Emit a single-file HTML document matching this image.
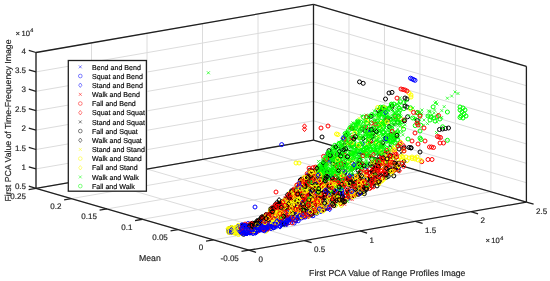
<!DOCTYPE html>
<html><head><meta charset="utf-8"><style>
html,body{margin:0;padding:0;background:#fff;width:550px;height:281px;overflow:hidden}
svg{display:block}
.g{stroke:#dcdcdc;stroke-width:1}
.a{stroke:#202020;stroke-width:1.3;fill:none}
rect.a{fill:#fff}
text{font-family:"Liberation Sans",Arial,sans-serif;fill:#262626;stroke:#262626;stroke-width:0.18px;text-rendering:geometricPrecision}
.t{font-size:8px}
.l{font-size:7.1px;fill:#000;stroke:#000;stroke-width:0.15px}
.al{font-size:8.7px}
.e{font-size:7.6px}
.s{font-size:5.4px}
</style></head><body>
<svg width="550" height="281" viewBox="0 0 550 281">
<g>
<line x1="248.9" y1="250.2" x2="36" y2="188.3" class="g"/>
<line x1="304.4" y1="240.58" x2="91.5" y2="178.68" class="g"/>
<line x1="359.9" y1="230.96" x2="147" y2="169.06" class="g"/>
<line x1="415.4" y1="221.34" x2="202.5" y2="159.44" class="g"/>
<line x1="470.9" y1="211.72" x2="258" y2="149.82" class="g"/>
<line x1="526.4" y1="202.1" x2="313.5" y2="140.2" class="g"/>
<line x1="248.9" y1="250.2" x2="526.4" y2="202.1" class="g"/>
<line x1="213.42" y1="239.88" x2="490.92" y2="191.78" class="g"/>
<line x1="177.93" y1="229.57" x2="455.43" y2="181.47" class="g"/>
<line x1="142.45" y1="219.25" x2="419.95" y2="171.15" class="g"/>
<line x1="106.97" y1="208.93" x2="384.47" y2="160.83" class="g"/>
<line x1="71.48" y1="198.62" x2="348.98" y2="150.52" class="g"/>
<line x1="36" y1="188.3" x2="313.5" y2="140.2" class="g"/>
<line x1="36" y1="188.3" x2="36" y2="52.5" class="g"/>
<line x1="91.5" y1="178.68" x2="91.5" y2="42.88" class="g"/>
<line x1="147" y1="169.06" x2="147" y2="33.26" class="g"/>
<line x1="202.5" y1="159.44" x2="202.5" y2="23.64" class="g"/>
<line x1="258" y1="149.82" x2="258" y2="14.02" class="g"/>
<line x1="313.5" y1="140.2" x2="313.5" y2="4.4" class="g"/>
<line x1="36" y1="188.3" x2="313.5" y2="140.2" class="g"/>
<line x1="36" y1="168.9" x2="313.5" y2="120.8" class="g"/>
<line x1="36" y1="149.5" x2="313.5" y2="101.4" class="g"/>
<line x1="36" y1="130.1" x2="313.5" y2="82" class="g"/>
<line x1="36" y1="110.7" x2="313.5" y2="62.6" class="g"/>
<line x1="36" y1="91.3" x2="313.5" y2="43.2" class="g"/>
<line x1="36" y1="71.9" x2="313.5" y2="23.8" class="g"/>
<line x1="36" y1="52.5" x2="313.5" y2="4.4" class="g"/>
<line x1="526.4" y1="202.1" x2="526.4" y2="66.3" class="g"/>
<line x1="490.92" y1="191.78" x2="490.92" y2="55.98" class="g"/>
<line x1="455.43" y1="181.47" x2="455.43" y2="45.67" class="g"/>
<line x1="419.95" y1="171.15" x2="419.95" y2="35.35" class="g"/>
<line x1="384.47" y1="160.83" x2="384.47" y2="25.03" class="g"/>
<line x1="348.98" y1="150.52" x2="348.98" y2="14.72" class="g"/>
<line x1="313.5" y1="140.2" x2="313.5" y2="4.4" class="g"/>
<line x1="526.4" y1="202.1" x2="313.5" y2="140.2" class="g"/>
<line x1="526.4" y1="182.7" x2="313.5" y2="120.8" class="g"/>
<line x1="526.4" y1="163.3" x2="313.5" y2="101.4" class="g"/>
<line x1="526.4" y1="143.9" x2="313.5" y2="82" class="g"/>
<line x1="526.4" y1="124.5" x2="313.5" y2="62.6" class="g"/>
<line x1="526.4" y1="105.1" x2="313.5" y2="43.2" class="g"/>
<line x1="526.4" y1="85.7" x2="313.5" y2="23.8" class="g"/>
<line x1="526.4" y1="66.3" x2="313.5" y2="4.4" class="g"/>
<line x1="36" y1="188.3" x2="36" y2="52.5" class="a"/>
<line x1="36" y1="52.5" x2="313.5" y2="4.4" class="a"/>
<line x1="313.5" y1="4.4" x2="526.4" y2="66.3" class="a"/>
<line x1="313.5" y1="140.2" x2="313.5" y2="4.4" class="a"/>
<line x1="526.4" y1="202.1" x2="526.4" y2="66.3" class="a"/>
<line x1="36" y1="188.3" x2="313.5" y2="140.2" class="a"/>
<line x1="313.5" y1="140.2" x2="526.4" y2="202.1" class="a"/>
<line x1="36" y1="188.3" x2="248.9" y2="250.2" class="a"/>
<line x1="248.9" y1="250.2" x2="526.4" y2="202.1" class="a"/>
</g>
<g>
<g fill="none" stroke-width="1">
<circle cx="269.4" cy="218.1" r="2" stroke="#000000"/>
<circle cx="397.5" cy="122.1" r="2" stroke="#000000"/>
<circle cx="387.0" cy="160.2" r="2" stroke="#ffff00"/>
<path d="M286.3 200.5l2 2.4l-2 2.4l-2 -2.4z" stroke="#ffff00"/>
<circle cx="236.3" cy="232.2" r="2" stroke="#0000ff"/>
<circle cx="337.1" cy="170.4" r="2" stroke="#00ff00"/>
<path d="M289.6 205.7l2 2.4l-2 2.4l-2 -2.4z" stroke="#0000ff"/>
<circle cx="231.2" cy="232.2" r="2" stroke="#ffff00"/>
<path d="M310.1 200.0l2 2.4l-2 2.4l-2 -2.4z" stroke="#ff0000"/>
<circle cx="367.7" cy="120.1" r="2" stroke="#00ff00"/>
<path d="M259.8 223.5l2 2.4l-2 2.4l-2 -2.4z" stroke="#0000ff"/>
<path d="M396.3 127.5l3 3m0 -3l-3 3" stroke="#00ff00" stroke-width=".7"/>
<path d="M275.7 219.5l2 2.4l-2 2.4l-2 -2.4z" stroke="#0000ff"/>
<circle cx="415.0" cy="80.3" r="2" stroke="#0000ff"/>
<circle cx="307.7" cy="208.1" r="2" stroke="#000000"/>
<path d="M350.4 152.9l3 3m0 -3l-3 3" stroke="#00ff00" stroke-width=".7"/>
<path d="M398.3 121.1l3 3m0 -3l-3 3" stroke="#00ff00" stroke-width=".7"/>
<circle cx="261.9" cy="223.1" r="2" stroke="#0000ff"/>
<path d="M318.9 198.3l3 3m0 -3l-3 3" stroke="#000000" stroke-width=".7"/>
<path d="M352.8 152.8l3 3m0 -3l-3 3" stroke="#00ff00" stroke-width=".7"/>
<circle cx="385.4" cy="138.0" r="2" stroke="#00ff00"/>
<circle cx="409.0" cy="147.5" r="2" stroke="#000000"/>
<circle cx="465.0" cy="110.0" r="2" stroke="#00ff00"/>
<path d="M283.0 199.8l2 2.4l-2 2.4l-2 -2.4z" stroke="#ff0000"/>
<circle cx="231.8" cy="231.0" r="2" stroke="#ffff00"/>
<circle cx="288.6" cy="204.9" r="2" stroke="#ffff00"/>
<circle cx="328.8" cy="182.3" r="2" stroke="#00ff00"/>
<path d="M268.1 227.1l3 3m0 -3l-3 3" stroke="#0000ff" stroke-width=".7"/>
<circle cx="318.3" cy="206.0" r="2" stroke="#ff0000"/>
<path d="M373.8 138.3l3 3m0 -3l-3 3" stroke="#ffff00" stroke-width=".7"/>
<circle cx="287.9" cy="205.3" r="2" stroke="#ffff00"/>
<circle cx="229.9" cy="228.7" r="2" stroke="#0000ff"/>
<path d="M283.3 203.7l2 2.4l-2 2.4l-2 -2.4z" stroke="#ffff00"/>
<circle cx="302.5" cy="209.1" r="2" stroke="#ff0000"/>
<path d="M368.2 129.4l3 3m0 -3l-3 3" stroke="#00ff00" stroke-width=".7"/>
<path d="M298.1 214.6l2 2.4l-2 2.4l-2 -2.4z" stroke="#ff0000"/>
<path d="M290.2 201.7l2 2.4l-2 2.4l-2 -2.4z" stroke="#ffff00"/>
<circle cx="310.3" cy="211.5" r="2" stroke="#000000"/>
<circle cx="289.2" cy="218.4" r="2" stroke="#000000"/>
<path d="M450.2 94.5l3 3m0 -3l-3 3" stroke="#00ff00" stroke-width=".7"/>
<path d="M376.1 152.6l3 3m0 -3l-3 3" stroke="#00ff00" stroke-width=".7"/>
<path d="M247.7 228.4l3 3m0 -3l-3 3" stroke="#0000ff" stroke-width=".7"/>
<circle cx="303.5" cy="214.9" r="2" stroke="#0000ff"/>
<circle cx="324.6" cy="166.5" r="2" stroke="#00ff00"/>
<path d="M358.1 154.8l3 3m0 -3l-3 3" stroke="#00ff00" stroke-width=".7"/>
<path d="M242.7 224.9l3 3m0 -3l-3 3" stroke="#0000ff" stroke-width=".7"/>
<path d="M347.2 157.8l3 3m0 -3l-3 3" stroke="#00ff00" stroke-width=".7"/>
<circle cx="412.0" cy="157.0" r="2" stroke="#ffff00"/>
<circle cx="272.3" cy="213.4" r="2" stroke="#ffff00"/>
<circle cx="392.0" cy="92.4" r="2" stroke="#000000"/>
<circle cx="253.4" cy="224.6" r="2" stroke="#000000"/>
<path d="M283.5 204.7l3 3m0 -3l-3 3" stroke="#000000" stroke-width=".7"/>
<circle cx="331.9" cy="154.6" r="2" stroke="#00ff00"/>
<path d="M366.1 140.1l3 3m0 -3l-3 3" stroke="#00ff00" stroke-width=".7"/>
<circle cx="305.0" cy="181.3" r="2" stroke="#ffff00"/>
<circle cx="375.8" cy="152.4" r="2" stroke="#000000"/>
<path d="M310.0 198.5l2 2.4l-2 2.4l-2 -2.4z" stroke="#ff0000"/>
<path d="M381.6 128.4l3 3m0 -3l-3 3" stroke="#00ff00" stroke-width=".7"/>
<path d="M274.5 216.8l3 3m0 -3l-3 3" stroke="#ffff00" stroke-width=".7"/>
<circle cx="300.1" cy="192.4" r="2" stroke="#0000ff"/>
<path d="M266.7 217.4l2 2.4l-2 2.4l-2 -2.4z" stroke="#ff0000"/>
<path d="M333.9 156.5l3 3m0 -3l-3 3" stroke="#00ff00" stroke-width=".7"/>
<circle cx="387.3" cy="118.5" r="2" stroke="#00ff00"/>
<circle cx="400.1" cy="142.7" r="2" stroke="#ff0000"/>
<circle cx="307.1" cy="180.5" r="2" stroke="#ff0000"/>
<circle cx="229.6" cy="229.1" r="2" stroke="#ffff00"/>
<path d="M299.2 208.4l3 3m0 -3l-3 3" stroke="#ff0000" stroke-width=".7"/>
<path d="M329.3 160.2l3 3m0 -3l-3 3" stroke="#000000" stroke-width=".7"/>
<circle cx="294.3" cy="217.9" r="2" stroke="#0000ff"/>
<circle cx="356.6" cy="193.5" r="2" stroke="#ff0000"/>
<path d="M250.7 223.5l2 2.4l-2 2.4l-2 -2.4z" stroke="#ff0000"/>
<circle cx="308.2" cy="190.0" r="2" stroke="#ffff00"/>
<circle cx="246.1" cy="232.8" r="2" stroke="#0000ff"/>
<path d="M265.3 225.6l3 3m0 -3l-3 3" stroke="#0000ff" stroke-width=".7"/>
<circle cx="298.7" cy="217.6" r="2" stroke="#000000"/>
<circle cx="337.2" cy="182.1" r="2" stroke="#ff0000"/>
<path d="M335.9 182.2l2 2.4l-2 2.4l-2 -2.4z" stroke="#ffff00"/>
<path d="M386.1 116.8l3 3m0 -3l-3 3" stroke="#ff0000" stroke-width=".7"/>
<circle cx="261.4" cy="225.6" r="2" stroke="#0000ff"/>
<circle cx="392.8" cy="135.8" r="2" stroke="#00ff00"/>
<circle cx="396.6" cy="169.3" r="2" stroke="#ff0000"/>
<path d="M262.9 222.3l2 2.4l-2 2.4l-2 -2.4z" stroke="#ff0000"/>
<path d="M273.0 208.8l3 3m0 -3l-3 3" stroke="#ff0000" stroke-width=".7"/>
<circle cx="260.1" cy="224.6" r="2" stroke="#0000ff"/>
<circle cx="329.5" cy="158.3" r="2" stroke="#00ff00"/>
<circle cx="253.2" cy="224.3" r="2" stroke="#000000"/>
<path d="M366.7 136.0l3 3m0 -3l-3 3" stroke="#00ff00" stroke-width=".7"/>
<path d="M331.5 148.5l3 3m0 -3l-3 3" stroke="#00ff00" stroke-width=".7"/>
<path d="M260.4 229.3l3 3m0 -3l-3 3" stroke="#0000ff" stroke-width=".7"/>
<path d="M382.6 107.5l3 3m0 -3l-3 3" stroke="#00ff00" stroke-width=".7"/>
<circle cx="345.8" cy="192.2" r="2" stroke="#ffff00"/>
<path d="M433.1 108.5l3 3m0 -3l-3 3" stroke="#00ff00" stroke-width=".7"/>
<path d="M316.1 187.2l3 3m0 -3l-3 3" stroke="#ff0000" stroke-width=".7"/>
<circle cx="249.3" cy="226.4" r="2" stroke="#000000"/>
<path d="M284.5 211.5l3 3m0 -3l-3 3" stroke="#0000ff" stroke-width=".7"/>
<circle cx="398.3" cy="167.7" r="2" stroke="#0000ff"/>
<path d="M371.4 111.9l3 3m0 -3l-3 3" stroke="#00ff00" stroke-width=".7"/>
<circle cx="235.4" cy="229.6" r="2" stroke="#ffff00"/>
<path d="M254.5 224.7l2 2.4l-2 2.4l-2 -2.4z" stroke="#ff0000"/>
<path d="M235.9 226.4l2 2.4l-2 2.4l-2 -2.4z" stroke="#ffff00"/>
<path d="M244.2 223.3l2 2.4l-2 2.4l-2 -2.4z" stroke="#0000ff"/>
<circle cx="244.7" cy="229.0" r="2" stroke="#0000ff"/>
<path d="M280.9 210.6l2 2.4l-2 2.4l-2 -2.4z" stroke="#000000"/>
<path d="M337.0 193.4l3 3m0 -3l-3 3" stroke="#ff0000" stroke-width=".7"/>
<circle cx="230.6" cy="228.6" r="2" stroke="#ffff00"/>
<circle cx="324.4" cy="195.1" r="2" stroke="#ff0000"/>
<circle cx="361.7" cy="171.9" r="2" stroke="#ffff00"/>
<path d="M318.0 178.0l3 3m0 -3l-3 3" stroke="#ff0000" stroke-width=".7"/>
<path d="M391.4 134.2l3 3m0 -3l-3 3" stroke="#00ff00" stroke-width=".7"/>
<circle cx="351.4" cy="153.8" r="2" stroke="#00ff00"/>
<circle cx="253.0" cy="233.5" r="2" stroke="#0000ff"/>
<path d="M440.2 116.0l3 3m0 -3l-3 3" stroke="#00ff00" stroke-width=".7"/>
<circle cx="367.8" cy="126.5" r="2" stroke="#00ff00"/>
<circle cx="407.6" cy="116.8" r="2" stroke="#000000"/>
<circle cx="310.2" cy="210.9" r="2" stroke="#ff0000"/>
<circle cx="257.7" cy="227.9" r="2" stroke="#0000ff"/>
<path d="M281.0 216.7l3 3m0 -3l-3 3" stroke="#ff0000" stroke-width=".7"/>
<path d="M277.1 205.4l3 3m0 -3l-3 3" stroke="#000000" stroke-width=".7"/>
<circle cx="359.5" cy="181.2" r="2" stroke="#ff0000"/>
<path d="M254.5 226.4l2 2.4l-2 2.4l-2 -2.4z" stroke="#0000ff"/>
<path d="M231.5 228.6l2 2.4l-2 2.4l-2 -2.4z" stroke="#ffff00"/>
<circle cx="360.9" cy="187.2" r="2" stroke="#ff0000"/>
<circle cx="317.1" cy="168.1" r="2" stroke="#ff0000"/>
<circle cx="291.7" cy="204.8" r="2" stroke="#ffff00"/>
<circle cx="259.8" cy="224.9" r="2" stroke="#0000ff"/>
<circle cx="373.4" cy="180.4" r="2" stroke="#000000"/>
<circle cx="349.0" cy="184.2" r="2" stroke="#000000"/>
<path d="M240.7 229.6l3 3m0 -3l-3 3" stroke="#000000" stroke-width=".7"/>
<circle cx="358.6" cy="126.8" r="2" stroke="#00ff00"/>
<circle cx="287.9" cy="217.4" r="2" stroke="#0000ff"/>
<path d="M352.6 127.6l3 3m0 -3l-3 3" stroke="#00ff00" stroke-width=".7"/>
<circle cx="330.6" cy="161.3" r="2" stroke="#00ff00"/>
<circle cx="357.8" cy="121.0" r="2" stroke="#00ff00"/>
<circle cx="331.8" cy="157.4" r="2" stroke="#000000"/>
<path d="M310.5 193.1l3 3m0 -3l-3 3" stroke="#000000" stroke-width=".7"/>
<path d="M357.9 116.7l3 3m0 -3l-3 3" stroke="#ffff00" stroke-width=".7"/>
<circle cx="308.7" cy="205.8" r="2" stroke="#000000"/>
<circle cx="325.9" cy="183.1" r="2" stroke="#ffff00"/>
<path d="M317.6 202.8l3 3m0 -3l-3 3" stroke="#000000" stroke-width=".7"/>
<path d="M243.2 227.8l3 3m0 -3l-3 3" stroke="#0000ff" stroke-width=".7"/>
<circle cx="230.2" cy="230.7" r="2" stroke="#0000ff"/>
<circle cx="257.1" cy="225.8" r="2" stroke="#0000ff"/>
<circle cx="311.6" cy="198.5" r="2" stroke="#ff0000"/>
<circle cx="260.8" cy="221.3" r="2" stroke="#000000"/>
<circle cx="393.5" cy="139.9" r="2" stroke="#00ff00"/>
<circle cx="245.1" cy="231.1" r="2" stroke="#0000ff"/>
<circle cx="349.6" cy="180.4" r="2" stroke="#000000"/>
<circle cx="272.3" cy="222.7" r="2" stroke="#0000ff"/>
<path d="M358.7 137.3l3 3m0 -3l-3 3" stroke="#00ff00" stroke-width=".7"/>
<path d="M330.2 193.9l2 2.4l-2 2.4l-2 -2.4z" stroke="#ff0000"/>
<circle cx="318.3" cy="195.7" r="2" stroke="#ff0000"/>
<path d="M343.2 181.2l2 2.4l-2 2.4l-2 -2.4z" stroke="#ff0000"/>
<path d="M395.8 136.6l3 3m0 -3l-3 3" stroke="#00ff00" stroke-width=".7"/>
<circle cx="276.3" cy="218.0" r="2" stroke="#ffff00"/>
<path d="M370.0 149.6l3 3m0 -3l-3 3" stroke="#00ff00" stroke-width=".7"/>
<circle cx="284.0" cy="218.5" r="2" stroke="#ff0000"/>
<path d="M389.5 119.2l3 3m0 -3l-3 3" stroke="#00ff00" stroke-width=".7"/>
<circle cx="320.2" cy="205.0" r="2" stroke="#ffff00"/>
<path d="M333.6 201.0l3 3m0 -3l-3 3" stroke="#ff0000" stroke-width=".7"/>
<path d="M227.0 226.8l3 3m0 -3l-3 3" stroke="#ffff00" stroke-width=".7"/>
<circle cx="302.4" cy="196.2" r="2" stroke="#ffff00"/>
<path d="M324.0 202.0l3 3m0 -3l-3 3" stroke="#00ff00" stroke-width=".7"/>
<circle cx="285.7" cy="220.4" r="2" stroke="#0000ff"/>
<path d="M363.2 182.6l2 2.4l-2 2.4l-2 -2.4z" stroke="#ff0000"/>
<circle cx="260.5" cy="225.8" r="2" stroke="#0000ff"/>
<path d="M326.7 201.7l3 3m0 -3l-3 3" stroke="#ff0000" stroke-width=".7"/>
<path d="M360.7 136.3l3 3m0 -3l-3 3" stroke="#000000" stroke-width=".7"/>
<circle cx="334.4" cy="184.2" r="2" stroke="#000000"/>
<circle cx="343.6" cy="186.3" r="2" stroke="#000000"/>
<path d="M347.8 136.3l3 3m0 -3l-3 3" stroke="#00ff00" stroke-width=".7"/>
<path d="M343.7 151.3l3 3m0 -3l-3 3" stroke="#00ff00" stroke-width=".7"/>
<circle cx="286.1" cy="215.3" r="2" stroke="#ffff00"/>
<circle cx="304.6" cy="191.9" r="2" stroke="#000000"/>
<circle cx="351.3" cy="195.5" r="2" stroke="#00ff00"/>
<path d="M326.2 180.0l3 3m0 -3l-3 3" stroke="#ff0000" stroke-width=".7"/>
<circle cx="265.5" cy="222.4" r="2" stroke="#ff0000"/>
<circle cx="437.0" cy="117.0" r="2" stroke="#00ff00"/>
<path d="M230.5 225.9l2 2.4l-2 2.4l-2 -2.4z" stroke="#ffff00"/>
<path d="M256.8 225.2l3 3m0 -3l-3 3" stroke="#0000ff" stroke-width=".7"/>
<circle cx="354.1" cy="167.0" r="2" stroke="#00ff00"/>
<circle cx="235.7" cy="229.8" r="2" stroke="#ffff00"/>
<circle cx="298.7" cy="187.3" r="2" stroke="#000000"/>
<circle cx="251.2" cy="226.6" r="2" stroke="#ff0000"/>
<path d="M321.3 157.9l3 3m0 -3l-3 3" stroke="#00ff00" stroke-width=".7"/>
<path d="M392.3 123.4l3 3m0 -3l-3 3" stroke="#000000" stroke-width=".7"/>
<path d="M283.1 220.7l3 3m0 -3l-3 3" stroke="#0000ff" stroke-width=".7"/>
<circle cx="411.0" cy="147.7" r="2" stroke="#000000"/>
<path d="M348.4 176.5l2 2.4l-2 2.4l-2 -2.4z" stroke="#ff0000"/>
<path d="M367.3 168.7l2 2.4l-2 2.4l-2 -2.4z" stroke="#ff0000"/>
<circle cx="382.8" cy="173.5" r="2" stroke="#ffff00"/>
<path d="M403.8 143.4l2 2.4l-2 2.4l-2 -2.4z" stroke="#ff0000"/>
<path d="M329.6 151.5l3 3m0 -3l-3 3" stroke="#00ff00" stroke-width=".7"/>
<path d="M262.2 218.1l2 2.4l-2 2.4l-2 -2.4z" stroke="#ffff00"/>
<path d="M338.2 164.8l3 3m0 -3l-3 3" stroke="#00ff00" stroke-width=".7"/>
<circle cx="318.6" cy="179.9" r="2" stroke="#ff0000"/>
<circle cx="415.0" cy="158.0" r="2" stroke="#ffff00"/>
<circle cx="253.2" cy="227.0" r="2" stroke="#000000"/>
<path d="M372.4 160.0l2 2.4l-2 2.4l-2 -2.4z" stroke="#ff0000"/>
<path d="M241.1 227.7l2 2.4l-2 2.4l-2 -2.4z" stroke="#0000ff"/>
<circle cx="296.9" cy="206.1" r="2" stroke="#ffff00"/>
<path d="M360.5 169.3l3 3m0 -3l-3 3" stroke="#00ff00" stroke-width=".7"/>
<circle cx="395.5" cy="164.1" r="2" stroke="#ff0000"/>
<path d="M289.5 216.6l3 3m0 -3l-3 3" stroke="#ff0000" stroke-width=".7"/>
<path d="M237.4 228.6l2 2.4l-2 2.4l-2 -2.4z" stroke="#ffff00"/>
<path d="M257.2 227.5l2 2.4l-2 2.4l-2 -2.4z" stroke="#ff0000"/>
<circle cx="464.0" cy="114.0" r="2" stroke="#00ff00"/>
<path d="M267.3 218.1l2 2.4l-2 2.4l-2 -2.4z" stroke="#0000ff"/>
<circle cx="238.6" cy="229.1" r="2" stroke="#ffff00"/>
<path d="M334.9 148.2l3 3m0 -3l-3 3" stroke="#00ff00" stroke-width=".7"/>
<circle cx="382.7" cy="123.1" r="2" stroke="#00ff00"/>
<circle cx="258.3" cy="223.8" r="2" stroke="#ff0000"/>
<path d="M352.3 173.6l3 3m0 -3l-3 3" stroke="#00ff00" stroke-width=".7"/>
<path d="M364.7 125.5l3 3m0 -3l-3 3" stroke="#00ff00" stroke-width=".7"/>
<path d="M305.1 191.6l3 3m0 -3l-3 3" stroke="#ff0000" stroke-width=".7"/>
<path d="M323.1 180.5l2 2.4l-2 2.4l-2 -2.4z" stroke="#0000ff"/>
<circle cx="376.8" cy="126.5" r="2" stroke="#ff0000"/>
<circle cx="282.2" cy="205.6" r="2" stroke="#ff0000"/>
<path d="M292.7 209.9l2 2.4l-2 2.4l-2 -2.4z" stroke="#ff0000"/>
<path d="M324.5 160.3l3 3m0 -3l-3 3" stroke="#00ff00" stroke-width=".7"/>
<path d="M339.8 167.7l3 3m0 -3l-3 3" stroke="#000000" stroke-width=".7"/>
<path d="M387.6 129.3l3 3m0 -3l-3 3" stroke="#00ff00" stroke-width=".7"/>
<circle cx="365.8" cy="152.8" r="2" stroke="#00ff00"/>
<path d="M325.6 160.0l3 3m0 -3l-3 3" stroke="#00ff00" stroke-width=".7"/>
<circle cx="428.0" cy="159.5" r="2" stroke="#ff0000"/>
<circle cx="320.0" cy="205.9" r="2" stroke="#ff0000"/>
<circle cx="350.3" cy="161.1" r="2" stroke="#00ff00"/>
<path d="M323.2 184.6l3 3m0 -3l-3 3" stroke="#00ff00" stroke-width=".7"/>
<circle cx="286.1" cy="212.8" r="2" stroke="#ff0000"/>
<circle cx="321.2" cy="190.2" r="2" stroke="#000000"/>
<path d="M376.8 113.1l3 3m0 -3l-3 3" stroke="#00ff00" stroke-width=".7"/>
<path d="M359.0 124.1l3 3m0 -3l-3 3" stroke="#00ff00" stroke-width=".7"/>
<path d="M380.4 145.2l3 3m0 -3l-3 3" stroke="#00ff00" stroke-width=".7"/>
<path d="M286.0 212.5l2 2.4l-2 2.4l-2 -2.4z" stroke="#000000"/>
<path d="M374.5 138.1l3 3m0 -3l-3 3" stroke="#00ff00" stroke-width=".7"/>
<path d="M356.1 119.8l3 3m0 -3l-3 3" stroke="#00ff00" stroke-width=".7"/>
<path d="M376.9 135.8l3 3m0 -3l-3 3" stroke="#00ff00" stroke-width=".7"/>
<path d="M318.3 165.6l3 3m0 -3l-3 3" stroke="#00ff00" stroke-width=".7"/>
<path d="M393.4 156.2l2 2.4l-2 2.4l-2 -2.4z" stroke="#000000"/>
<path d="M291.1 189.8l2 2.4l-2 2.4l-2 -2.4z" stroke="#ff0000"/>
<circle cx="356.8" cy="182.3" r="2" stroke="#000000"/>
<path d="M386.1 164.9l3 3m0 -3l-3 3" stroke="#ff0000" stroke-width=".7"/>
<circle cx="246.5" cy="233.5" r="2" stroke="#0000ff"/>
<circle cx="288.0" cy="198.1" r="2" stroke="#000000"/>
<path d="M364.9 145.1l3 3m0 -3l-3 3" stroke="#00ff00" stroke-width=".7"/>
<path d="M349.4 145.4l3 3m0 -3l-3 3" stroke="#000000" stroke-width=".7"/>
<path d="M279.4 212.0l3 3m0 -3l-3 3" stroke="#ff0000" stroke-width=".7"/>
<circle cx="332.9" cy="199.8" r="2" stroke="#ff0000"/>
<circle cx="254.7" cy="228.8" r="2" stroke="#ffff00"/>
<path d="M318.0 186.5l3 3m0 -3l-3 3" stroke="#ffff00" stroke-width=".7"/>
<path d="M252.3 229.2l3 3m0 -3l-3 3" stroke="#ff0000" stroke-width=".7"/>
<circle cx="289.6" cy="193.2" r="2" stroke="#ffff00"/>
<path d="M346.6 196.8l2 2.4l-2 2.4l-2 -2.4z" stroke="#ff0000"/>
<circle cx="240.6" cy="230.7" r="2" stroke="#ffff00"/>
<circle cx="313.1" cy="172.8" r="2" stroke="#000000"/>
<circle cx="272.6" cy="210.8" r="2" stroke="#ffff00"/>
<path d="M251.1 223.5l3 3m0 -3l-3 3" stroke="#000000" stroke-width=".7"/>
<path d="M259.7 220.3l3 3m0 -3l-3 3" stroke="#000000" stroke-width=".7"/>
<circle cx="296.7" cy="209.4" r="2" stroke="#ffff00"/>
<path d="M321.2 203.7l3 3m0 -3l-3 3" stroke="#000000" stroke-width=".7"/>
<path d="M355.3 120.0l3 3m0 -3l-3 3" stroke="#00ff00" stroke-width=".7"/>
<circle cx="278.2" cy="219.8" r="2" stroke="#0000ff"/>
<circle cx="377.3" cy="121.1" r="2" stroke="#00ff00"/>
<path d="M289.6 203.6l2 2.4l-2 2.4l-2 -2.4z" stroke="#ff0000"/>
<circle cx="296.4" cy="196.5" r="2" stroke="#ffff00"/>
<circle cx="315.5" cy="176.5" r="2" stroke="#000000"/>
<path d="M264.4 214.5l3 3m0 -3l-3 3" stroke="#000000" stroke-width=".7"/>
<path d="M309.0 188.8l3 3m0 -3l-3 3" stroke="#000000" stroke-width=".7"/>
<circle cx="314.2" cy="193.3" r="2" stroke="#ff0000"/>
<circle cx="330.1" cy="156.1" r="2" stroke="#0000ff"/>
<path d="M230.2 228.4l2 2.4l-2 2.4l-2 -2.4z" stroke="#ffff00"/>
<circle cx="293.4" cy="215.5" r="2" stroke="#000000"/>
<circle cx="391.8" cy="174.0" r="2" stroke="#ffff00"/>
<circle cx="405.0" cy="90.0" r="2" stroke="#ff0000"/>
<circle cx="388.4" cy="123.1" r="2" stroke="#00ff00"/>
<path d="M245.9 227.6l2 2.4l-2 2.4l-2 -2.4z" stroke="#0000ff"/>
<path d="M323.4 168.8l3 3m0 -3l-3 3" stroke="#00ff00" stroke-width=".7"/>
<path d="M277.2 220.7l2 2.4l-2 2.4l-2 -2.4z" stroke="#0000ff"/>
<circle cx="304.9" cy="193.0" r="2" stroke="#ff0000"/>
<circle cx="362.2" cy="129.1" r="2" stroke="#000000"/>
<circle cx="288.3" cy="210.7" r="2" stroke="#ff0000"/>
<circle cx="292.3" cy="220.0" r="2" stroke="#0000ff"/>
<circle cx="315.6" cy="175.7" r="2" stroke="#000000"/>
<circle cx="352.0" cy="144.7" r="2" stroke="#00ff00"/>
<path d="M396.2 155.2l2 2.4l-2 2.4l-2 -2.4z" stroke="#000000"/>
<path d="M233.4 227.8l2 2.4l-2 2.4l-2 -2.4z" stroke="#ffff00"/>
<circle cx="375.0" cy="121.9" r="2" stroke="#00ff00"/>
<path d="M318.2 194.0l3 3m0 -3l-3 3" stroke="#ff0000" stroke-width=".7"/>
<circle cx="247.2" cy="233.0" r="2" stroke="#0000ff"/>
<path d="M318.5 203.3l3 3m0 -3l-3 3" stroke="#ffff00" stroke-width=".7"/>
<circle cx="307.0" cy="181.3" r="2" stroke="#ff0000"/>
<path d="M349.0 151.2l3 3m0 -3l-3 3" stroke="#ffff00" stroke-width=".7"/>
<circle cx="360.0" cy="177.6" r="2" stroke="#ffff00"/>
<circle cx="312.4" cy="210.6" r="2" stroke="#ffff00"/>
<circle cx="343.1" cy="198.5" r="2" stroke="#000000"/>
<circle cx="309.2" cy="195.7" r="2" stroke="#ffff00"/>
<circle cx="277.5" cy="218.2" r="2" stroke="#ffff00"/>
<path d="M338.4 179.9l3 3m0 -3l-3 3" stroke="#000000" stroke-width=".7"/>
<circle cx="379.0" cy="114.4" r="2" stroke="#00ff00"/>
<path d="M343.3 145.5l3 3m0 -3l-3 3" stroke="#00ff00" stroke-width=".7"/>
<path d="M331.9 192.2l3 3m0 -3l-3 3" stroke="#ff0000" stroke-width=".7"/>
<circle cx="280.3" cy="205.9" r="2" stroke="#ff0000"/>
<path d="M254.9 222.9l3 3m0 -3l-3 3" stroke="#ff0000" stroke-width=".7"/>
<path d="M365.0 161.7l3 3m0 -3l-3 3" stroke="#00ff00" stroke-width=".7"/>
<circle cx="309.5" cy="181.3" r="2" stroke="#ff0000"/>
<circle cx="383.5" cy="160.0" r="2" stroke="#ff0000"/>
<circle cx="293.4" cy="190.9" r="2" stroke="#000000"/>
<circle cx="323.7" cy="208.4" r="2" stroke="#ffff00"/>
<circle cx="259.1" cy="224.0" r="2" stroke="#ffff00"/>
<path d="M363.5 151.5l3 3m0 -3l-3 3" stroke="#00ff00" stroke-width=".7"/>
<circle cx="255.3" cy="228.8" r="2" stroke="#0000ff"/>
<path d="M263.2 217.3l3 3m0 -3l-3 3" stroke="#000000" stroke-width=".7"/>
<circle cx="310.0" cy="172.0" r="2" stroke="#ff0000"/>
<circle cx="278.0" cy="208.3" r="2" stroke="#ffff00"/>
<path d="M400.3 130.3l3 3m0 -3l-3 3" stroke="#00ff00" stroke-width=".7"/>
<path d="M361.2 165.5l3 3m0 -3l-3 3" stroke="#00ff00" stroke-width=".7"/>
<path d="M255.3 230.7l3 3m0 -3l-3 3" stroke="#ff0000" stroke-width=".7"/>
<circle cx="258.2" cy="224.5" r="2" stroke="#ff0000"/>
<circle cx="236.8" cy="231.3" r="2" stroke="#ffff00"/>
<circle cx="278.7" cy="217.7" r="2" stroke="#ff0000"/>
<path d="M317.6 194.4l2 2.4l-2 2.4l-2 -2.4z" stroke="#000000"/>
<path d="M243.8 224.4l3 3m0 -3l-3 3" stroke="#0000ff" stroke-width=".7"/>
<circle cx="238.9" cy="230.9" r="2" stroke="#ffff00"/>
<path d="M397.9 157.7l2 2.4l-2 2.4l-2 -2.4z" stroke="#ff0000"/>
<circle cx="280.2" cy="220.6" r="2" stroke="#ffff00"/>
<circle cx="337.6" cy="158.2" r="2" stroke="#ffff00"/>
<circle cx="255.3" cy="232.9" r="2" stroke="#0000ff"/>
<path d="M373.8 114.2l3 3m0 -3l-3 3" stroke="#00ff00" stroke-width=".7"/>
<path d="M346.8 167.0l3 3m0 -3l-3 3" stroke="#00ff00" stroke-width=".7"/>
<path d="M434.5 100.5l3 3m0 -3l-3 3" stroke="#00ff00" stroke-width=".7"/>
<circle cx="391.2" cy="144.7" r="2" stroke="#00ff00"/>
<path d="M346.6 156.7l3 3m0 -3l-3 3" stroke="#00ff00" stroke-width=".7"/>
<circle cx="256.6" cy="227.9" r="2" stroke="#ff0000"/>
<path d="M355.3 186.3l3 3m0 -3l-3 3" stroke="#000000" stroke-width=".7"/>
<path d="M324.4 168.8l3 3m0 -3l-3 3" stroke="#00ff00" stroke-width=".7"/>
<circle cx="262.5" cy="228.7" r="2" stroke="#0000ff"/>
<path d="M283.7 213.1l2 2.4l-2 2.4l-2 -2.4z" stroke="#ffff00"/>
<path d="M323.0 180.4l2 2.4l-2 2.4l-2 -2.4z" stroke="#000000"/>
<circle cx="286.3" cy="206.5" r="2" stroke="#ffff00"/>
<circle cx="339.4" cy="175.5" r="2" stroke="#00ff00"/>
<path d="M403.6 123.4l3 3m0 -3l-3 3" stroke="#00ff00" stroke-width=".7"/>
<path d="M331.0 165.6l3 3m0 -3l-3 3" stroke="#00ff00" stroke-width=".7"/>
<circle cx="313.9" cy="211.0" r="2" stroke="#0000ff"/>
<path d="M352.5 151.3l3 3m0 -3l-3 3" stroke="#00ff00" stroke-width=".7"/>
<path d="M238.0 229.4l3 3m0 -3l-3 3" stroke="#ffff00" stroke-width=".7"/>
<circle cx="283.5" cy="214.0" r="2" stroke="#ffff00"/>
<path d="M411.5 106.5l3 3m0 -3l-3 3" stroke="#00ff00" stroke-width=".7"/>
<circle cx="259.3" cy="220.4" r="2" stroke="#ffff00"/>
<circle cx="232.9" cy="229.0" r="2" stroke="#ffff00"/>
<path d="M302.2 186.4l3 3m0 -3l-3 3" stroke="#ff0000" stroke-width=".7"/>
<circle cx="328.2" cy="169.5" r="2" stroke="#00ff00"/>
<path d="M313.0 184.9l3 3m0 -3l-3 3" stroke="#00ff00" stroke-width=".7"/>
<circle cx="300.6" cy="204.1" r="2" stroke="#000000"/>
<circle cx="372.0" cy="171.1" r="2" stroke="#ff0000"/>
<circle cx="306.2" cy="189.7" r="2" stroke="#ff0000"/>
<path d="M251.7 227.8l3 3m0 -3l-3 3" stroke="#0000ff" stroke-width=".7"/>
<path d="M243.4 225.2l3 3m0 -3l-3 3" stroke="#0000ff" stroke-width=".7"/>
<circle cx="338.6" cy="179.8" r="2" stroke="#00ff00"/>
<path d="M378.9 147.9l3 3m0 -3l-3 3" stroke="#00ff00" stroke-width=".7"/>
<circle cx="390.0" cy="127.8" r="2" stroke="#00ff00"/>
<path d="M303.6 203.4l2 2.4l-2 2.4l-2 -2.4z" stroke="#ff0000"/>
<path d="M365.8 183.5l3 3m0 -3l-3 3" stroke="#ff0000" stroke-width=".7"/>
<circle cx="335.0" cy="198.8" r="2" stroke="#ff0000"/>
<circle cx="403.4" cy="148.5" r="2" stroke="#ff0000"/>
<circle cx="284.9" cy="221.4" r="2" stroke="#0000ff"/>
<circle cx="246.2" cy="229.8" r="2" stroke="#0000ff"/>
<circle cx="316.8" cy="202.0" r="2" stroke="#ff0000"/>
<circle cx="325.2" cy="162.4" r="2" stroke="#00ff00"/>
<circle cx="342.6" cy="201.1" r="2" stroke="#ff0000"/>
<circle cx="448.5" cy="128.0" r="2" stroke="#000000"/>
<circle cx="365.5" cy="137.1" r="2" stroke="#00ff00"/>
<circle cx="304.2" cy="213.7" r="2" stroke="#ff0000"/>
<circle cx="314.5" cy="177.7" r="2" stroke="#ff0000"/>
<path d="M369.4 114.1l3 3m0 -3l-3 3" stroke="#00ff00" stroke-width=".7"/>
<circle cx="305.0" cy="187.9" r="2" stroke="#ffff00"/>
<circle cx="260.6" cy="223.6" r="2" stroke="#000000"/>
<path d="M308.1 183.5l3 3m0 -3l-3 3" stroke="#ffff00" stroke-width=".7"/>
<path d="M331.3 179.6l3 3m0 -3l-3 3" stroke="#00ff00" stroke-width=".7"/>
<circle cx="289.1" cy="201.2" r="2" stroke="#000000"/>
<circle cx="336.9" cy="184.4" r="2" stroke="#ffff00"/>
<path d="M255.3 222.9l2 2.4l-2 2.4l-2 -2.4z" stroke="#ffff00"/>
<circle cx="312.9" cy="215.8" r="2" stroke="#0000ff"/>
<circle cx="338.1" cy="185.4" r="2" stroke="#ff0000"/>
<path d="M338.7 196.9l3 3m0 -3l-3 3" stroke="#ffff00" stroke-width=".7"/>
<circle cx="339.6" cy="181.6" r="2" stroke="#00ff00"/>
<path d="M364.1 119.9l3 3m0 -3l-3 3" stroke="#00ff00" stroke-width=".7"/>
<path d="M320.9 168.7l3 3m0 -3l-3 3" stroke="#00ff00" stroke-width=".7"/>
<path d="M359.8 190.2l3 3m0 -3l-3 3" stroke="#000000" stroke-width=".7"/>
<path d="M345.5 155.8l3 3m0 -3l-3 3" stroke="#00ff00" stroke-width=".7"/>
<circle cx="263.7" cy="225.7" r="2" stroke="#ff0000"/>
<circle cx="255.9" cy="224.2" r="2" stroke="#ff0000"/>
<path d="M248.9 228.1l2 2.4l-2 2.4l-2 -2.4z" stroke="#0000ff"/>
<circle cx="279.5" cy="221.1" r="2" stroke="#0000ff"/>
<circle cx="261.0" cy="229.3" r="2" stroke="#0000ff"/>
<circle cx="231.3" cy="228.5" r="2" stroke="#ffff00"/>
<path d="M280.7 217.3l2 2.4l-2 2.4l-2 -2.4z" stroke="#0000ff"/>
<circle cx="339.1" cy="143.3" r="2" stroke="#00ff00"/>
<path d="M275.0 214.4l3 3m0 -3l-3 3" stroke="#ffff00" stroke-width=".7"/>
<circle cx="277.1" cy="217.8" r="2" stroke="#000000"/>
<path d="M292.6 208.0l3 3m0 -3l-3 3" stroke="#ff0000" stroke-width=".7"/>
<path d="M299.2 201.9l2 2.4l-2 2.4l-2 -2.4z" stroke="#ff0000"/>
<circle cx="304.9" cy="177.8" r="2" stroke="#ff0000"/>
<circle cx="355.7" cy="189.0" r="2" stroke="#000000"/>
<circle cx="323.6" cy="156.4" r="2" stroke="#ff0000"/>
<path d="M241.5 225.7l2 2.4l-2 2.4l-2 -2.4z" stroke="#000000"/>
<path d="M296.2 205.2l2 2.4l-2 2.4l-2 -2.4z" stroke="#ffff00"/>
<path d="M305.1 206.2l3 3m0 -3l-3 3" stroke="#ff0000" stroke-width=".7"/>
<path d="M350.0 136.6l3 3m0 -3l-3 3" stroke="#00ff00" stroke-width=".7"/>
<path d="M257.8 226.9l3 3m0 -3l-3 3" stroke="#0000ff" stroke-width=".7"/>
<path d="M401.3 133.4l3 3m0 -3l-3 3" stroke="#00ff00" stroke-width=".7"/>
<path d="M305.0 178.6l3 3m0 -3l-3 3" stroke="#ffff00" stroke-width=".7"/>
<path d="M315.9 169.0l2 2.4l-2 2.4l-2 -2.4z" stroke="#ffff00"/>
<path d="M342.9 190.8l2 2.4l-2 2.4l-2 -2.4z" stroke="#ff0000"/>
<path d="M365.5 184.2l3 3m0 -3l-3 3" stroke="#000000" stroke-width=".7"/>
<path d="M389.8 161.1l2 2.4l-2 2.4l-2 -2.4z" stroke="#ffff00"/>
<path d="M335.6 155.6l3 3m0 -3l-3 3" stroke="#00ff00" stroke-width=".7"/>
<path d="M365.8 161.9l3 3m0 -3l-3 3" stroke="#00ff00" stroke-width=".7"/>
<circle cx="356.5" cy="185.2" r="2" stroke="#ff0000"/>
<circle cx="257.2" cy="228.1" r="2" stroke="#0000ff"/>
<path d="M353.4 184.0l3 3m0 -3l-3 3" stroke="#00ff00" stroke-width=".7"/>
<path d="M285.0 207.3l3 3m0 -3l-3 3" stroke="#ffff00" stroke-width=".7"/>
<path d="M414.9 112.2l3 3m0 -3l-3 3" stroke="#00ff00" stroke-width=".7"/>
<circle cx="364.6" cy="177.0" r="2" stroke="#ffff00"/>
<path d="M300.8 192.2l2 2.4l-2 2.4l-2 -2.4z" stroke="#ff0000"/>
<path d="M241.1 228.5l2 2.4l-2 2.4l-2 -2.4z" stroke="#0000ff"/>
<circle cx="301.4" cy="179.3" r="2" stroke="#000000"/>
<circle cx="360.1" cy="136.1" r="2" stroke="#00ff00"/>
<circle cx="403.0" cy="157.5" r="2" stroke="#ffff00"/>
<circle cx="381.0" cy="170.5" r="2" stroke="#ff0000"/>
<path d="M445.9 96.7l3 3m0 -3l-3 3" stroke="#00ff00" stroke-width=".7"/>
<path d="M235.7 229.5l3 3m0 -3l-3 3" stroke="#ffff00" stroke-width=".7"/>
<circle cx="310.9" cy="178.6" r="2" stroke="#ff0000"/>
<path d="M326.2 164.0l3 3m0 -3l-3 3" stroke="#00ff00" stroke-width=".7"/>
<circle cx="343.0" cy="145.3" r="2" stroke="#ffff00"/>
<circle cx="266.9" cy="219.0" r="2" stroke="#ffff00"/>
<path d="M235.0 228.0l3 3m0 -3l-3 3" stroke="#ffff00" stroke-width=".7"/>
<path d="M270.9 207.6l3 3m0 -3l-3 3" stroke="#ff0000" stroke-width=".7"/>
<circle cx="368.1" cy="136.5" r="2" stroke="#00ff00"/>
<path d="M264.5 217.9l2 2.4l-2 2.4l-2 -2.4z" stroke="#000000"/>
<circle cx="411.0" cy="148.0" r="2" stroke="#000000"/>
<circle cx="317.4" cy="210.7" r="2" stroke="#000000"/>
<circle cx="328.9" cy="155.4" r="2" stroke="#000000"/>
<circle cx="298.4" cy="213.1" r="2" stroke="#000000"/>
<path d="M251.7 225.9l3 3m0 -3l-3 3" stroke="#ff0000" stroke-width=".7"/>
<path d="M324.9 183.1l2 2.4l-2 2.4l-2 -2.4z" stroke="#ffff00"/>
<circle cx="276.6" cy="207.7" r="2" stroke="#ff0000"/>
<path d="M325.7 166.9l3 3m0 -3l-3 3" stroke="#00ff00" stroke-width=".7"/>
<circle cx="240.7" cy="228.7" r="2" stroke="#0000ff"/>
<circle cx="302.6" cy="181.9" r="2" stroke="#ff0000"/>
<circle cx="322.5" cy="185.0" r="2" stroke="#0000ff"/>
<circle cx="308.1" cy="178.0" r="2" stroke="#000000"/>
<path d="M344.5 169.5l3 3m0 -3l-3 3" stroke="#00ff00" stroke-width=".7"/>
<circle cx="351.0" cy="173.6" r="2" stroke="#00ff00"/>
<circle cx="254.0" cy="228.2" r="2" stroke="#0000ff"/>
<path d="M243.9 231.9l3 3m0 -3l-3 3" stroke="#0000ff" stroke-width=".7"/>
<path d="M435.5 120.6l3 3m0 -3l-3 3" stroke="#00ff00" stroke-width=".7"/>
<circle cx="248.1" cy="223.5" r="2" stroke="#0000ff"/>
<circle cx="375.5" cy="159.6" r="2" stroke="#000000"/>
<circle cx="265.1" cy="223.4" r="2" stroke="#0000ff"/>
<circle cx="319.2" cy="179.3" r="2" stroke="#ffff00"/>
<path d="M362.3 178.1l3 3m0 -3l-3 3" stroke="#000000" stroke-width=".7"/>
<circle cx="246.1" cy="229.6" r="2" stroke="#000000"/>
<path d="M298.3 199.9l3 3m0 -3l-3 3" stroke="#ffff00" stroke-width=".7"/>
<circle cx="323.9" cy="186.9" r="2" stroke="#000000"/>
<path d="M349.9 173.7l3 3m0 -3l-3 3" stroke="#00ff00" stroke-width=".7"/>
<path d="M380.5 106.3l3 3m0 -3l-3 3" stroke="#00ff00" stroke-width=".7"/>
<path d="M326.2 181.0l2 2.4l-2 2.4l-2 -2.4z" stroke="#000000"/>
<circle cx="348.9" cy="194.9" r="2" stroke="#ffff00"/>
<path d="M368.6 153.7l3 3m0 -3l-3 3" stroke="#00ff00" stroke-width=".7"/>
<circle cx="390.0" cy="153.0" r="2" stroke="#ffff00"/>
<circle cx="335.6" cy="162.9" r="2" stroke="#00ff00"/>
<path d="M378.4 108.7l3 3m0 -3l-3 3" stroke="#00ff00" stroke-width=".7"/>
<circle cx="398.3" cy="116.6" r="2" stroke="#000000"/>
<circle cx="365.7" cy="140.6" r="2" stroke="#00ff00"/>
<path d="M315.4 182.0l3 3m0 -3l-3 3" stroke="#ff0000" stroke-width=".7"/>
<path d="M237.7 227.9l2 2.4l-2 2.4l-2 -2.4z" stroke="#0000ff"/>
<circle cx="282.4" cy="204.4" r="2" stroke="#000000"/>
<circle cx="322.6" cy="185.3" r="2" stroke="#ff0000"/>
<path d="M374.7 113.1l3 3m0 -3l-3 3" stroke="#00ff00" stroke-width=".7"/>
<path d="M370.1 137.0l3 3m0 -3l-3 3" stroke="#00ff00" stroke-width=".7"/>
<path d="M264.4 226.9l3 3m0 -3l-3 3" stroke="#ff0000" stroke-width=".7"/>
<circle cx="239.6" cy="229.9" r="2" stroke="#ffff00"/>
<path d="M390.2 113.5l3 3m0 -3l-3 3" stroke="#00ff00" stroke-width=".7"/>
<circle cx="400.4" cy="101.6" r="2" stroke="#00ff00"/>
<circle cx="246.9" cy="225.7" r="2" stroke="#0000ff"/>
<circle cx="380.8" cy="149.6" r="2" stroke="#00ff00"/>
<circle cx="269.6" cy="220.8" r="2" stroke="#0000ff"/>
<circle cx="246.4" cy="228.9" r="2" stroke="#0000ff"/>
<path d="M339.8 157.5l3 3m0 -3l-3 3" stroke="#00ff00" stroke-width=".7"/>
<circle cx="291.6" cy="190.8" r="2" stroke="#000000"/>
<path d="M271.3 215.9l3 3m0 -3l-3 3" stroke="#ffff00" stroke-width=".7"/>
<path d="M324.2 174.5l3 3m0 -3l-3 3" stroke="#00ff00" stroke-width=".7"/>
<circle cx="285.4" cy="223.5" r="2" stroke="#000000"/>
<path d="M335.3 174.3l2 2.4l-2 2.4l-2 -2.4z" stroke="#000000"/>
<circle cx="380.4" cy="163.5" r="2" stroke="#ff0000"/>
<path d="M374.9 121.6l3 3m0 -3l-3 3" stroke="#00ff00" stroke-width=".7"/>
<path d="M247.9 228.5l2 2.4l-2 2.4l-2 -2.4z" stroke="#0000ff"/>
<circle cx="395.3" cy="116.7" r="2" stroke="#ff0000"/>
<circle cx="375.5" cy="169.2" r="2" stroke="#000000"/>
<path d="M291.8 207.4l2 2.4l-2 2.4l-2 -2.4z" stroke="#ffff00"/>
<circle cx="285.2" cy="217.7" r="2" stroke="#0000ff"/>
<path d="M276.9 208.1l3 3m0 -3l-3 3" stroke="#ffff00" stroke-width=".7"/>
<path d="M254.7 229.9l2 2.4l-2 2.4l-2 -2.4z" stroke="#0000ff"/>
<path d="M349.3 152.3l3 3m0 -3l-3 3" stroke="#00ff00" stroke-width=".7"/>
<circle cx="352.1" cy="163.3" r="2" stroke="#000000"/>
<circle cx="323.7" cy="191.5" r="2" stroke="#ff0000"/>
<circle cx="431.5" cy="147.0" r="2" stroke="#ff0000"/>
<path d="M370.5 136.6l3 3m0 -3l-3 3" stroke="#00ff00" stroke-width=".7"/>
<circle cx="311.7" cy="172.1" r="2" stroke="#ff0000"/>
<circle cx="296.4" cy="190.3" r="2" stroke="#ff0000"/>
<path d="M287.0 202.3l3 3m0 -3l-3 3" stroke="#000000" stroke-width=".7"/>
<circle cx="371.5" cy="165.9" r="2" stroke="#ff0000"/>
<circle cx="328.4" cy="158.3" r="2" stroke="#00ff00"/>
<circle cx="338.4" cy="162.2" r="2" stroke="#00ff00"/>
<circle cx="245.2" cy="225.4" r="2" stroke="#0000ff"/>
<circle cx="273.3" cy="210.7" r="2" stroke="#000000"/>
<path d="M339.8 160.3l3 3m0 -3l-3 3" stroke="#00ff00" stroke-width=".7"/>
<circle cx="249.2" cy="230.4" r="2" stroke="#0000ff"/>
<circle cx="276.7" cy="214.6" r="2" stroke="#000000"/>
<circle cx="310.0" cy="215.6" r="2" stroke="#0000ff"/>
<circle cx="257.6" cy="229.9" r="2" stroke="#ff0000"/>
<path d="M339.0 147.3l3 3m0 -3l-3 3" stroke="#00ff00" stroke-width=".7"/>
<path d="M329.8 195.5l2 2.4l-2 2.4l-2 -2.4z" stroke="#000000"/>
<path d="M270.3 216.3l2 2.4l-2 2.4l-2 -2.4z" stroke="#ffff00"/>
<path d="M259.9 216.5l2 2.4l-2 2.4l-2 -2.4z" stroke="#000000"/>
<path d="M235.8 228.8l2 2.4l-2 2.4l-2 -2.4z" stroke="#ffff00"/>
<circle cx="386.2" cy="177.4" r="2" stroke="#000000"/>
<path d="M279.5 213.0l3 3m0 -3l-3 3" stroke="#ff0000" stroke-width=".7"/>
<path d="M303.7 205.7l2 2.4l-2 2.4l-2 -2.4z" stroke="#ff0000"/>
<path d="M385.4 112.6l3 3m0 -3l-3 3" stroke="#00ff00" stroke-width=".7"/>
<circle cx="265.0" cy="227.6" r="2" stroke="#0000ff"/>
<path d="M231.4 227.9l2 2.4l-2 2.4l-2 -2.4z" stroke="#ffff00"/>
<circle cx="245.4" cy="226.9" r="2" stroke="#ff0000"/>
<path d="M349.0 152.8l3 3m0 -3l-3 3" stroke="#00ff00" stroke-width=".7"/>
<path d="M251.8 227.4l3 3m0 -3l-3 3" stroke="#ffff00" stroke-width=".7"/>
<path d="M377.7 128.2l3 3m0 -3l-3 3" stroke="#00ff00" stroke-width=".7"/>
<circle cx="307.9" cy="176.1" r="2" stroke="#ff0000"/>
<path d="M302.1 212.5l2 2.4l-2 2.4l-2 -2.4z" stroke="#000000"/>
<circle cx="363.2" cy="83.3" r="2" stroke="#000000"/>
<path d="M343.5 200.5l3 3m0 -3l-3 3" stroke="#ff0000" stroke-width=".7"/>
<circle cx="350.4" cy="194.4" r="2" stroke="#ff0000"/>
<path d="M422.5 118.5l3 3m0 -3l-3 3" stroke="#00ff00" stroke-width=".7"/>
<circle cx="314.8" cy="203.4" r="2" stroke="#ffff00"/>
<path d="M250.2 230.2l2 2.4l-2 2.4l-2 -2.4z" stroke="#0000ff"/>
<circle cx="241.5" cy="230.4" r="2" stroke="#0000ff"/>
<path d="M308.7 213.6l2 2.4l-2 2.4l-2 -2.4z" stroke="#ff0000"/>
<circle cx="330.1" cy="197.0" r="2" stroke="#ffff00"/>
<circle cx="320.4" cy="199.2" r="2" stroke="#000000"/>
<path d="M292.4 194.9l2 2.4l-2 2.4l-2 -2.4z" stroke="#ffff00"/>
<circle cx="248.2" cy="227.1" r="2" stroke="#0000ff"/>
<circle cx="395.6" cy="165.4" r="2" stroke="#000000"/>
<circle cx="316.1" cy="175.4" r="2" stroke="#ff0000"/>
<path d="M338.9 148.1l3 3m0 -3l-3 3" stroke="#00ff00" stroke-width=".7"/>
<path d="M350.4 182.7l2 2.4l-2 2.4l-2 -2.4z" stroke="#ff0000"/>
<path d="M231.9 228.7l2 2.4l-2 2.4l-2 -2.4z" stroke="#0000ff"/>
<circle cx="291.4" cy="209.7" r="2" stroke="#000000"/>
<path d="M330.2 152.8l3 3m0 -3l-3 3" stroke="#00ff00" stroke-width=".7"/>
<path d="M392.2 119.7l3 3m0 -3l-3 3" stroke="#00ff00" stroke-width=".7"/>
<path d="M241.8 230.2l3 3m0 -3l-3 3" stroke="#ff0000" stroke-width=".7"/>
<circle cx="319.2" cy="176.0" r="2" stroke="#ffff00"/>
<circle cx="256.3" cy="224.9" r="2" stroke="#000000"/>
<path d="M319.5 196.7l3 3m0 -3l-3 3" stroke="#ffff00" stroke-width=".7"/>
<path d="M301.0 176.9l2 2.4l-2 2.4l-2 -2.4z" stroke="#000000"/>
<path d="M324.6 161.2l3 3m0 -3l-3 3" stroke="#00ff00" stroke-width=".7"/>
<path d="M300.2 186.2l3 3m0 -3l-3 3" stroke="#ffff00" stroke-width=".7"/>
<circle cx="290.0" cy="199.7" r="2" stroke="#ff0000"/>
<circle cx="242.2" cy="231.1" r="2" stroke="#0000ff"/>
<circle cx="360.1" cy="192.5" r="2" stroke="#ff0000"/>
<path d="M418.2 118.2l3 3m0 -3l-3 3" stroke="#00ff00" stroke-width=".7"/>
<circle cx="300.6" cy="187.0" r="2" stroke="#ffff00"/>
<circle cx="308.0" cy="188.5" r="2" stroke="#000000"/>
<circle cx="312.7" cy="213.1" r="2" stroke="#ff0000"/>
<circle cx="442.5" cy="129.0" r="2" stroke="#000000"/>
<circle cx="381.1" cy="163.2" r="2" stroke="#000000"/>
<path d="M333.4 154.3l3 3m0 -3l-3 3" stroke="#00ff00" stroke-width=".7"/>
<circle cx="311.8" cy="186.7" r="2" stroke="#000000"/>
<path d="M326.7 181.4l2 2.4l-2 2.4l-2 -2.4z" stroke="#000000"/>
<circle cx="384.2" cy="154.2" r="2" stroke="#000000"/>
<circle cx="235.3" cy="232.3" r="2" stroke="#ffff00"/>
<circle cx="335.4" cy="205.7" r="2" stroke="#ffff00"/>
<circle cx="284.6" cy="218.7" r="2" stroke="#ff0000"/>
<circle cx="313.0" cy="178.0" r="2" stroke="#ff0000"/>
<path d="M319.9 177.3l3 3m0 -3l-3 3" stroke="#000000" stroke-width=".7"/>
<path d="M384.5 152.2l2 2.4l-2 2.4l-2 -2.4z" stroke="#ff0000"/>
<circle cx="264.4" cy="226.9" r="2" stroke="#000000"/>
<circle cx="237.5" cy="228.4" r="2" stroke="#0000ff"/>
<path d="M314.3 173.7l3 3m0 -3l-3 3" stroke="#ff0000" stroke-width=".7"/>
<path d="M242.7 230.2l2 2.4l-2 2.4l-2 -2.4z" stroke="#0000ff"/>
<circle cx="252.8" cy="224.8" r="2" stroke="#000000"/>
<path d="M412.0 116.9l3 3m0 -3l-3 3" stroke="#00ff00" stroke-width=".7"/>
<path d="M306.2 216.0l3 3m0 -3l-3 3" stroke="#ff0000" stroke-width=".7"/>
<path d="M337.9 140.7l3 3m0 -3l-3 3" stroke="#00ff00" stroke-width=".7"/>
<circle cx="289.3" cy="213.2" r="2" stroke="#ffff00"/>
<path d="M328.1 172.6l3 3m0 -3l-3 3" stroke="#00ff00" stroke-width=".7"/>
<path d="M391.8 166.2l3 3m0 -3l-3 3" stroke="#000000" stroke-width=".7"/>
<path d="M394.3 112.3l3 3m0 -3l-3 3" stroke="#00ff00" stroke-width=".7"/>
<path d="M370.8 130.1l3 3m0 -3l-3 3" stroke="#00ff00" stroke-width=".7"/>
<circle cx="250.6" cy="229.8" r="2" stroke="#0000ff"/>
<circle cx="272.3" cy="209.6" r="2" stroke="#ff0000"/>
<path d="M323.1 202.5l3 3m0 -3l-3 3" stroke="#000000" stroke-width=".7"/>
<circle cx="285.7" cy="220.4" r="2" stroke="#0000ff"/>
<path d="M335.4 163.7l3 3m0 -3l-3 3" stroke="#00ff00" stroke-width=".7"/>
<circle cx="373.4" cy="136.0" r="2" stroke="#00ff00"/>
<path d="M302.3 208.6l3 3m0 -3l-3 3" stroke="#00ff00" stroke-width=".7"/>
<circle cx="238.8" cy="232.7" r="2" stroke="#ffff00"/>
<circle cx="388.0" cy="154.0" r="2" stroke="#ffff00"/>
<circle cx="330.2" cy="178.8" r="2" stroke="#ffff00"/>
<circle cx="331.1" cy="185.8" r="2" stroke="#ff0000"/>
<path d="M226.6 228.6l3 3m0 -3l-3 3" stroke="#ffff00" stroke-width=".7"/>
<circle cx="315.3" cy="187.0" r="2" stroke="#00ff00"/>
<path d="M298.0 190.4l2 2.4l-2 2.4l-2 -2.4z" stroke="#ff0000"/>
<circle cx="322.2" cy="197.2" r="2" stroke="#000000"/>
<path d="M228.5 229.1l2 2.4l-2 2.4l-2 -2.4z" stroke="#0000ff"/>
<path d="M293.3 197.1l2 2.4l-2 2.4l-2 -2.4z" stroke="#ffff00"/>
<circle cx="307.4" cy="176.1" r="2" stroke="#ff0000"/>
<circle cx="234.3" cy="230.6" r="2" stroke="#ffff00"/>
<circle cx="325.9" cy="192.4" r="2" stroke="#ff0000"/>
<path d="M416.5 110.5l3 3m0 -3l-3 3" stroke="#00ff00" stroke-width=".7"/>
<circle cx="359.6" cy="138.1" r="2" stroke="#00ff00"/>
<circle cx="334.3" cy="191.9" r="2" stroke="#ff0000"/>
<path d="M337.1 175.7l3 3m0 -3l-3 3" stroke="#00ff00" stroke-width=".7"/>
<path d="M251.6 224.8l2 2.4l-2 2.4l-2 -2.4z" stroke="#000000"/>
<path d="M426.9 114.6l3 3m0 -3l-3 3" stroke="#00ff00" stroke-width=".7"/>
<circle cx="302.5" cy="188.9" r="2" stroke="#ff0000"/>
<circle cx="356.2" cy="179.7" r="2" stroke="#ffff00"/>
<path d="M351.2 146.2l3 3m0 -3l-3 3" stroke="#00ff00" stroke-width=".7"/>
<path d="M363.1 126.4l3 3m0 -3l-3 3" stroke="#00ff00" stroke-width=".7"/>
<path d="M306.7 180.4l3 3m0 -3l-3 3" stroke="#00ff00" stroke-width=".7"/>
<path d="M341.0 194.4l2 2.4l-2 2.4l-2 -2.4z" stroke="#ff0000"/>
<path d="M384.7 109.9l3 3m0 -3l-3 3" stroke="#00ff00" stroke-width=".7"/>
<circle cx="361.4" cy="166.9" r="2" stroke="#00ff00"/>
<path d="M276.1 211.6l3 3m0 -3l-3 3" stroke="#ffff00" stroke-width=".7"/>
<path d="M272.0 223.0l3 3m0 -3l-3 3" stroke="#ff0000" stroke-width=".7"/>
<path d="M364.2 165.1l3 3m0 -3l-3 3" stroke="#00ff00" stroke-width=".7"/>
<circle cx="338.0" cy="134.5" r="2" stroke="#ffff00"/>
<circle cx="316.2" cy="183.7" r="2" stroke="#000000"/>
<path d="M316.2 178.8l2 2.4l-2 2.4l-2 -2.4z" stroke="#000000"/>
<path d="M397.7 118.4l3 3m0 -3l-3 3" stroke="#00ff00" stroke-width=".7"/>
<circle cx="282.5" cy="201.4" r="2" stroke="#000000"/>
<circle cx="364.1" cy="191.5" r="2" stroke="#000000"/>
<circle cx="307.8" cy="176.6" r="2" stroke="#ff0000"/>
<path d="M314.3 171.7l2 2.4l-2 2.4l-2 -2.4z" stroke="#ff0000"/>
<circle cx="270.0" cy="219.9" r="2" stroke="#0000ff"/>
<circle cx="341.8" cy="184.3" r="2" stroke="#000000"/>
<path d="M389.6 105.5l3 3m0 -3l-3 3" stroke="#00ff00" stroke-width=".7"/>
<path d="M324.5 195.4l2 2.4l-2 2.4l-2 -2.4z" stroke="#000000"/>
<circle cx="302.6" cy="198.3" r="2" stroke="#0000ff"/>
<circle cx="354.2" cy="195.7" r="2" stroke="#000000"/>
<path d="M383.2 132.9l3 3m0 -3l-3 3" stroke="#00ff00" stroke-width=".7"/>
<circle cx="260.8" cy="221.6" r="2" stroke="#000000"/>
<path d="M302.3 210.5l3 3m0 -3l-3 3" stroke="#000000" stroke-width=".7"/>
<circle cx="341.7" cy="180.4" r="2" stroke="#000000"/>
<path d="M364.9 160.2l3 3m0 -3l-3 3" stroke="#00ff00" stroke-width=".7"/>
<circle cx="255.1" cy="226.8" r="2" stroke="#000000"/>
<circle cx="358.5" cy="188.8" r="2" stroke="#00ff00"/>
<circle cx="269.5" cy="222.2" r="2" stroke="#0000ff"/>
<path d="M396.1 116.2l3 3m0 -3l-3 3" stroke="#00ff00" stroke-width=".7"/>
<circle cx="255.8" cy="229.5" r="2" stroke="#0000ff"/>
<circle cx="290.5" cy="213.1" r="2" stroke="#ffff00"/>
<path d="M368.5 161.4l3 3m0 -3l-3 3" stroke="#00ff00" stroke-width=".7"/>
<path d="M392.2 135.9l3 3m0 -3l-3 3" stroke="#00ff00" stroke-width=".7"/>
<circle cx="381.4" cy="163.8" r="2" stroke="#ffff00"/>
<circle cx="345.8" cy="135.0" r="2" stroke="#00ff00"/>
<circle cx="242.4" cy="230.1" r="2" stroke="#0000ff"/>
<circle cx="330.7" cy="184.6" r="2" stroke="#ff0000"/>
<circle cx="299.6" cy="183.4" r="2" stroke="#ffff00"/>
<path d="M322.2 178.6l2 2.4l-2 2.4l-2 -2.4z" stroke="#ff0000"/>
<circle cx="253.4" cy="228.7" r="2" stroke="#0000ff"/>
<path d="M353.9 149.2l3 3m0 -3l-3 3" stroke="#00ff00" stroke-width=".7"/>
<circle cx="254.5" cy="229.1" r="2" stroke="#0000ff"/>
<path d="M394.0 123.6l3 3m0 -3l-3 3" stroke="#00ff00" stroke-width=".7"/>
<path d="M275.6 218.1l2 2.4l-2 2.4l-2 -2.4z" stroke="#ff0000"/>
<circle cx="334.8" cy="182.4" r="2" stroke="#00ff00"/>
<circle cx="295.9" cy="211.9" r="2" stroke="#ff0000"/>
<circle cx="282.3" cy="207.7" r="2" stroke="#000000"/>
<path d="M250.7 222.7l2 2.4l-2 2.4l-2 -2.4z" stroke="#000000"/>
<path d="M317.8 197.6l2 2.4l-2 2.4l-2 -2.4z" stroke="#ff0000"/>
<path d="M361.7 144.2l3 3m0 -3l-3 3" stroke="#00ff00" stroke-width=".7"/>
<circle cx="402.3" cy="121.8" r="2" stroke="#00ff00"/>
<circle cx="356.7" cy="165.7" r="2" stroke="#00ff00"/>
<path d="M363.7 151.4l3 3m0 -3l-3 3" stroke="#00ff00" stroke-width=".7"/>
<circle cx="297.2" cy="189.8" r="2" stroke="#ff0000"/>
<circle cx="417.0" cy="157.0" r="2" stroke="#ffff00"/>
<circle cx="348.0" cy="139.7" r="2" stroke="#00ff00"/>
<circle cx="270.9" cy="218.5" r="2" stroke="#ff0000"/>
<path d="M356.4 171.2l3 3m0 -3l-3 3" stroke="#00ff00" stroke-width=".7"/>
<circle cx="251.9" cy="229.1" r="2" stroke="#0000ff"/>
<path d="M277.5 202.4l2 2.4l-2 2.4l-2 -2.4z" stroke="#ff0000"/>
<path d="M340.6 144.2l3 3m0 -3l-3 3" stroke="#000000" stroke-width=".7"/>
<circle cx="376.9" cy="170.2" r="2" stroke="#ff0000"/>
<circle cx="314.0" cy="200.0" r="2" stroke="#ff0000"/>
<circle cx="303.4" cy="198.2" r="2" stroke="#000000"/>
<circle cx="324.0" cy="175.7" r="2" stroke="#ffff00"/>
<path d="M387.5 139.0l3 3m0 -3l-3 3" stroke="#00ff00" stroke-width=".7"/>
<path d="M380.4 107.1l3 3m0 -3l-3 3" stroke="#00ff00" stroke-width=".7"/>
<circle cx="394.3" cy="169.0" r="2" stroke="#ff0000"/>
<path d="M281.9 203.4l3 3m0 -3l-3 3" stroke="#ff0000" stroke-width=".7"/>
<circle cx="309.8" cy="170.3" r="2" stroke="#000000"/>
<circle cx="278.7" cy="205.4" r="2" stroke="#000000"/>
<circle cx="295.7" cy="220.3" r="2" stroke="#0000ff"/>
<path d="M251.5 228.1l3 3m0 -3l-3 3" stroke="#ff0000" stroke-width=".7"/>
<circle cx="350.2" cy="142.6" r="2" stroke="#ff0000"/>
<path d="M235.8 230.7l2 2.4l-2 2.4l-2 -2.4z" stroke="#ffff00"/>
<path d="M257.6 229.0l2 2.4l-2 2.4l-2 -2.4z" stroke="#ff0000"/>
<circle cx="299.0" cy="163.0" r="2" stroke="#ffff00"/>
<path d="M282.0 216.7l3 3m0 -3l-3 3" stroke="#0000ff" stroke-width=".7"/>
<path d="M357.3 186.9l2 2.4l-2 2.4l-2 -2.4z" stroke="#000000"/>
<path d="M303.2 190.0l3 3m0 -3l-3 3" stroke="#000000" stroke-width=".7"/>
<path d="M313.9 201.1l3 3m0 -3l-3 3" stroke="#ff0000" stroke-width=".7"/>
<path d="M357.8 125.6l3 3m0 -3l-3 3" stroke="#ffff00" stroke-width=".7"/>
<path d="M369.4 183.6l2 2.4l-2 2.4l-2 -2.4z" stroke="#ff0000"/>
<path d="M336.5 178.6l3 3m0 -3l-3 3" stroke="#00ff00" stroke-width=".7"/>
<circle cx="317.1" cy="186.0" r="2" stroke="#ffff00"/>
<path d="M331.5 152.0l2 2.4l-2 2.4l-2 -2.4z" stroke="#0000ff"/>
<path d="M263.6 224.6l3 3m0 -3l-3 3" stroke="#0000ff" stroke-width=".7"/>
<circle cx="379.4" cy="128.0" r="2" stroke="#00ff00"/>
<circle cx="364.3" cy="193.7" r="2" stroke="#000000"/>
<path d="M320.9 183.4l3 3m0 -3l-3 3" stroke="#ffff00" stroke-width=".7"/>
<circle cx="247.6" cy="226.4" r="2" stroke="#0000ff"/>
<path d="M357.2 190.3l2 2.4l-2 2.4l-2 -2.4z" stroke="#0000ff"/>
<path d="M393.9 137.2l3 3m0 -3l-3 3" stroke="#00ff00" stroke-width=".7"/>
<path d="M253.3 225.4l3 3m0 -3l-3 3" stroke="#ff0000" stroke-width=".7"/>
<circle cx="228.5" cy="229.8" r="2" stroke="#ffff00"/>
<circle cx="241.9" cy="225.3" r="2" stroke="#0000ff"/>
<circle cx="236.6" cy="228.7" r="2" stroke="#ffff00"/>
<path d="M367.9 115.7l3 3m0 -3l-3 3" stroke="#00ff00" stroke-width=".7"/>
<circle cx="300.9" cy="212.9" r="2" stroke="#ffff00"/>
<path d="M286.6 222.2l2 2.4l-2 2.4l-2 -2.4z" stroke="#0000ff"/>
<path d="M342.2 167.1l3 3m0 -3l-3 3" stroke="#00ff00" stroke-width=".7"/>
<circle cx="356.4" cy="125.0" r="2" stroke="#00ff00"/>
<path d="M249.2 229.0l2 2.4l-2 2.4l-2 -2.4z" stroke="#000000"/>
<circle cx="371.9" cy="186.1" r="2" stroke="#000000"/>
<path d="M251.2 223.1l2 2.4l-2 2.4l-2 -2.4z" stroke="#ffff00"/>
<circle cx="335.3" cy="164.2" r="2" stroke="#00ff00"/>
<path d="M319.4 195.1l3 3m0 -3l-3 3" stroke="#ff0000" stroke-width=".7"/>
<circle cx="292.8" cy="193.8" r="2" stroke="#ff0000"/>
<path d="M402.5 160.1l3 3m0 -3l-3 3" stroke="#ff0000" stroke-width=".7"/>
<path d="M323.4 208.2l3 3m0 -3l-3 3" stroke="#ffff00" stroke-width=".7"/>
<circle cx="316.0" cy="204.4" r="2" stroke="#ffff00"/>
<path d="M230.1 227.8l2 2.4l-2 2.4l-2 -2.4z" stroke="#ffff00"/>
<circle cx="300.3" cy="180.2" r="2" stroke="#000000"/>
<circle cx="399.2" cy="108.1" r="2" stroke="#00ff00"/>
<path d="M358.5 160.6l2 2.4l-2 2.4l-2 -2.4z" stroke="#000000"/>
<circle cx="293.1" cy="204.4" r="2" stroke="#ffff00"/>
<path d="M321.6 174.6l3 3m0 -3l-3 3" stroke="#00ff00" stroke-width=".7"/>
<circle cx="251.1" cy="228.8" r="2" stroke="#0000ff"/>
<circle cx="271.4" cy="218.3" r="2" stroke="#ff0000"/>
<circle cx="396.2" cy="154.5" r="2" stroke="#ff0000"/>
<path d="M395.8 131.0l3 3m0 -3l-3 3" stroke="#00ff00" stroke-width=".7"/>
<path d="M254.3 226.9l3 3m0 -3l-3 3" stroke="#0000ff" stroke-width=".7"/>
<path d="M374.0 149.1l3 3m0 -3l-3 3" stroke="#00ff00" stroke-width=".7"/>
<path d="M369.2 133.8l3 3m0 -3l-3 3" stroke="#00ff00" stroke-width=".7"/>
<circle cx="249.7" cy="228.4" r="2" stroke="#000000"/>
<path d="M282.6 221.1l2 2.4l-2 2.4l-2 -2.4z" stroke="#0000ff"/>
<circle cx="333.6" cy="204.2" r="2" stroke="#ff0000"/>
<circle cx="341.5" cy="177.6" r="2" stroke="#00ff00"/>
<circle cx="302.8" cy="185.5" r="2" stroke="#ff0000"/>
<path d="M351.4 187.0l3 3m0 -3l-3 3" stroke="#00ff00" stroke-width=".7"/>
<path d="M313.1 202.8l3 3m0 -3l-3 3" stroke="#ff0000" stroke-width=".7"/>
<path d="M379.6 111.5l3 3m0 -3l-3 3" stroke="#00ff00" stroke-width=".7"/>
<path d="M394.2 103.8l3 3m0 -3l-3 3" stroke="#00ff00" stroke-width=".7"/>
<circle cx="386.8" cy="168.4" r="2" stroke="#ffff00"/>
<circle cx="251.3" cy="228.5" r="2" stroke="#0000ff"/>
<circle cx="335.5" cy="161.7" r="2" stroke="#000000"/>
<circle cx="345.0" cy="167.8" r="2" stroke="#000000"/>
<path d="M324.8 154.9l3 3m0 -3l-3 3" stroke="#00ff00" stroke-width=".7"/>
<circle cx="314.5" cy="204.8" r="2" stroke="#000000"/>
<path d="M322.2 197.2l3 3m0 -3l-3 3" stroke="#ff0000" stroke-width=".7"/>
<circle cx="381.4" cy="170.3" r="2" stroke="#ffff00"/>
<path d="M288.1 193.8l2 2.4l-2 2.4l-2 -2.4z" stroke="#000000"/>
<circle cx="386.1" cy="164.9" r="2" stroke="#000000"/>
<circle cx="242.2" cy="228.0" r="2" stroke="#0000ff"/>
<circle cx="231.3" cy="227.5" r="2" stroke="#ffff00"/>
<circle cx="385.0" cy="171.3" r="2" stroke="#ff0000"/>
<circle cx="242.4" cy="227.9" r="2" stroke="#0000ff"/>
<path d="M378.0 125.4l3 3m0 -3l-3 3" stroke="#00ff00" stroke-width=".7"/>
<path d="M353.1 193.9l3 3m0 -3l-3 3" stroke="#ffff00" stroke-width=".7"/>
<circle cx="328.1" cy="158.0" r="2" stroke="#00ff00"/>
<circle cx="235.7" cy="229.4" r="2" stroke="#ffff00"/>
<path d="M389.1 133.5l3 3m0 -3l-3 3" stroke="#00ff00" stroke-width=".7"/>
<circle cx="384.9" cy="140.0" r="2" stroke="#00ff00"/>
<circle cx="256.9" cy="228.8" r="2" stroke="#0000ff"/>
<path d="M320.5 203.0l2 2.4l-2 2.4l-2 -2.4z" stroke="#ffff00"/>
<circle cx="376.3" cy="142.0" r="2" stroke="#00ff00"/>
<path d="M368.9 149.1l3 3m0 -3l-3 3" stroke="#00ff00" stroke-width=".7"/>
<circle cx="336.2" cy="177.6" r="2" stroke="#000000"/>
<circle cx="262.8" cy="225.7" r="2" stroke="#0000ff"/>
<circle cx="373.1" cy="170.2" r="2" stroke="#000000"/>
<path d="M327.3 191.6l2 2.4l-2 2.4l-2 -2.4z" stroke="#ffff00"/>
<circle cx="397.3" cy="165.0" r="2" stroke="#ff0000"/>
<circle cx="230.9" cy="229.9" r="2" stroke="#ffff00"/>
<path d="M305.0 201.5l2 2.4l-2 2.4l-2 -2.4z" stroke="#ff0000"/>
<circle cx="284.4" cy="223.3" r="2" stroke="#0000ff"/>
<circle cx="245.3" cy="227.9" r="2" stroke="#0000ff"/>
<path d="M326.7 185.1l2 2.4l-2 2.4l-2 -2.4z" stroke="#ff0000"/>
<circle cx="353.9" cy="138.3" r="2" stroke="#00ff00"/>
<path d="M396.9 118.0l3 3m0 -3l-3 3" stroke="#00ff00" stroke-width=".7"/>
<path d="M376.5 134.1l3 3m0 -3l-3 3" stroke="#00ff00" stroke-width=".7"/>
<path d="M394.4 117.0l3 3m0 -3l-3 3" stroke="#00ff00" stroke-width=".7"/>
<circle cx="425.0" cy="141.0" r="2" stroke="#ff0000"/>
<path d="M229.4 227.9l3 3m0 -3l-3 3" stroke="#0000ff" stroke-width=".7"/>
<path d="M374.1 160.1l3 3m0 -3l-3 3" stroke="#00ff00" stroke-width=".7"/>
<circle cx="297.5" cy="201.4" r="2" stroke="#000000"/>
<circle cx="313.7" cy="197.7" r="2" stroke="#ffff00"/>
<circle cx="291.7" cy="196.9" r="2" stroke="#ff0000"/>
<circle cx="234.9" cy="228.8" r="2" stroke="#ffff00"/>
<circle cx="264.4" cy="219.9" r="2" stroke="#ffff00"/>
<path d="M347.1 134.4l3 3m0 -3l-3 3" stroke="#00ff00" stroke-width=".7"/>
<circle cx="275.2" cy="204.8" r="2" stroke="#000000"/>
<path d="M274.4 223.4l3 3m0 -3l-3 3" stroke="#0000ff" stroke-width=".7"/>
<circle cx="250.0" cy="231.7" r="2" stroke="#0000ff"/>
<path d="M353.5 156.9l3 3m0 -3l-3 3" stroke="#00ff00" stroke-width=".7"/>
<circle cx="344.7" cy="181.4" r="2" stroke="#000000"/>
<path d="M297.2 206.6l2 2.4l-2 2.4l-2 -2.4z" stroke="#ffff00"/>
<path d="M344.3 148.6l3 3m0 -3l-3 3" stroke="#00ff00" stroke-width=".7"/>
<circle cx="366.9" cy="166.7" r="2" stroke="#0000ff"/>
<circle cx="276.5" cy="217.9" r="2" stroke="#000000"/>
<path d="M232.4 227.7l3 3m0 -3l-3 3" stroke="#ffff00" stroke-width=".7"/>
<circle cx="342.1" cy="200.2" r="2" stroke="#000000"/>
<circle cx="387.6" cy="158.6" r="2" stroke="#ff0000"/>
<path d="M294.5 200.5l3 3m0 -3l-3 3" stroke="#ffff00" stroke-width=".7"/>
<circle cx="250.1" cy="231.7" r="2" stroke="#0000ff"/>
<circle cx="231.9" cy="232.1" r="2" stroke="#ffff00"/>
<path d="M342.5 183.6l3 3m0 -3l-3 3" stroke="#ffff00" stroke-width=".7"/>
<circle cx="320.2" cy="197.1" r="2" stroke="#ffff00"/>
<circle cx="356.4" cy="179.7" r="2" stroke="#ff0000"/>
<circle cx="322.0" cy="206.0" r="2" stroke="#000000"/>
<path d="M325.9 205.9l2 2.4l-2 2.4l-2 -2.4z" stroke="#0000ff"/>
<circle cx="286.6" cy="217.7" r="2" stroke="#ff0000"/>
<circle cx="381.5" cy="145.0" r="2" stroke="#ff0000"/>
<path d="M363.2 136.2l2 2.4l-2 2.4l-2 -2.4z" stroke="#000000"/>
<path d="M378.2 145.6l3 3m0 -3l-3 3" stroke="#00ff00" stroke-width=".7"/>
<circle cx="333.7" cy="175.1" r="2" stroke="#00ff00"/>
<circle cx="344.8" cy="144.9" r="2" stroke="#000000"/>
<path d="M351.1 158.2l3 3m0 -3l-3 3" stroke="#00ff00" stroke-width=".7"/>
<circle cx="252.6" cy="232.0" r="2" stroke="#ff0000"/>
<circle cx="325.1" cy="158.0" r="2" stroke="#00ff00"/>
<circle cx="248.4" cy="226.1" r="2" stroke="#ffff00"/>
<circle cx="305.3" cy="200.4" r="2" stroke="#ffff00"/>
<circle cx="293.7" cy="191.6" r="2" stroke="#ffff00"/>
<circle cx="316.3" cy="190.8" r="2" stroke="#ffff00"/>
<circle cx="307.9" cy="200.4" r="2" stroke="#ffff00"/>
<circle cx="301.1" cy="180.8" r="2" stroke="#ff0000"/>
<circle cx="292.6" cy="195.0" r="2" stroke="#000000"/>
<path d="M297.7 208.3l2 2.4l-2 2.4l-2 -2.4z" stroke="#ffff00"/>
<path d="M331.5 167.1l3 3m0 -3l-3 3" stroke="#ffff00" stroke-width=".7"/>
<circle cx="240.9" cy="228.6" r="2" stroke="#ffff00"/>
<path d="M382.7 162.8l3 3m0 -3l-3 3" stroke="#ffff00" stroke-width=".7"/>
<circle cx="407.0" cy="107.0" r="2" stroke="#000000"/>
<path d="M373.1 145.8l3 3m0 -3l-3 3" stroke="#00ff00" stroke-width=".7"/>
<path d="M297.0 201.5l3 3m0 -3l-3 3" stroke="#ffff00" stroke-width=".7"/>
<circle cx="279.0" cy="203.0" r="2" stroke="#000000"/>
<circle cx="302.6" cy="200.2" r="2" stroke="#0000ff"/>
<path d="M287.1 214.5l2 2.4l-2 2.4l-2 -2.4z" stroke="#ffff00"/>
<circle cx="365.9" cy="127.3" r="2" stroke="#ff0000"/>
<path d="M334.8 189.2l3 3m0 -3l-3 3" stroke="#000000" stroke-width=".7"/>
<path d="M316.1 205.5l2 2.4l-2 2.4l-2 -2.4z" stroke="#ff0000"/>
<circle cx="265.5" cy="219.4" r="2" stroke="#ffff00"/>
<circle cx="240.3" cy="230.1" r="2" stroke="#0000ff"/>
<circle cx="273.8" cy="215.1" r="2" stroke="#ff0000"/>
<path d="M374.9 162.1l3 3m0 -3l-3 3" stroke="#000000" stroke-width=".7"/>
<circle cx="358.4" cy="148.2" r="2" stroke="#ffff00"/>
<path d="M360.1 124.4l3 3m0 -3l-3 3" stroke="#00ff00" stroke-width=".7"/>
<circle cx="339.8" cy="198.6" r="2" stroke="#ff0000"/>
<path d="M332.0 172.4l3 3m0 -3l-3 3" stroke="#00ff00" stroke-width=".7"/>
<circle cx="308.7" cy="174.3" r="2" stroke="#0000ff"/>
<path d="M360.7 149.8l3 3m0 -3l-3 3" stroke="#00ff00" stroke-width=".7"/>
<circle cx="317.3" cy="188.0" r="2" stroke="#ff0000"/>
<path d="M382.7 117.3l3 3m0 -3l-3 3" stroke="#00ff00" stroke-width=".7"/>
<circle cx="247.9" cy="226.3" r="2" stroke="#0000ff"/>
<path d="M350.7 198.0l3 3m0 -3l-3 3" stroke="#ff0000" stroke-width=".7"/>
<path d="M278.7 202.5l3 3m0 -3l-3 3" stroke="#000000" stroke-width=".7"/>
<circle cx="305.9" cy="188.8" r="2" stroke="#ffff00"/>
<circle cx="370.3" cy="149.6" r="2" stroke="#ffff00"/>
<path d="M389.3 170.6l3 3m0 -3l-3 3" stroke="#ffff00" stroke-width=".7"/>
<circle cx="265.7" cy="226.0" r="2" stroke="#0000ff"/>
<path d="M327.9 156.6l3 3m0 -3l-3 3" stroke="#00ff00" stroke-width=".7"/>
<circle cx="331.0" cy="159.3" r="2" stroke="#00ff00"/>
<path d="M374.8 166.1l2 2.4l-2 2.4l-2 -2.4z" stroke="#000000"/>
<circle cx="348.3" cy="161.5" r="2" stroke="#00ff00"/>
<circle cx="306.5" cy="204.1" r="2" stroke="#000000"/>
<path d="M377.2 111.2l3 3m0 -3l-3 3" stroke="#00ff00" stroke-width=".7"/>
<path d="M422.1 123.6l3 3m0 -3l-3 3" stroke="#00ff00" stroke-width=".7"/>
<circle cx="278.5" cy="213.1" r="2" stroke="#0000ff"/>
<path d="M323.4 194.8l3 3m0 -3l-3 3" stroke="#000000" stroke-width=".7"/>
<circle cx="385.3" cy="175.6" r="2" stroke="#ff0000"/>
<path d="M343.4 201.1l3 3m0 -3l-3 3" stroke="#ffff00" stroke-width=".7"/>
<circle cx="366.0" cy="154.1" r="2" stroke="#ff0000"/>
<path d="M358.9 148.7l3 3m0 -3l-3 3" stroke="#00ff00" stroke-width=".7"/>
<path d="M238.2 226.7l2 2.4l-2 2.4l-2 -2.4z" stroke="#ffff00"/>
<circle cx="235.6" cy="227.8" r="2" stroke="#ffff00"/>
<path d="M330.9 158.7l3 3m0 -3l-3 3" stroke="#00ff00" stroke-width=".7"/>
<path d="M287.4 207.3l3 3m0 -3l-3 3" stroke="#ffff00" stroke-width=".7"/>
<circle cx="314.6" cy="194.1" r="2" stroke="#0000ff"/>
<circle cx="299.6" cy="190.9" r="2" stroke="#000000"/>
<circle cx="302.7" cy="217.2" r="2" stroke="#ff0000"/>
<circle cx="288.9" cy="217.3" r="2" stroke="#ffff00"/>
<path d="M362.1 135.6l3 3m0 -3l-3 3" stroke="#00ff00" stroke-width=".7"/>
<circle cx="307.2" cy="173.7" r="2" stroke="#ff0000"/>
<path d="M327.7 155.0l3 3m0 -3l-3 3" stroke="#00ff00" stroke-width=".7"/>
<circle cx="254.5" cy="227.5" r="2" stroke="#ff0000"/>
<circle cx="275.4" cy="214.4" r="2" stroke="#ffff00"/>
<circle cx="328.2" cy="207.3" r="2" stroke="#000000"/>
<path d="M280.7 213.0l2 2.4l-2 2.4l-2 -2.4z" stroke="#ff0000"/>
<path d="M361.8 160.7l3 3m0 -3l-3 3" stroke="#00ff00" stroke-width=".7"/>
<circle cx="367.6" cy="187.4" r="2" stroke="#ff0000"/>
<circle cx="278.7" cy="205.4" r="2" stroke="#ffff00"/>
<circle cx="376.9" cy="110.1" r="2" stroke="#00ff00"/>
<circle cx="298.3" cy="212.7" r="2" stroke="#ffff00"/>
<circle cx="375.4" cy="170.9" r="2" stroke="#ffff00"/>
<path d="M334.6 191.8l3 3m0 -3l-3 3" stroke="#ffff00" stroke-width=".7"/>
<circle cx="435.0" cy="121.0" r="2" stroke="#00ff00"/>
<path d="M245.4 229.8l3 3m0 -3l-3 3" stroke="#0000ff" stroke-width=".7"/>
<path d="M338.9 165.1l2 2.4l-2 2.4l-2 -2.4z" stroke="#000000"/>
<circle cx="304.0" cy="189.7" r="2" stroke="#000000"/>
<circle cx="301.3" cy="181.7" r="2" stroke="#ff0000"/>
<path d="M304.3 203.7l3 3m0 -3l-3 3" stroke="#000000" stroke-width=".7"/>
<circle cx="322.3" cy="201.0" r="2" stroke="#000000"/>
<circle cx="302.9" cy="189.9" r="2" stroke="#ffff00"/>
<path d="M358.0 145.8l3 3m0 -3l-3 3" stroke="#00ff00" stroke-width=".7"/>
<circle cx="396.3" cy="134.9" r="2" stroke="#ffff00"/>
<path d="M247.2 228.9l3 3m0 -3l-3 3" stroke="#0000ff" stroke-width=".7"/>
<path d="M311.6 200.3l3 3m0 -3l-3 3" stroke="#000000" stroke-width=".7"/>
<circle cx="250.3" cy="224.3" r="2" stroke="#000000"/>
<circle cx="369.8" cy="131.7" r="2" stroke="#00ff00"/>
<path d="M363.8 132.3l3 3m0 -3l-3 3" stroke="#00ff00" stroke-width=".7"/>
<circle cx="297.1" cy="192.6" r="2" stroke="#ffff00"/>
<circle cx="320.2" cy="168.5" r="2" stroke="#000000"/>
<path d="M399.1 124.4l3 3m0 -3l-3 3" stroke="#00ff00" stroke-width=".7"/>
<circle cx="362.8" cy="150.1" r="2" stroke="#00ff00"/>
<circle cx="350.0" cy="190.7" r="2" stroke="#ff0000"/>
<circle cx="366.4" cy="154.7" r="2" stroke="#ffff00"/>
<circle cx="250.4" cy="223.9" r="2" stroke="#ff0000"/>
<circle cx="371.1" cy="143.6" r="2" stroke="#ffff00"/>
<circle cx="349.2" cy="192.3" r="2" stroke="#000000"/>
<path d="M344.9 174.7l3 3m0 -3l-3 3" stroke="#00ff00" stroke-width=".7"/>
<circle cx="373.4" cy="127.7" r="2" stroke="#00ff00"/>
<path d="M341.9 152.8l3 3m0 -3l-3 3" stroke="#00ff00" stroke-width=".7"/>
<path d="M292.5 204.5l3 3m0 -3l-3 3" stroke="#ffff00" stroke-width=".7"/>
<path d="M329.6 168.3l3 3m0 -3l-3 3" stroke="#00ff00" stroke-width=".7"/>
<circle cx="241.4" cy="229.3" r="2" stroke="#0000ff"/>
<circle cx="353.8" cy="143.0" r="2" stroke="#00ff00"/>
<circle cx="359.5" cy="81.9" r="2" stroke="#000000"/>
<circle cx="368.4" cy="183.8" r="2" stroke="#0000ff"/>
<path d="M383.1 145.0l3 3m0 -3l-3 3" stroke="#00ff00" stroke-width=".7"/>
<circle cx="307.4" cy="205.9" r="2" stroke="#000000"/>
<circle cx="355.4" cy="186.4" r="2" stroke="#000000"/>
<path d="M262.5 215.9l3 3m0 -3l-3 3" stroke="#000000" stroke-width=".7"/>
<circle cx="372.2" cy="176.4" r="2" stroke="#ff0000"/>
<circle cx="229.6" cy="230.6" r="2" stroke="#0000ff"/>
<path d="M375.1 118.6l3 3m0 -3l-3 3" stroke="#00ff00" stroke-width=".7"/>
<path d="M239.6 225.9l3 3m0 -3l-3 3" stroke="#0000ff" stroke-width=".7"/>
<circle cx="236.1" cy="232.9" r="2" stroke="#0000ff"/>
<path d="M356.8 171.0l3 3m0 -3l-3 3" stroke="#00ff00" stroke-width=".7"/>
<circle cx="337.7" cy="180.5" r="2" stroke="#000000"/>
<circle cx="384.2" cy="124.0" r="2" stroke="#00ff00"/>
<path d="M234.1 226.7l2 2.4l-2 2.4l-2 -2.4z" stroke="#0000ff"/>
<circle cx="366.7" cy="131.6" r="2" stroke="#00ff00"/>
<circle cx="229.9" cy="230.2" r="2" stroke="#ffff00"/>
<path d="M345.9 129.9l3 3m0 -3l-3 3" stroke="#00ff00" stroke-width=".7"/>
<circle cx="383.8" cy="132.6" r="2" stroke="#00ff00"/>
<circle cx="262.5" cy="226.7" r="2" stroke="#0000ff"/>
<path d="M335.7 183.7l2 2.4l-2 2.4l-2 -2.4z" stroke="#ffff00"/>
<path d="M314.1 192.8l3 3m0 -3l-3 3" stroke="#ffff00" stroke-width=".7"/>
<path d="M237.2 229.9l2 2.4l-2 2.4l-2 -2.4z" stroke="#ffff00"/>
<circle cx="298.7" cy="218.5" r="2" stroke="#0000ff"/>
<path d="M253.8 224.4l3 3m0 -3l-3 3" stroke="#000000" stroke-width=".7"/>
<circle cx="294.4" cy="215.8" r="2" stroke="#0000ff"/>
<path d="M300.1 214.5l2 2.4l-2 2.4l-2 -2.4z" stroke="#ff0000"/>
<circle cx="283.7" cy="223.7" r="2" stroke="#0000ff"/>
<path d="M321.9 187.2l3 3m0 -3l-3 3" stroke="#ff0000" stroke-width=".7"/>
<path d="M228.0 226.4l2 2.4l-2 2.4l-2 -2.4z" stroke="#ffff00"/>
<path d="M324.2 175.1l3 3m0 -3l-3 3" stroke="#00ff00" stroke-width=".7"/>
<path d="M303.9 184.1l3 3m0 -3l-3 3" stroke="#000000" stroke-width=".7"/>
<circle cx="228.7" cy="229.0" r="2" stroke="#ffff00"/>
<path d="M379.6 121.6l3 3m0 -3l-3 3" stroke="#00ff00" stroke-width=".7"/>
<path d="M275.1 220.7l3 3m0 -3l-3 3" stroke="#0000ff" stroke-width=".7"/>
<circle cx="348.4" cy="198.3" r="2" stroke="#0000ff"/>
<path d="M337.0 195.4l2 2.4l-2 2.4l-2 -2.4z" stroke="#ffff00"/>
<circle cx="250.5" cy="230.0" r="2" stroke="#0000ff"/>
<path d="M299.5 190.5l3 3m0 -3l-3 3" stroke="#000000" stroke-width=".7"/>
<circle cx="275.9" cy="215.8" r="2" stroke="#ffff00"/>
<path d="M334.8 188.3l3 3m0 -3l-3 3" stroke="#00ff00" stroke-width=".7"/>
<path d="M386.8 108.9l3 3m0 -3l-3 3" stroke="#00ff00" stroke-width=".7"/>
<circle cx="310.0" cy="210.5" r="2" stroke="#ffff00"/>
<circle cx="350.5" cy="196.5" r="2" stroke="#ff0000"/>
<circle cx="229.1" cy="228.9" r="2" stroke="#ffff00"/>
<path d="M334.1 168.4l3 3m0 -3l-3 3" stroke="#00ff00" stroke-width=".7"/>
<circle cx="352.9" cy="138.1" r="2" stroke="#00ff00"/>
<path d="M262.1 228.5l3 3m0 -3l-3 3" stroke="#0000ff" stroke-width=".7"/>
<circle cx="275.3" cy="224.5" r="2" stroke="#0000ff"/>
<circle cx="305.6" cy="203.3" r="2" stroke="#ffff00"/>
<path d="M256.9 220.7l2 2.4l-2 2.4l-2 -2.4z" stroke="#ff0000"/>
<path d="M303.5 205.1l2 2.4l-2 2.4l-2 -2.4z" stroke="#000000"/>
<path d="M246.7 224.9l2 2.4l-2 2.4l-2 -2.4z" stroke="#0000ff"/>
<circle cx="296.5" cy="216.9" r="2" stroke="#ff0000"/>
<path d="M346.8 133.8l3 3m0 -3l-3 3" stroke="#00ff00" stroke-width=".7"/>
<circle cx="385.0" cy="108.1" r="2" stroke="#00ff00"/>
<path d="M262.4 219.7l2 2.4l-2 2.4l-2 -2.4z" stroke="#0000ff"/>
<circle cx="234.7" cy="229.2" r="2" stroke="#ffff00"/>
<path d="M389.6 156.8l3 3m0 -3l-3 3" stroke="#ffff00" stroke-width=".7"/>
<path d="M275.4 223.2l3 3m0 -3l-3 3" stroke="#0000ff" stroke-width=".7"/>
<circle cx="305.9" cy="201.5" r="2" stroke="#ffff00"/>
<circle cx="304.9" cy="195.5" r="2" stroke="#ff0000"/>
<path d="M333.3 163.4l3 3m0 -3l-3 3" stroke="#00ff00" stroke-width=".7"/>
<path d="M367.0 169.6l2 2.4l-2 2.4l-2 -2.4z" stroke="#ff0000"/>
<circle cx="345.4" cy="154.3" r="2" stroke="#00ff00"/>
<circle cx="400.6" cy="118.6" r="2" stroke="#ffff00"/>
<circle cx="393.8" cy="175.9" r="2" stroke="#000000"/>
<circle cx="382.9" cy="174.5" r="2" stroke="#ff0000"/>
<circle cx="382.0" cy="167.1" r="2" stroke="#ffff00"/>
<path d="M380.5 144.4l3 3m0 -3l-3 3" stroke="#00ff00" stroke-width=".7"/>
<circle cx="350.2" cy="192.5" r="2" stroke="#ff0000"/>
<path d="M329.8 157.7l3 3m0 -3l-3 3" stroke="#00ff00" stroke-width=".7"/>
<path d="M355.7 158.2l3 3m0 -3l-3 3" stroke="#00ff00" stroke-width=".7"/>
<circle cx="367.0" cy="179.2" r="2" stroke="#00ff00"/>
<circle cx="373.6" cy="148.9" r="2" stroke="#00ff00"/>
<circle cx="323.2" cy="164.7" r="2" stroke="#00ff00"/>
<path d="M335.8 167.4l3 3m0 -3l-3 3" stroke="#00ff00" stroke-width=".7"/>
<circle cx="285.7" cy="199.4" r="2" stroke="#000000"/>
<circle cx="293.4" cy="214.3" r="2" stroke="#ff0000"/>
<circle cx="267.0" cy="221.4" r="2" stroke="#0000ff"/>
<path d="M259.5 228.1l2 2.4l-2 2.4l-2 -2.4z" stroke="#0000ff"/>
<path d="M332.1 181.6l3 3m0 -3l-3 3" stroke="#ffff00" stroke-width=".7"/>
<path d="M344.6 181.3l3 3m0 -3l-3 3" stroke="#00ff00" stroke-width=".7"/>
<path d="M351.4 154.3l3 3m0 -3l-3 3" stroke="#00ff00" stroke-width=".7"/>
<circle cx="362.7" cy="187.0" r="2" stroke="#ff0000"/>
<path d="M281.6 210.4l3 3m0 -3l-3 3" stroke="#000000" stroke-width=".7"/>
<path d="M326.7 202.7l3 3m0 -3l-3 3" stroke="#ff0000" stroke-width=".7"/>
<circle cx="303.3" cy="187.9" r="2" stroke="#ff0000"/>
<circle cx="339.3" cy="160.6" r="2" stroke="#00ff00"/>
<circle cx="232.7" cy="230.7" r="2" stroke="#ffff00"/>
<path d="M371.3 138.8l2 2.4l-2 2.4l-2 -2.4z" stroke="#000000"/>
<path d="M340.3 138.3l3 3m0 -3l-3 3" stroke="#00ff00" stroke-width=".7"/>
<path d="M327.1 176.0l3 3m0 -3l-3 3" stroke="#00ff00" stroke-width=".7"/>
<path d="M396.4 102.8l3 3m0 -3l-3 3" stroke="#00ff00" stroke-width=".7"/>
<path d="M370.0 139.6l2 2.4l-2 2.4l-2 -2.4z" stroke="#ff0000"/>
<circle cx="254.8" cy="225.3" r="2" stroke="#000000"/>
<circle cx="299.1" cy="216.9" r="2" stroke="#ffff00"/>
<path d="M287.9 205.5l3 3m0 -3l-3 3" stroke="#ffff00" stroke-width=".7"/>
<circle cx="264.5" cy="219.0" r="2" stroke="#ff0000"/>
<circle cx="267.1" cy="223.0" r="2" stroke="#0000ff"/>
<circle cx="348.0" cy="182.3" r="2" stroke="#ffff00"/>
<circle cx="428.0" cy="116.0" r="2" stroke="#00ff00"/>
<path d="M378.1 106.2l3 3m0 -3l-3 3" stroke="#00ff00" stroke-width=".7"/>
<circle cx="371.6" cy="158.8" r="2" stroke="#000000"/>
<circle cx="460.0" cy="110.0" r="2" stroke="#00ff00"/>
<circle cx="308.1" cy="193.6" r="2" stroke="#ff0000"/>
<circle cx="379.2" cy="180.2" r="2" stroke="#ff0000"/>
<circle cx="403.6" cy="166.3" r="2" stroke="#ff0000"/>
<circle cx="439.0" cy="137.0" r="2" stroke="#ff0000"/>
<path d="M372.9 149.6l3 3m0 -3l-3 3" stroke="#00ff00" stroke-width=".7"/>
<circle cx="368.9" cy="172.8" r="2" stroke="#ff0000"/>
<path d="M320.2 205.2l3 3m0 -3l-3 3" stroke="#ffff00" stroke-width=".7"/>
<path d="M303.9 207.7l2 2.4l-2 2.4l-2 -2.4z" stroke="#000000"/>
<circle cx="390.3" cy="171.9" r="2" stroke="#ffff00"/>
<path d="M321.6 195.8l3 3m0 -3l-3 3" stroke="#ff0000" stroke-width=".7"/>
<path d="M307.9 201.5l3 3m0 -3l-3 3" stroke="#ffff00" stroke-width=".7"/>
<path d="M345.0 139.0l3 3m0 -3l-3 3" stroke="#00ff00" stroke-width=".7"/>
<circle cx="323.5" cy="209.5" r="2" stroke="#0000ff"/>
<circle cx="272.8" cy="224.2" r="2" stroke="#0000ff"/>
<path d="M282.6 206.8l3 3m0 -3l-3 3" stroke="#000000" stroke-width=".7"/>
<path d="M383.4 143.4l3 3m0 -3l-3 3" stroke="#00ff00" stroke-width=".7"/>
<path d="M384.8 139.9l3 3m0 -3l-3 3" stroke="#00ff00" stroke-width=".7"/>
<circle cx="301.2" cy="181.8" r="2" stroke="#ff0000"/>
<path d="M376.2 115.6l3 3m0 -3l-3 3" stroke="#ffff00" stroke-width=".7"/>
<circle cx="302.0" cy="200.8" r="2" stroke="#ff0000"/>
<circle cx="295.6" cy="206.1" r="2" stroke="#ffff00"/>
<circle cx="274.1" cy="225.3" r="2" stroke="#0000ff"/>
<path d="M347.0 193.6l3 3m0 -3l-3 3" stroke="#ff0000" stroke-width=".7"/>
<path d="M328.5 187.6l3 3m0 -3l-3 3" stroke="#ff0000" stroke-width=".7"/>
<path d="M346.1 194.3l3 3m0 -3l-3 3" stroke="#00ff00" stroke-width=".7"/>
<circle cx="333.3" cy="174.1" r="2" stroke="#ffff00"/>
<circle cx="326.4" cy="176.0" r="2" stroke="#ff0000"/>
<circle cx="432.0" cy="159.5" r="2" stroke="#ff0000"/>
<path d="M309.7 177.9l3 3m0 -3l-3 3" stroke="#0000ff" stroke-width=".7"/>
<circle cx="359.4" cy="154.0" r="2" stroke="#0000ff"/>
<circle cx="369.5" cy="177.1" r="2" stroke="#ffff00"/>
<circle cx="255.5" cy="232.7" r="2" stroke="#0000ff"/>
<path d="M334.6 154.0l3 3m0 -3l-3 3" stroke="#00ff00" stroke-width=".7"/>
<path d="M305.3 179.0l2 2.4l-2 2.4l-2 -2.4z" stroke="#ff0000"/>
<path d="M309.8 169.5l2 2.4l-2 2.4l-2 -2.4z" stroke="#ffff00"/>
<circle cx="381.3" cy="145.9" r="2" stroke="#00ff00"/>
<path d="M296.3 200.7l2 2.4l-2 2.4l-2 -2.4z" stroke="#ff0000"/>
<path d="M391.7 105.3l3 3m0 -3l-3 3" stroke="#00ff00" stroke-width=".7"/>
<circle cx="233.2" cy="231.5" r="2" stroke="#ffff00"/>
<circle cx="330.1" cy="171.9" r="2" stroke="#00ff00"/>
<path d="M456.5 92.0l3 3m0 -3l-3 3" stroke="#00ff00" stroke-width=".7"/>
<circle cx="239.9" cy="233.1" r="2" stroke="#ffff00"/>
<path d="M256.1 226.2l2 2.4l-2 2.4l-2 -2.4z" stroke="#0000ff"/>
<path d="M326.1 162.7l3 3m0 -3l-3 3" stroke="#ff0000" stroke-width=".7"/>
<path d="M382.8 143.3l3 3m0 -3l-3 3" stroke="#00ff00" stroke-width=".7"/>
<path d="M358.8 178.3l2 2.4l-2 2.4l-2 -2.4z" stroke="#ff0000"/>
<path d="M428.8 110.5l3 3m0 -3l-3 3" stroke="#00ff00" stroke-width=".7"/>
<circle cx="284.0" cy="206.6" r="2" stroke="#ffff00"/>
<circle cx="246.7" cy="228.9" r="2" stroke="#0000ff"/>
<path d="M251.2 223.7l3 3m0 -3l-3 3" stroke="#000000" stroke-width=".7"/>
<path d="M386.3 133.7l3 3m0 -3l-3 3" stroke="#00ff00" stroke-width=".7"/>
<circle cx="304.1" cy="177.5" r="2" stroke="#ffff00"/>
<circle cx="294.1" cy="215.5" r="2" stroke="#ffff00"/>
<path d="M304.9 207.1l2 2.4l-2 2.4l-2 -2.4z" stroke="#ff0000"/>
<path d="M317.1 187.3l3 3m0 -3l-3 3" stroke="#ffff00" stroke-width=".7"/>
<path d="M265.4 213.6l2 2.4l-2 2.4l-2 -2.4z" stroke="#ffff00"/>
<path d="M377.2 146.1l3 3m0 -3l-3 3" stroke="#00ff00" stroke-width=".7"/>
<path d="M276.2 223.2l2 2.4l-2 2.4l-2 -2.4z" stroke="#0000ff"/>
<path d="M343.7 192.8l3 3m0 -3l-3 3" stroke="#ffff00" stroke-width=".7"/>
<circle cx="324.8" cy="171.3" r="2" stroke="#0000ff"/>
<circle cx="268.7" cy="220.0" r="2" stroke="#ff0000"/>
<circle cx="249.2" cy="230.6" r="2" stroke="#0000ff"/>
<path d="M383.0 118.5l3 3m0 -3l-3 3" stroke="#00ff00" stroke-width=".7"/>
<path d="M234.9 227.3l3 3m0 -3l-3 3" stroke="#0000ff" stroke-width=".7"/>
<path d="M380.3 107.1l3 3m0 -3l-3 3" stroke="#00ff00" stroke-width=".7"/>
<circle cx="236.3" cy="231.4" r="2" stroke="#0000ff"/>
<circle cx="354.6" cy="165.9" r="2" stroke="#00ff00"/>
<circle cx="407.0" cy="99.0" r="2" stroke="#000000"/>
<path d="M430.5 113.5l3 3m0 -3l-3 3" stroke="#00ff00" stroke-width=".7"/>
<circle cx="270.1" cy="223.2" r="2" stroke="#0000ff"/>
<circle cx="378.8" cy="183.9" r="2" stroke="#ffff00"/>
<circle cx="269.2" cy="215.6" r="2" stroke="#ff0000"/>
<circle cx="232.8" cy="231.2" r="2" stroke="#0000ff"/>
<path d="M356.0 176.9l2 2.4l-2 2.4l-2 -2.4z" stroke="#ff0000"/>
<path d="M385.0 175.8l3 3m0 -3l-3 3" stroke="#00ff00" stroke-width=".7"/>
<path d="M251.3 225.6l2 2.4l-2 2.4l-2 -2.4z" stroke="#ff0000"/>
<path d="M314.8 209.9l2 2.4l-2 2.4l-2 -2.4z" stroke="#000000"/>
<circle cx="318.2" cy="173.3" r="2" stroke="#ffff00"/>
<circle cx="373.1" cy="133.5" r="2" stroke="#ffff00"/>
<circle cx="234.1" cy="230.0" r="2" stroke="#ffff00"/>
<path d="M290.0 211.0l2 2.4l-2 2.4l-2 -2.4z" stroke="#000000"/>
<circle cx="293.8" cy="214.7" r="2" stroke="#ffff00"/>
<path d="M356.4 120.9l3 3m0 -3l-3 3" stroke="#00ff00" stroke-width=".7"/>
<path d="M301.1 204.7l3 3m0 -3l-3 3" stroke="#00ff00" stroke-width=".7"/>
<circle cx="296.6" cy="195.4" r="2" stroke="#ffff00"/>
<path d="M330.8 156.3l3 3m0 -3l-3 3" stroke="#00ff00" stroke-width=".7"/>
<circle cx="296.5" cy="195.9" r="2" stroke="#000000"/>
<circle cx="245.5" cy="229.1" r="2" stroke="#0000ff"/>
<path d="M286.2 196.7l2 2.4l-2 2.4l-2 -2.4z" stroke="#ff0000"/>
<circle cx="417.2" cy="112.7" r="2" stroke="#ff0000"/>
<circle cx="296.0" cy="163.0" r="2" stroke="#ffff00"/>
<circle cx="342.2" cy="202.8" r="2" stroke="#000000"/>
<path d="M341.9 201.9l3 3m0 -3l-3 3" stroke="#00ff00" stroke-width=".7"/>
<path d="M331.5 190.1l3 3m0 -3l-3 3" stroke="#0000ff" stroke-width=".7"/>
<path d="M288.9 193.1l3 3m0 -3l-3 3" stroke="#ff0000" stroke-width=".7"/>
<circle cx="312.0" cy="176.0" r="2" stroke="#0000ff"/>
<path d="M309.5 200.2l3 3m0 -3l-3 3" stroke="#00ff00" stroke-width=".7"/>
<path d="M380.2 109.6l3 3m0 -3l-3 3" stroke="#00ff00" stroke-width=".7"/>
<circle cx="292.7" cy="214.7" r="2" stroke="#ff0000"/>
<circle cx="293.4" cy="210.6" r="2" stroke="#ff0000"/>
<circle cx="440.5" cy="137.5" r="2" stroke="#ff0000"/>
<path d="M351.1 149.9l3 3m0 -3l-3 3" stroke="#00ff00" stroke-width=".7"/>
<path d="M442.7 105.2l3 3m0 -3l-3 3" stroke="#00ff00" stroke-width=".7"/>
<circle cx="232.3" cy="230.9" r="2" stroke="#ffff00"/>
<circle cx="375.7" cy="124.3" r="2" stroke="#ff0000"/>
<path d="M253.1 226.1l3 3m0 -3l-3 3" stroke="#0000ff" stroke-width=".7"/>
<circle cx="255.8" cy="228.7" r="2" stroke="#0000ff"/>
<path d="M274.8 219.2l2 2.4l-2 2.4l-2 -2.4z" stroke="#0000ff"/>
<path d="M340.2 167.2l3 3m0 -3l-3 3" stroke="#00ff00" stroke-width=".7"/>
<circle cx="320.8" cy="190.1" r="2" stroke="#000000"/>
<circle cx="462.0" cy="112.0" r="2" stroke="#00ff00"/>
<circle cx="295.3" cy="217.9" r="2" stroke="#0000ff"/>
<circle cx="334.1" cy="180.8" r="2" stroke="#00ff00"/>
<path d="M249.3 224.6l3 3m0 -3l-3 3" stroke="#000000" stroke-width=".7"/>
<circle cx="332.8" cy="163.5" r="2" stroke="#000000"/>
<path d="M371.9 122.0l3 3m0 -3l-3 3" stroke="#00ff00" stroke-width=".7"/>
<path d="M241.0 225.8l3 3m0 -3l-3 3" stroke="#0000ff" stroke-width=".7"/>
<circle cx="363.4" cy="177.8" r="2" stroke="#ffff00"/>
<path d="M270.1 208.9l3 3m0 -3l-3 3" stroke="#ff0000" stroke-width=".7"/>
<circle cx="250.0" cy="225.6" r="2" stroke="#ffff00"/>
<circle cx="289.0" cy="201.5" r="2" stroke="#000000"/>
<circle cx="293.9" cy="189.2" r="2" stroke="#ff0000"/>
<circle cx="320.9" cy="195.8" r="2" stroke="#000000"/>
<path d="M248.2 230.6l3 3m0 -3l-3 3" stroke="#0000ff" stroke-width=".7"/>
<circle cx="233.6" cy="232.4" r="2" stroke="#ffff00"/>
<circle cx="343.7" cy="199.8" r="2" stroke="#ff0000"/>
<circle cx="352.0" cy="137.7" r="2" stroke="#ff0000"/>
<circle cx="400.1" cy="122.5" r="2" stroke="#00ff00"/>
<path d="M283.2 204.8l2 2.4l-2 2.4l-2 -2.4z" stroke="#000000"/>
<path d="M407.3 114.2l3 3m0 -3l-3 3" stroke="#00ff00" stroke-width=".7"/>
<path d="M325.6 201.6l3 3m0 -3l-3 3" stroke="#ff0000" stroke-width=".7"/>
<circle cx="246.8" cy="230.3" r="2" stroke="#ffff00"/>
<circle cx="388.2" cy="176.4" r="2" stroke="#000000"/>
<circle cx="237.1" cy="229.2" r="2" stroke="#ffff00"/>
<path d="M256.1 226.5l2 2.4l-2 2.4l-2 -2.4z" stroke="#0000ff"/>
<path d="M278.8 219.8l3 3m0 -3l-3 3" stroke="#0000ff" stroke-width=".7"/>
<circle cx="303.9" cy="216.7" r="2" stroke="#ff0000"/>
<path d="M233.6 227.4l2 2.4l-2 2.4l-2 -2.4z" stroke="#ffff00"/>
<circle cx="251.0" cy="227.2" r="2" stroke="#000000"/>
<circle cx="358.7" cy="183.9" r="2" stroke="#000000"/>
<circle cx="354.0" cy="147.2" r="2" stroke="#00ff00"/>
<path d="M385.4 128.3l3 3m0 -3l-3 3" stroke="#00ff00" stroke-width=".7"/>
<path d="M302.7 177.3l3 3m0 -3l-3 3" stroke="#ff0000" stroke-width=".7"/>
<circle cx="298.2" cy="220.8" r="2" stroke="#0000ff"/>
<circle cx="407.0" cy="160.5" r="2" stroke="#ffff00"/>
<path d="M273.5 208.1l2 2.4l-2 2.4l-2 -2.4z" stroke="#000000"/>
<circle cx="363.7" cy="164.6" r="2" stroke="#00ff00"/>
<path d="M378.4 153.2l3 3m0 -3l-3 3" stroke="#00ff00" stroke-width=".7"/>
<path d="M296.7 209.1l2 2.4l-2 2.4l-2 -2.4z" stroke="#000000"/>
<path d="M335.0 196.4l2 2.4l-2 2.4l-2 -2.4z" stroke="#ff0000"/>
<circle cx="246.9" cy="231.4" r="2" stroke="#ff0000"/>
<path d="M331.2 167.2l3 3m0 -3l-3 3" stroke="#00ff00" stroke-width=".7"/>
<circle cx="282.7" cy="222.4" r="2" stroke="#0000ff"/>
<circle cx="270.7" cy="217.4" r="2" stroke="#ff0000"/>
<circle cx="430.0" cy="120.0" r="2" stroke="#00ff00"/>
<circle cx="316.0" cy="179.1" r="2" stroke="#000000"/>
<circle cx="240.6" cy="228.0" r="2" stroke="#ffff00"/>
<path d="M337.2 147.8l3 3m0 -3l-3 3" stroke="#00ff00" stroke-width=".7"/>
<path d="M266.5 224.8l2 2.4l-2 2.4l-2 -2.4z" stroke="#0000ff"/>
<circle cx="253.9" cy="231.2" r="2" stroke="#0000ff"/>
<circle cx="362.2" cy="181.4" r="2" stroke="#ffff00"/>
<path d="M357.2 161.5l3 3m0 -3l-3 3" stroke="#00ff00" stroke-width=".7"/>
<path d="M282.4 212.1l2 2.4l-2 2.4l-2 -2.4z" stroke="#ff0000"/>
<circle cx="366.3" cy="147.5" r="2" stroke="#00ff00"/>
<path d="M237.2 229.4l3 3m0 -3l-3 3" stroke="#ffff00" stroke-width=".7"/>
<circle cx="251.2" cy="225.6" r="2" stroke="#000000"/>
<circle cx="389.2" cy="135.1" r="2" stroke="#00ff00"/>
<path d="M371.4 115.1l3 3m0 -3l-3 3" stroke="#00ff00" stroke-width=".7"/>
<circle cx="241.4" cy="228.3" r="2" stroke="#0000ff"/>
<circle cx="264.8" cy="220.2" r="2" stroke="#ff0000"/>
<path d="M432.6 111.4l3 3m0 -3l-3 3" stroke="#00ff00" stroke-width=".7"/>
<path d="M249.8 224.0l2 2.4l-2 2.4l-2 -2.4z" stroke="#000000"/>
<path d="M316.3 167.1l3 3m0 -3l-3 3" stroke="#ff0000" stroke-width=".7"/>
<circle cx="266.3" cy="217.7" r="2" stroke="#ff0000"/>
<circle cx="243.9" cy="226.5" r="2" stroke="#0000ff"/>
<path d="M389.0 124.2l2 2.4l-2 2.4l-2 -2.4z" stroke="#000000"/>
<circle cx="352.1" cy="128.2" r="2" stroke="#000000"/>
<circle cx="291.7" cy="208.8" r="2" stroke="#ffff00"/>
<circle cx="248.9" cy="228.8" r="2" stroke="#ff0000"/>
<path d="M317.5 172.4l2 2.4l-2 2.4l-2 -2.4z" stroke="#ff0000"/>
<path d="M338.7 184.3l2 2.4l-2 2.4l-2 -2.4z" stroke="#000000"/>
<path d="M380.4 159.9l2 2.4l-2 2.4l-2 -2.4z" stroke="#000000"/>
<circle cx="240.1" cy="230.3" r="2" stroke="#0000ff"/>
<path d="M392.6 112.3l3 3m0 -3l-3 3" stroke="#00ff00" stroke-width=".7"/>
<path d="M243.2 224.3l2 2.4l-2 2.4l-2 -2.4z" stroke="#ff0000"/>
<path d="M380.3 170.7l3 3m0 -3l-3 3" stroke="#ff0000" stroke-width=".7"/>
<circle cx="341.0" cy="197.6" r="2" stroke="#000000"/>
<circle cx="296.8" cy="201.7" r="2" stroke="#ffff00"/>
<circle cx="357.5" cy="193.7" r="2" stroke="#ff0000"/>
<circle cx="403.7" cy="102.7" r="2" stroke="#00ff00"/>
<circle cx="353.2" cy="167.8" r="2" stroke="#00ff00"/>
<circle cx="339.4" cy="143.7" r="2" stroke="#00ff00"/>
<path d="M341.6 175.2l3 3m0 -3l-3 3" stroke="#00ff00" stroke-width=".7"/>
<circle cx="318.5" cy="170.8" r="2" stroke="#ff0000"/>
<circle cx="367.3" cy="179.3" r="2" stroke="#000000"/>
<circle cx="272.1" cy="221.3" r="2" stroke="#0000ff"/>
<circle cx="285.7" cy="211.4" r="2" stroke="#ff0000"/>
<path d="M391.0 108.0l3 3m0 -3l-3 3" stroke="#000000" stroke-width=".7"/>
<path d="M306.2 190.6l2 2.4l-2 2.4l-2 -2.4z" stroke="#ff0000"/>
<circle cx="335.4" cy="176.6" r="2" stroke="#ff0000"/>
<circle cx="266.9" cy="217.3" r="2" stroke="#000000"/>
<circle cx="295.2" cy="213.7" r="2" stroke="#ffff00"/>
<circle cx="372.1" cy="136.3" r="2" stroke="#000000"/>
<path d="M397.7 114.4l3 3m0 -3l-3 3" stroke="#00ff00" stroke-width=".7"/>
<path d="M335.2 163.3l3 3m0 -3l-3 3" stroke="#00ff00" stroke-width=".7"/>
<circle cx="271.9" cy="223.6" r="2" stroke="#0000ff"/>
<path d="M325.2 157.0l3 3m0 -3l-3 3" stroke="#00ff00" stroke-width=".7"/>
<circle cx="292.5" cy="195.7" r="2" stroke="#0000ff"/>
<path d="M247.5 223.3l2 2.4l-2 2.4l-2 -2.4z" stroke="#0000ff"/>
<circle cx="309.5" cy="177.6" r="2" stroke="#ffff00"/>
<path d="M274.2 216.0l3 3m0 -3l-3 3" stroke="#000000" stroke-width=".7"/>
<path d="M289.2 194.4l3 3m0 -3l-3 3" stroke="#000000" stroke-width=".7"/>
<path d="M321.9 167.6l3 3m0 -3l-3 3" stroke="#00ff00" stroke-width=".7"/>
<path d="M330.2 158.6l3 3m0 -3l-3 3" stroke="#00ff00" stroke-width=".7"/>
<path d="M263.0 217.3l3 3m0 -3l-3 3" stroke="#ffff00" stroke-width=".7"/>
<path d="M237.2 228.1l3 3m0 -3l-3 3" stroke="#ffff00" stroke-width=".7"/>
<circle cx="389.6" cy="162.7" r="2" stroke="#ff0000"/>
<circle cx="301.1" cy="213.6" r="2" stroke="#ff0000"/>
<circle cx="252.2" cy="230.6" r="2" stroke="#0000ff"/>
<path d="M356.7 172.9l3 3m0 -3l-3 3" stroke="#000000" stroke-width=".7"/>
<path d="M343.5 159.7l2 2.4l-2 2.4l-2 -2.4z" stroke="#ff0000"/>
<circle cx="384.1" cy="162.1" r="2" stroke="#ffff00"/>
<path d="M380.4 155.4l3 3m0 -3l-3 3" stroke="#0000ff" stroke-width=".7"/>
<path d="M287.6 208.3l3 3m0 -3l-3 3" stroke="#000000" stroke-width=".7"/>
<path d="M283.8 205.9l2 2.4l-2 2.4l-2 -2.4z" stroke="#ff0000"/>
<path d="M304.2 204.9l3 3m0 -3l-3 3" stroke="#ffff00" stroke-width=".7"/>
<path d="M258.1 226.3l3 3m0 -3l-3 3" stroke="#0000ff" stroke-width=".7"/>
<path d="M386.3 105.6l3 3m0 -3l-3 3" stroke="#00ff00" stroke-width=".7"/>
<path d="M329.6 164.3l3 3m0 -3l-3 3" stroke="#00ff00" stroke-width=".7"/>
<circle cx="348.3" cy="192.8" r="2" stroke="#000000"/>
<circle cx="250.2" cy="225.1" r="2" stroke="#ff0000"/>
<path d="M356.4 130.1l3 3m0 -3l-3 3" stroke="#00ff00" stroke-width=".7"/>
<path d="M350.1 163.6l3 3m0 -3l-3 3" stroke="#00ff00" stroke-width=".7"/>
<path d="M400.9 126.1l3 3m0 -3l-3 3" stroke="#ffff00" stroke-width=".7"/>
<circle cx="310.1" cy="177.9" r="2" stroke="#ff0000"/>
<circle cx="404.1" cy="147.7" r="2" stroke="#000000"/>
<circle cx="308.4" cy="213.9" r="2" stroke="#0000ff"/>
<circle cx="267.6" cy="227.7" r="2" stroke="#ff0000"/>
<path d="M356.8 150.0l3 3m0 -3l-3 3" stroke="#00ff00" stroke-width=".7"/>
<path d="M266.5 224.0l3 3m0 -3l-3 3" stroke="#0000ff" stroke-width=".7"/>
<circle cx="281.1" cy="221.4" r="2" stroke="#0000ff"/>
<path d="M348.4 145.4l3 3m0 -3l-3 3" stroke="#00ff00" stroke-width=".7"/>
<path d="M311.9 174.8l3 3m0 -3l-3 3" stroke="#00ff00" stroke-width=".7"/>
<circle cx="410.6" cy="109.2" r="2" stroke="#ffff00"/>
<path d="M378.7 173.2l3 3m0 -3l-3 3" stroke="#ff0000" stroke-width=".7"/>
<circle cx="308.9" cy="195.0" r="2" stroke="#000000"/>
<path d="M304.8 203.8l2 2.4l-2 2.4l-2 -2.4z" stroke="#ff0000"/>
<circle cx="349.1" cy="184.5" r="2" stroke="#00ff00"/>
<path d="M269.2 216.5l2 2.4l-2 2.4l-2 -2.4z" stroke="#000000"/>
<circle cx="337.1" cy="154.7" r="2" stroke="#000000"/>
<path d="M312.7 207.7l2 2.4l-2 2.4l-2 -2.4z" stroke="#ff0000"/>
<circle cx="391.1" cy="134.4" r="2" stroke="#000000"/>
<circle cx="233.5" cy="228.8" r="2" stroke="#ffff00"/>
<circle cx="433.5" cy="147.5" r="2" stroke="#ff0000"/>
<circle cx="351.2" cy="182.6" r="2" stroke="#000000"/>
<circle cx="278.9" cy="204.9" r="2" stroke="#ff0000"/>
<circle cx="343.7" cy="199.4" r="2" stroke="#ff0000"/>
<circle cx="309.7" cy="175.9" r="2" stroke="#00ff00"/>
<circle cx="341.2" cy="205.3" r="2" stroke="#ffff00"/>
<circle cx="352.3" cy="159.2" r="2" stroke="#ffff00"/>
<circle cx="381.0" cy="121.2" r="2" stroke="#00ff00"/>
<path d="M345.9 190.0l3 3m0 -3l-3 3" stroke="#000000" stroke-width=".7"/>
<circle cx="292.7" cy="201.6" r="2" stroke="#ffff00"/>
<circle cx="311.3" cy="173.5" r="2" stroke="#ff0000"/>
<path d="M340.2 153.3l3 3m0 -3l-3 3" stroke="#00ff00" stroke-width=".7"/>
<circle cx="411.0" cy="97.0" r="2" stroke="#ffff00"/>
<path d="M369.5 170.6l2 2.4l-2 2.4l-2 -2.4z" stroke="#000000"/>
<path d="M357.3 189.9l3 3m0 -3l-3 3" stroke="#00ff00" stroke-width=".7"/>
<path d="M357.3 189.0l2 2.4l-2 2.4l-2 -2.4z" stroke="#000000"/>
<circle cx="328.4" cy="197.5" r="2" stroke="#ffff00"/>
<path d="M288.8 219.1l3 3m0 -3l-3 3" stroke="#0000ff" stroke-width=".7"/>
<circle cx="350.8" cy="192.6" r="2" stroke="#ffff00"/>
<circle cx="266.9" cy="223.5" r="2" stroke="#ff0000"/>
<path d="M269.1 210.1l3 3m0 -3l-3 3" stroke="#000000" stroke-width=".7"/>
<circle cx="298.0" cy="218.7" r="2" stroke="#ffff00"/>
<path d="M284.1 206.7l3 3m0 -3l-3 3" stroke="#000000" stroke-width=".7"/>
<circle cx="324.3" cy="170.4" r="2" stroke="#00ff00"/>
<circle cx="303.3" cy="212.0" r="2" stroke="#000000"/>
<circle cx="337.1" cy="158.2" r="2" stroke="#000000"/>
<path d="M347.1 196.4l3 3m0 -3l-3 3" stroke="#000000" stroke-width=".7"/>
<path d="M330.3 201.5l3 3m0 -3l-3 3" stroke="#ffff00" stroke-width=".7"/>
<circle cx="248.2" cy="229.0" r="2" stroke="#0000ff"/>
<path d="M360.3 186.0l2 2.4l-2 2.4l-2 -2.4z" stroke="#000000"/>
<circle cx="321.6" cy="180.4" r="2" stroke="#000000"/>
<circle cx="359.3" cy="164.1" r="2" stroke="#000000"/>
<path d="M324.6 162.9l3 3m0 -3l-3 3" stroke="#00ff00" stroke-width=".7"/>
<path d="M280.1 224.3l2 2.4l-2 2.4l-2 -2.4z" stroke="#0000ff"/>
<path d="M326.5 199.4l3 3m0 -3l-3 3" stroke="#ffff00" stroke-width=".7"/>
<circle cx="264.5" cy="224.8" r="2" stroke="#000000"/>
<path d="M236.9 226.1l2 2.4l-2 2.4l-2 -2.4z" stroke="#ffff00"/>
<circle cx="310.8" cy="180.6" r="2" stroke="#ff0000"/>
<circle cx="255.7" cy="231.1" r="2" stroke="#0000ff"/>
<circle cx="282.7" cy="208.1" r="2" stroke="#ffff00"/>
<path d="M377.2 174.9l3 3m0 -3l-3 3" stroke="#ffff00" stroke-width=".7"/>
<path d="M310.5 191.5l3 3m0 -3l-3 3" stroke="#00ff00" stroke-width=".7"/>
<path d="M343.6 177.5l3 3m0 -3l-3 3" stroke="#00ff00" stroke-width=".7"/>
<path d="M308.8 192.5l3 3m0 -3l-3 3" stroke="#ff0000" stroke-width=".7"/>
<path d="M327.6 186.6l2 2.4l-2 2.4l-2 -2.4z" stroke="#000000"/>
<circle cx="317.3" cy="180.9" r="2" stroke="#0000ff"/>
<circle cx="314.6" cy="176.1" r="2" stroke="#ff0000"/>
<circle cx="280.7" cy="213.3" r="2" stroke="#ff0000"/>
<path d="M363.9 169.3l3 3m0 -3l-3 3" stroke="#00ff00" stroke-width=".7"/>
<circle cx="334.1" cy="181.7" r="2" stroke="#00ff00"/>
<circle cx="297.1" cy="190.1" r="2" stroke="#ff0000"/>
<path d="M305.6 180.4l2 2.4l-2 2.4l-2 -2.4z" stroke="#ff0000"/>
<circle cx="420.0" cy="152.0" r="2" stroke="#000000"/>
<path d="M337.4 180.1l3 3m0 -3l-3 3" stroke="#00ff00" stroke-width=".7"/>
<path d="M355.9 146.9l3 3m0 -3l-3 3" stroke="#00ff00" stroke-width=".7"/>
<circle cx="339.2" cy="154.8" r="2" stroke="#00ff00"/>
<path d="M298.1 208.3l3 3m0 -3l-3 3" stroke="#ffff00" stroke-width=".7"/>
<circle cx="245.2" cy="226.8" r="2" stroke="#0000ff"/>
<circle cx="276.4" cy="221.3" r="2" stroke="#ffff00"/>
<circle cx="252.6" cy="232.0" r="2" stroke="#0000ff"/>
<path d="M329.9 157.1l3 3m0 -3l-3 3" stroke="#00ff00" stroke-width=".7"/>
<circle cx="323.9" cy="187.5" r="2" stroke="#ff0000"/>
<path d="M383.5 126.2l3 3m0 -3l-3 3" stroke="#00ff00" stroke-width=".7"/>
<path d="M272.4 221.8l2 2.4l-2 2.4l-2 -2.4z" stroke="#0000ff"/>
<path d="M305.6 174.8l3 3m0 -3l-3 3" stroke="#000000" stroke-width=".7"/>
<path d="M382.6 118.6l3 3m0 -3l-3 3" stroke="#00ff00" stroke-width=".7"/>
<path d="M265.6 215.5l3 3m0 -3l-3 3" stroke="#000000" stroke-width=".7"/>
<path d="M331.1 180.4l3 3m0 -3l-3 3" stroke="#ffff00" stroke-width=".7"/>
<path d="M369.1 143.1l3 3m0 -3l-3 3" stroke="#00ff00" stroke-width=".7"/>
<circle cx="255.2" cy="223.7" r="2" stroke="#ff0000"/>
<path d="M332.0 170.5l3 3m0 -3l-3 3" stroke="#00ff00" stroke-width=".7"/>
<circle cx="287.3" cy="200.0" r="2" stroke="#000000"/>
<path d="M393.4 130.9l3 3m0 -3l-3 3" stroke="#00ff00" stroke-width=".7"/>
<path d="M325.2 202.6l2 2.4l-2 2.4l-2 -2.4z" stroke="#ffff00"/>
<circle cx="304.5" cy="183.3" r="2" stroke="#ffff00"/>
<path d="M283.9 202.3l3 3m0 -3l-3 3" stroke="#000000" stroke-width=".7"/>
<path d="M267.6 227.1l3 3m0 -3l-3 3" stroke="#ffff00" stroke-width=".7"/>
<circle cx="382.0" cy="147.1" r="2" stroke="#00ff00"/>
<path d="M295.5 208.8l3 3m0 -3l-3 3" stroke="#ffff00" stroke-width=".7"/>
<circle cx="463.0" cy="118.0" r="2" stroke="#00ff00"/>
<path d="M244.6 228.3l2 2.4l-2 2.4l-2 -2.4z" stroke="#0000ff"/>
<circle cx="313.0" cy="177.5" r="2" stroke="#ffff00"/>
<circle cx="340.1" cy="159.9" r="2" stroke="#00ff00"/>
<circle cx="266.2" cy="214.5" r="2" stroke="#000000"/>
<circle cx="273.9" cy="222.7" r="2" stroke="#0000ff"/>
<circle cx="377.7" cy="183.3" r="2" stroke="#ffff00"/>
<path d="M255.8 224.7l3 3m0 -3l-3 3" stroke="#0000ff" stroke-width=".7"/>
<circle cx="244.4" cy="228.2" r="2" stroke="#000000"/>
<path d="M248.9 225.9l3 3m0 -3l-3 3" stroke="#000000" stroke-width=".7"/>
<circle cx="308.4" cy="188.7" r="2" stroke="#00ff00"/>
<circle cx="298.1" cy="207.9" r="2" stroke="#ffff00"/>
<path d="M292.0 209.6l2 2.4l-2 2.4l-2 -2.4z" stroke="#000000"/>
<circle cx="412.0" cy="141.0" r="2" stroke="#ff0000"/>
<path d="M344.1 136.8l3 3m0 -3l-3 3" stroke="#00ff00" stroke-width=".7"/>
<path d="M320.3 162.1l3 3m0 -3l-3 3" stroke="#00ff00" stroke-width=".7"/>
<circle cx="318.3" cy="192.2" r="2" stroke="#0000ff"/>
<path d="M352.0 166.6l2 2.4l-2 2.4l-2 -2.4z" stroke="#ff0000"/>
<path d="M275.2 224.2l3 3m0 -3l-3 3" stroke="#0000ff" stroke-width=".7"/>
<path d="M338.7 173.2l3 3m0 -3l-3 3" stroke="#00ff00" stroke-width=".7"/>
<circle cx="383.6" cy="127.3" r="2" stroke="#00ff00"/>
<path d="M258.4 227.7l3 3m0 -3l-3 3" stroke="#0000ff" stroke-width=".7"/>
<circle cx="364.9" cy="190.4" r="2" stroke="#000000"/>
<path d="M403.9 159.1l2 2.4l-2 2.4l-2 -2.4z" stroke="#000000"/>
<circle cx="279.0" cy="211.9" r="2" stroke="#ffff00"/>
<circle cx="300.7" cy="182.3" r="2" stroke="#ff0000"/>
<circle cx="304.8" cy="195.3" r="2" stroke="#ff0000"/>
<circle cx="434.0" cy="118.0" r="2" stroke="#00ff00"/>
<path d="M297.2 214.3l2 2.4l-2 2.4l-2 -2.4z" stroke="#ff0000"/>
<path d="M232.8 228.7l3 3m0 -3l-3 3" stroke="#ffff00" stroke-width=".7"/>
<circle cx="352.8" cy="193.4" r="2" stroke="#ff0000"/>
<circle cx="311.4" cy="196.4" r="2" stroke="#000000"/>
<circle cx="384.4" cy="121.0" r="2" stroke="#00ff00"/>
<circle cx="258.4" cy="227.1" r="2" stroke="#0000ff"/>
<circle cx="319.1" cy="166.3" r="2" stroke="#00ff00"/>
<path d="M269.5 223.1l2 2.4l-2 2.4l-2 -2.4z" stroke="#000000"/>
<circle cx="284.7" cy="211.5" r="2" stroke="#000000"/>
<circle cx="351.0" cy="185.8" r="2" stroke="#000000"/>
<path d="M276.1 209.5l3 3m0 -3l-3 3" stroke="#000000" stroke-width=".7"/>
<circle cx="240.2" cy="229.5" r="2" stroke="#0000ff"/>
<path d="M269.2 207.6l3 3m0 -3l-3 3" stroke="#000000" stroke-width=".7"/>
<circle cx="394.3" cy="150.3" r="2" stroke="#ff0000"/>
<circle cx="370.2" cy="176.8" r="2" stroke="#000000"/>
<path d="M294.7 213.4l3 3m0 -3l-3 3" stroke="#ff0000" stroke-width=".7"/>
<circle cx="305.9" cy="188.5" r="2" stroke="#ffff00"/>
<path d="M333.1 203.1l3 3m0 -3l-3 3" stroke="#ff0000" stroke-width=".7"/>
<path d="M350.5 123.1l3 3m0 -3l-3 3" stroke="#00ff00" stroke-width=".7"/>
<path d="M367.1 184.9l2 2.4l-2 2.4l-2 -2.4z" stroke="#ff0000"/>
<circle cx="352.7" cy="196.9" r="2" stroke="#ffff00"/>
<circle cx="309.5" cy="203.9" r="2" stroke="#000000"/>
<circle cx="392.0" cy="156.2" r="2" stroke="#000000"/>
<path d="M245.3 226.9l3 3m0 -3l-3 3" stroke="#ff0000" stroke-width=".7"/>
<circle cx="324.4" cy="178.6" r="2" stroke="#00ff00"/>
<circle cx="273.4" cy="227.8" r="2" stroke="#000000"/>
<circle cx="466.0" cy="116.0" r="2" stroke="#00ff00"/>
<path d="M320.4 183.1l3 3m0 -3l-3 3" stroke="#ffff00" stroke-width=".7"/>
<circle cx="239.3" cy="230.8" r="2" stroke="#ffff00"/>
<path d="M355.6 162.6l3 3m0 -3l-3 3" stroke="#00ff00" stroke-width=".7"/>
<path d="M310.2 206.6l2 2.4l-2 2.4l-2 -2.4z" stroke="#ffff00"/>
<path d="M299.5 187.4l2 2.4l-2 2.4l-2 -2.4z" stroke="#0000ff"/>
<circle cx="346.0" cy="200.3" r="2" stroke="#ffff00"/>
<path d="M242.9 228.6l2 2.4l-2 2.4l-2 -2.4z" stroke="#0000ff"/>
<circle cx="368.7" cy="145.7" r="2" stroke="#00ff00"/>
<circle cx="362.5" cy="189.0" r="2" stroke="#ff0000"/>
<circle cx="271.2" cy="216.4" r="2" stroke="#0000ff"/>
<circle cx="287.5" cy="221.0" r="2" stroke="#0000ff"/>
<circle cx="228.8" cy="232.0" r="2" stroke="#ffff00"/>
<circle cx="313.2" cy="188.3" r="2" stroke="#ff0000"/>
<path d="M284.0 207.8l3 3m0 -3l-3 3" stroke="#000000" stroke-width=".7"/>
<circle cx="338.4" cy="193.7" r="2" stroke="#ff0000"/>
<path d="M339.2 149.8l3 3m0 -3l-3 3" stroke="#00ff00" stroke-width=".7"/>
<path d="M315.2 192.5l2 2.4l-2 2.4l-2 -2.4z" stroke="#0000ff"/>
<path d="M272.0 215.2l3 3m0 -3l-3 3" stroke="#0000ff" stroke-width=".7"/>
<path d="M323.4 180.9l3 3m0 -3l-3 3" stroke="#00ff00" stroke-width=".7"/>
<circle cx="320.0" cy="204.0" r="2" stroke="#ffff00"/>
<circle cx="311.8" cy="186.9" r="2" stroke="#ff0000"/>
<circle cx="232.1" cy="227.5" r="2" stroke="#ffff00"/>
<path d="M426.1 122.1l3 3m0 -3l-3 3" stroke="#00ff00" stroke-width=".7"/>
<circle cx="379.7" cy="113.6" r="2" stroke="#00ff00"/>
<path d="M383.9 169.2l2 2.4l-2 2.4l-2 -2.4z" stroke="#ff0000"/>
<path d="M254.0 227.0l3 3m0 -3l-3 3" stroke="#0000ff" stroke-width=".7"/>
<path d="M259.8 224.0l2 2.4l-2 2.4l-2 -2.4z" stroke="#0000ff"/>
<circle cx="249.0" cy="228.8" r="2" stroke="#0000ff"/>
<circle cx="388.0" cy="171.6" r="2" stroke="#ff0000"/>
<circle cx="379.1" cy="179.5" r="2" stroke="#ff0000"/>
<circle cx="366.1" cy="172.2" r="2" stroke="#ff0000"/>
<path d="M369.0 127.6l3 3m0 -3l-3 3" stroke="#00ff00" stroke-width=".7"/>
<circle cx="281.1" cy="202.1" r="2" stroke="#ffff00"/>
<path d="M321.2 159.1l3 3m0 -3l-3 3" stroke="#00ff00" stroke-width=".7"/>
<circle cx="329.4" cy="190.5" r="2" stroke="#000000"/>
<path d="M375.5 116.2l3 3m0 -3l-3 3" stroke="#00ff00" stroke-width=".7"/>
<path d="M325.0 201.1l3 3m0 -3l-3 3" stroke="#ff0000" stroke-width=".7"/>
<circle cx="240.7" cy="229.5" r="2" stroke="#0000ff"/>
<path d="M310.8 176.0l3 3m0 -3l-3 3" stroke="#000000" stroke-width=".7"/>
<circle cx="331.8" cy="182.3" r="2" stroke="#ff0000"/>
<path d="M363.7 184.2l2 2.4l-2 2.4l-2 -2.4z" stroke="#000000"/>
<path d="M377.8 151.4l3 3m0 -3l-3 3" stroke="#00ff00" stroke-width=".7"/>
<path d="M272.4 211.2l3 3m0 -3l-3 3" stroke="#000000" stroke-width=".7"/>
<circle cx="375.2" cy="181.5" r="2" stroke="#ffff00"/>
<circle cx="317.1" cy="190.3" r="2" stroke="#000000"/>
<circle cx="309.6" cy="195.3" r="2" stroke="#000000"/>
<circle cx="234.9" cy="231.2" r="2" stroke="#ffff00"/>
<circle cx="352.2" cy="183.8" r="2" stroke="#00ff00"/>
<circle cx="309.1" cy="215.9" r="2" stroke="#ffff00"/>
<circle cx="308.6" cy="178.6" r="2" stroke="#000000"/>
<circle cx="420.7" cy="125.2" r="2" stroke="#00ff00"/>
<circle cx="238.5" cy="230.2" r="2" stroke="#ffff00"/>
<path d="M289.7 198.6l2 2.4l-2 2.4l-2 -2.4z" stroke="#ffff00"/>
<circle cx="329.2" cy="178.0" r="2" stroke="#00ff00"/>
<circle cx="262.6" cy="216.6" r="2" stroke="#000000"/>
<circle cx="228.4" cy="231.7" r="2" stroke="#ffff00"/>
<path d="M270.3 223.4l2 2.4l-2 2.4l-2 -2.4z" stroke="#0000ff"/>
<path d="M418.5 110.8l3 3m0 -3l-3 3" stroke="#00ff00" stroke-width=".7"/>
<circle cx="327.0" cy="172.0" r="2" stroke="#000000"/>
<path d="M250.7 223.4l3 3m0 -3l-3 3" stroke="#ffff00" stroke-width=".7"/>
<path d="M360.1 114.3l3 3m0 -3l-3 3" stroke="#00ff00" stroke-width=".7"/>
<path d="M227.5 229.7l3 3m0 -3l-3 3" stroke="#ffff00" stroke-width=".7"/>
<path d="M250.6 224.1l3 3m0 -3l-3 3" stroke="#000000" stroke-width=".7"/>
<path d="M358.4 188.2l3 3m0 -3l-3 3" stroke="#00ff00" stroke-width=".7"/>
<circle cx="291.2" cy="217.5" r="2" stroke="#0000ff"/>
<path d="M400.9 125.0l3 3m0 -3l-3 3" stroke="#00ff00" stroke-width=".7"/>
<path d="M273.3 211.2l2 2.4l-2 2.4l-2 -2.4z" stroke="#ffff00"/>
<path d="M397.3 112.4l3 3m0 -3l-3 3" stroke="#00ff00" stroke-width=".7"/>
<circle cx="273.8" cy="224.6" r="2" stroke="#ff0000"/>
<circle cx="300.8" cy="187.0" r="2" stroke="#ff0000"/>
<circle cx="307.8" cy="180.3" r="2" stroke="#000000"/>
<circle cx="290.2" cy="206.1" r="2" stroke="#ff0000"/>
<circle cx="312.8" cy="190.7" r="2" stroke="#ff0000"/>
<path d="M304.5 126.8l2 2.4l-2 2.4l-2 -2.4z" stroke="#ff0000"/>
<circle cx="313.8" cy="207.5" r="2" stroke="#ff0000"/>
<circle cx="325.4" cy="182.2" r="2" stroke="#ffff00"/>
<path d="M395.6 102.6l3 3m0 -3l-3 3" stroke="#00ff00" stroke-width=".7"/>
<circle cx="410.4" cy="107.8" r="2" stroke="#00ff00"/>
<circle cx="282.8" cy="211.2" r="2" stroke="#ffff00"/>
<path d="M360.2 137.3l3 3m0 -3l-3 3" stroke="#00ff00" stroke-width=".7"/>
<path d="M387.4 115.7l3 3m0 -3l-3 3" stroke="#00ff00" stroke-width=".7"/>
<path d="M276.1 215.5l2 2.4l-2 2.4l-2 -2.4z" stroke="#ff0000"/>
<path d="M355.7 121.0l3 3m0 -3l-3 3" stroke="#00ff00" stroke-width=".7"/>
<path d="M289.2 192.4l2 2.4l-2 2.4l-2 -2.4z" stroke="#ff0000"/>
<path d="M293.7 207.5l3 3m0 -3l-3 3" stroke="#ff0000" stroke-width=".7"/>
<circle cx="265.3" cy="224.4" r="2" stroke="#0000ff"/>
<path d="M398.6 96.3l3 3m0 -3l-3 3" stroke="#00ff00" stroke-width=".7"/>
<circle cx="315.5" cy="167.1" r="2" stroke="#ff0000"/>
<circle cx="308.7" cy="192.5" r="2" stroke="#000000"/>
<path d="M334.8 203.1l3 3m0 -3l-3 3" stroke="#00ff00" stroke-width=".7"/>
<path d="M378.8 157.5l2 2.4l-2 2.4l-2 -2.4z" stroke="#000000"/>
<circle cx="394.1" cy="149.7" r="2" stroke="#ffff00"/>
<circle cx="362.2" cy="193.4" r="2" stroke="#ffff00"/>
<circle cx="274.5" cy="212.1" r="2" stroke="#ff0000"/>
<circle cx="328.0" cy="126.0" r="2" stroke="#ff0000"/>
<circle cx="332.1" cy="197.9" r="2" stroke="#ffff00"/>
<circle cx="231.2" cy="228.8" r="2" stroke="#ffff00"/>
<circle cx="256.6" cy="225.9" r="2" stroke="#0000ff"/>
<circle cx="246.3" cy="230.8" r="2" stroke="#0000ff"/>
<circle cx="255.3" cy="228.4" r="2" stroke="#0000ff"/>
<circle cx="348.4" cy="163.9" r="2" stroke="#ffff00"/>
<circle cx="281.4" cy="220.1" r="2" stroke="#0000ff"/>
<path d="M306.4 190.4l3 3m0 -3l-3 3" stroke="#ff0000" stroke-width=".7"/>
<path d="M401.7 164.2l3 3m0 -3l-3 3" stroke="#000000" stroke-width=".7"/>
<path d="M274.5 209.7l2 2.4l-2 2.4l-2 -2.4z" stroke="#ff0000"/>
<circle cx="272.4" cy="220.9" r="2" stroke="#000000"/>
<circle cx="321.6" cy="175.2" r="2" stroke="#00ff00"/>
<path d="M394.7 114.3l3 3m0 -3l-3 3" stroke="#00ff00" stroke-width=".7"/>
<path d="M385.8 164.6l3 3m0 -3l-3 3" stroke="#ff0000" stroke-width=".7"/>
<circle cx="297.6" cy="216.9" r="2" stroke="#000000"/>
<path d="M306.4 183.3l2 2.4l-2 2.4l-2 -2.4z" stroke="#ffff00"/>
<path d="M305.1 211.1l2 2.4l-2 2.4l-2 -2.4z" stroke="#ff0000"/>
<circle cx="372.8" cy="129.4" r="2" stroke="#00ff00"/>
<path d="M378.4 141.1l3 3m0 -3l-3 3" stroke="#00ff00" stroke-width=".7"/>
<circle cx="336.0" cy="158.8" r="2" stroke="#00ff00"/>
<path d="M372.7 109.5l3 3m0 -3l-3 3" stroke="#00ff00" stroke-width=".7"/>
<circle cx="390.2" cy="170.6" r="2" stroke="#000000"/>
<circle cx="302.3" cy="186.1" r="2" stroke="#ffff00"/>
<circle cx="310.4" cy="208.0" r="2" stroke="#ffff00"/>
<path d="M264.4 224.4l3 3m0 -3l-3 3" stroke="#0000ff" stroke-width=".7"/>
<circle cx="249.1" cy="225.5" r="2" stroke="#ff0000"/>
<path d="M346.0 190.2l3 3m0 -3l-3 3" stroke="#000000" stroke-width=".7"/>
<circle cx="255.1" cy="224.2" r="2" stroke="#ff0000"/>
<path d="M228.3 229.1l3 3m0 -3l-3 3" stroke="#ffff00" stroke-width=".7"/>
<circle cx="256.3" cy="231.2" r="2" stroke="#0000ff"/>
<circle cx="303.6" cy="183.0" r="2" stroke="#ffff00"/>
<path d="M374.6 139.4l3 3m0 -3l-3 3" stroke="#00ff00" stroke-width=".7"/>
<circle cx="236.1" cy="233.1" r="2" stroke="#ffff00"/>
<path d="M320.7 173.5l2 2.4l-2 2.4l-2 -2.4z" stroke="#000000"/>
<circle cx="364.7" cy="130.5" r="2" stroke="#000000"/>
<path d="M285.8 209.9l2 2.4l-2 2.4l-2 -2.4z" stroke="#ffff00"/>
<circle cx="364.6" cy="186.1" r="2" stroke="#ff0000"/>
<path d="M331.7 170.3l3 3m0 -3l-3 3" stroke="#00ff00" stroke-width=".7"/>
<circle cx="241.9" cy="228.1" r="2" stroke="#0000ff"/>
<circle cx="373.6" cy="170.1" r="2" stroke="#ff0000"/>
<circle cx="374.4" cy="170.2" r="2" stroke="#ff0000"/>
<path d="M238.4 230.2l3 3m0 -3l-3 3" stroke="#ffff00" stroke-width=".7"/>
<path d="M293.0 205.7l3 3m0 -3l-3 3" stroke="#ff0000" stroke-width=".7"/>
<circle cx="337.3" cy="170.7" r="2" stroke="#00ff00"/>
<circle cx="309.7" cy="210.0" r="2" stroke="#ff0000"/>
<circle cx="323.0" cy="179.0" r="2" stroke="#ff0000"/>
<path d="M292.4 188.8l2 2.4l-2 2.4l-2 -2.4z" stroke="#000000"/>
<circle cx="236.2" cy="227.6" r="2" stroke="#ffff00"/>
<circle cx="420.0" cy="138.0" r="2" stroke="#00ff00"/>
<path d="M391.2 122.8l3 3m0 -3l-3 3" stroke="#00ff00" stroke-width=".7"/>
<path d="M312.4 197.1l2 2.4l-2 2.4l-2 -2.4z" stroke="#000000"/>
<circle cx="370.7" cy="150.2" r="2" stroke="#00ff00"/>
<path d="M250.2 224.6l2 2.4l-2 2.4l-2 -2.4z" stroke="#000000"/>
<path d="M330.4 163.0l3 3m0 -3l-3 3" stroke="#00ff00" stroke-width=".7"/>
<path d="M296.5 193.7l3 3m0 -3l-3 3" stroke="#ff0000" stroke-width=".7"/>
<circle cx="294.4" cy="204.9" r="2" stroke="#0000ff"/>
<path d="M260.8 218.6l3 3m0 -3l-3 3" stroke="#000000" stroke-width=".7"/>
<circle cx="246.4" cy="226.3" r="2" stroke="#0000ff"/>
<path d="M368.5 164.0l3 3m0 -3l-3 3" stroke="#00ff00" stroke-width=".7"/>
<circle cx="281.0" cy="206.4" r="2" stroke="#000000"/>
<path d="M386.0 132.3l3 3m0 -3l-3 3" stroke="#00ff00" stroke-width=".7"/>
<circle cx="317.5" cy="175.1" r="2" stroke="#000000"/>
<circle cx="261.7" cy="223.1" r="2" stroke="#0000ff"/>
<path d="M357.8 127.2l3 3m0 -3l-3 3" stroke="#00ff00" stroke-width=".7"/>
<path d="M372.5 119.3l3 3m0 -3l-3 3" stroke="#00ff00" stroke-width=".7"/>
<path d="M382.7 113.5l3 3m0 -3l-3 3" stroke="#00ff00" stroke-width=".7"/>
<path d="M395.4 143.8l3 3m0 -3l-3 3" stroke="#00ff00" stroke-width=".7"/>
<path d="M265.8 217.1l2 2.4l-2 2.4l-2 -2.4z" stroke="#ff0000"/>
<path d="M389.0 142.2l3 3m0 -3l-3 3" stroke="#00ff00" stroke-width=".7"/>
<path d="M343.9 139.9l3 3m0 -3l-3 3" stroke="#00ff00" stroke-width=".7"/>
<circle cx="351.5" cy="142.9" r="2" stroke="#ffff00"/>
<path d="M264.3 213.9l3 3m0 -3l-3 3" stroke="#000000" stroke-width=".7"/>
<circle cx="424.0" cy="128.0" r="2" stroke="#ff0000"/>
<circle cx="293.5" cy="196.7" r="2" stroke="#ff0000"/>
<path d="M309.1 201.5l2 2.4l-2 2.4l-2 -2.4z" stroke="#000000"/>
<circle cx="275.7" cy="204.7" r="2" stroke="#ff0000"/>
<path d="M363.1 128.4l3 3m0 -3l-3 3" stroke="#00ff00" stroke-width=".7"/>
<circle cx="301.7" cy="208.1" r="2" stroke="#000000"/>
<path d="M388.3 106.0l3 3m0 -3l-3 3" stroke="#00ff00" stroke-width=".7"/>
<circle cx="396.6" cy="133.8" r="2" stroke="#00ff00"/>
<path d="M290.7 190.9l3 3m0 -3l-3 3" stroke="#000000" stroke-width=".7"/>
<path d="M327.2 150.6l3 3m0 -3l-3 3" stroke="#00ff00" stroke-width=".7"/>
<circle cx="279.9" cy="216.3" r="2" stroke="#ffff00"/>
<path d="M273.9 205.0l2 2.4l-2 2.4l-2 -2.4z" stroke="#ff0000"/>
<circle cx="304.7" cy="187.0" r="2" stroke="#000000"/>
<circle cx="327.8" cy="208.4" r="2" stroke="#0000ff"/>
<circle cx="376.4" cy="160.9" r="2" stroke="#ff0000"/>
<path d="M344.9 153.0l2 2.4l-2 2.4l-2 -2.4z" stroke="#ff0000"/>
<path d="M287.8 197.6l3 3m0 -3l-3 3" stroke="#ffff00" stroke-width=".7"/>
<path d="M349.8 140.0l3 3m0 -3l-3 3" stroke="#00ff00" stroke-width=".7"/>
<circle cx="241.1" cy="228.4" r="2" stroke="#0000ff"/>
<circle cx="393.0" cy="163.1" r="2" stroke="#ffff00"/>
<circle cx="375.7" cy="175.1" r="2" stroke="#ff0000"/>
<path d="M337.1 163.5l3 3m0 -3l-3 3" stroke="#00ff00" stroke-width=".7"/>
<circle cx="239.8" cy="231.0" r="2" stroke="#ffff00"/>
<path d="M281.7 223.8l3 3m0 -3l-3 3" stroke="#0000ff" stroke-width=".7"/>
<circle cx="287.8" cy="214.9" r="2" stroke="#ffff00"/>
<path d="M364.5 163.4l3 3m0 -3l-3 3" stroke="#00ff00" stroke-width=".7"/>
<path d="M440.3 109.1l3 3m0 -3l-3 3" stroke="#00ff00" stroke-width=".7"/>
<circle cx="325.4" cy="194.7" r="2" stroke="#000000"/>
<circle cx="405.0" cy="98.0" r="2" stroke="#000000"/>
<circle cx="306.5" cy="206.6" r="2" stroke="#000000"/>
<circle cx="271.2" cy="208.9" r="2" stroke="#ffff00"/>
<path d="M317.6 182.3l3 3m0 -3l-3 3" stroke="#ffff00" stroke-width=".7"/>
<path d="M277.3 220.2l2 2.4l-2 2.4l-2 -2.4z" stroke="#ffff00"/>
<path d="M334.7 144.4l3 3m0 -3l-3 3" stroke="#00ff00" stroke-width=".7"/>
<path d="M347.8 194.1l2 2.4l-2 2.4l-2 -2.4z" stroke="#ff0000"/>
<path d="M260.8 218.7l3 3m0 -3l-3 3" stroke="#000000" stroke-width=".7"/>
<path d="M299.1 182.5l2 2.4l-2 2.4l-2 -2.4z" stroke="#ff0000"/>
<circle cx="293.7" cy="191.9" r="2" stroke="#ffff00"/>
<circle cx="315.3" cy="185.9" r="2" stroke="#ffff00"/>
<path d="M300.6 184.0l3 3m0 -3l-3 3" stroke="#000000" stroke-width=".7"/>
<circle cx="398.1" cy="170.1" r="2" stroke="#000000"/>
<path d="M232.1 227.3l3 3m0 -3l-3 3" stroke="#ffff00" stroke-width=".7"/>
<path d="M350.5 145.0l3 3m0 -3l-3 3" stroke="#00ff00" stroke-width=".7"/>
<path d="M398.8 144.4l3 3m0 -3l-3 3" stroke="#ff0000" stroke-width=".7"/>
<path d="M273.6 217.5l2 2.4l-2 2.4l-2 -2.4z" stroke="#ffff00"/>
<circle cx="382.4" cy="108.5" r="2" stroke="#000000"/>
<path d="M310.1 187.9l3 3m0 -3l-3 3" stroke="#ff0000" stroke-width=".7"/>
<path d="M382.8 140.5l2 2.4l-2 2.4l-2 -2.4z" stroke="#000000"/>
<circle cx="288.2" cy="200.2" r="2" stroke="#ffff00"/>
<path d="M364.7 113.5l3 3m0 -3l-3 3" stroke="#00ff00" stroke-width=".7"/>
<path d="M338.9 145.8l3 3m0 -3l-3 3" stroke="#00ff00" stroke-width=".7"/>
<path d="M293.1 211.3l2 2.4l-2 2.4l-2 -2.4z" stroke="#ffff00"/>
<circle cx="270.7" cy="216.2" r="2" stroke="#ff0000"/>
<path d="M389.9 122.3l3 3m0 -3l-3 3" stroke="#00ff00" stroke-width=".7"/>
<path d="M339.8 144.2l3 3m0 -3l-3 3" stroke="#00ff00" stroke-width=".7"/>
<circle cx="400.0" cy="110.2" r="2" stroke="#00ff00"/>
<circle cx="387.1" cy="114.9" r="2" stroke="#00ff00"/>
<path d="M249.6 228.9l2 2.4l-2 2.4l-2 -2.4z" stroke="#000000"/>
<path d="M349.1 154.7l3 3m0 -3l-3 3" stroke="#00ff00" stroke-width=".7"/>
<path d="M335.5 149.6l3 3m0 -3l-3 3" stroke="#00ff00" stroke-width=".7"/>
<circle cx="268.2" cy="221.2" r="2" stroke="#0000ff"/>
<circle cx="282.7" cy="215.5" r="2" stroke="#ff0000"/>
<path d="M358.6 154.3l3 3m0 -3l-3 3" stroke="#00ff00" stroke-width=".7"/>
<path d="M420.0 112.0l3 3m0 -3l-3 3" stroke="#00ff00" stroke-width=".7"/>
<circle cx="347.0" cy="165.6" r="2" stroke="#00ff00"/>
<path d="M350.1 156.3l3 3m0 -3l-3 3" stroke="#00ff00" stroke-width=".7"/>
<path d="M268.4 222.7l2 2.4l-2 2.4l-2 -2.4z" stroke="#0000ff"/>
<path d="M308.1 198.4l2 2.4l-2 2.4l-2 -2.4z" stroke="#ff0000"/>
<path d="M276.9 217.3l3 3m0 -3l-3 3" stroke="#0000ff" stroke-width=".7"/>
<path d="M326.5 193.6l2 2.4l-2 2.4l-2 -2.4z" stroke="#ff0000"/>
<circle cx="368.3" cy="133.8" r="2" stroke="#00ff00"/>
<circle cx="241.1" cy="228.4" r="2" stroke="#0000ff"/>
<path d="M244.1 228.0l3 3m0 -3l-3 3" stroke="#0000ff" stroke-width=".7"/>
<circle cx="261.9" cy="228.8" r="2" stroke="#0000ff"/>
<circle cx="281.1" cy="207.5" r="2" stroke="#ffff00"/>
<circle cx="325.7" cy="167.7" r="2" stroke="#00ff00"/>
<path d="M319.7 208.8l3 3m0 -3l-3 3" stroke="#000000" stroke-width=".7"/>
<path d="M362.5 141.3l2 2.4l-2 2.4l-2 -2.4z" stroke="#0000ff"/>
<path d="M343.5 157.9l3 3m0 -3l-3 3" stroke="#00ff00" stroke-width=".7"/>
<path d="M393.0 165.2l3 3m0 -3l-3 3" stroke="#ffff00" stroke-width=".7"/>
<circle cx="261.8" cy="219.3" r="2" stroke="#000000"/>
<circle cx="384.2" cy="178.4" r="2" stroke="#ffff00"/>
<path d="M275.0 209.4l2 2.4l-2 2.4l-2 -2.4z" stroke="#ff0000"/>
<circle cx="320.8" cy="192.6" r="2" stroke="#000000"/>
<path d="M350.5 172.5l3 3m0 -3l-3 3" stroke="#00ff00" stroke-width=".7"/>
<circle cx="271.0" cy="228.5" r="2" stroke="#0000ff"/>
<path d="M251.0 227.1l2 2.4l-2 2.4l-2 -2.4z" stroke="#0000ff"/>
<path d="M397.2 124.1l3 3m0 -3l-3 3" stroke="#00ff00" stroke-width=".7"/>
<circle cx="268.7" cy="219.8" r="2" stroke="#ffff00"/>
<path d="M346.1 133.0l2 2.4l-2 2.4l-2 -2.4z" stroke="#000000"/>
<path d="M397.5 164.9l3 3m0 -3l-3 3" stroke="#000000" stroke-width=".7"/>
<path d="M360.2 163.9l3 3m0 -3l-3 3" stroke="#00ff00" stroke-width=".7"/>
<circle cx="320.7" cy="186.1" r="2" stroke="#ff0000"/>
<circle cx="370.1" cy="134.4" r="2" stroke="#00ff00"/>
<circle cx="404.1" cy="120.0" r="2" stroke="#ff0000"/>
<circle cx="378.2" cy="172.8" r="2" stroke="#ff0000"/>
<circle cx="257.8" cy="221.3" r="2" stroke="#000000"/>
<path d="M373.2 131.0l2 2.4l-2 2.4l-2 -2.4z" stroke="#000000"/>
<path d="M269.6 208.9l3 3m0 -3l-3 3" stroke="#ff0000" stroke-width=".7"/>
<circle cx="322.4" cy="174.6" r="2" stroke="#ffff00"/>
<path d="M306.5 189.1l2 2.4l-2 2.4l-2 -2.4z" stroke="#ffff00"/>
<circle cx="354.0" cy="128.8" r="2" stroke="#00ff00"/>
<path d="M337.8 145.0l3 3m0 -3l-3 3" stroke="#00ff00" stroke-width=".7"/>
<circle cx="243.3" cy="229.0" r="2" stroke="#0000ff"/>
<path d="M302.4 186.3l3 3m0 -3l-3 3" stroke="#00ff00" stroke-width=".7"/>
<circle cx="415.0" cy="159.0" r="2" stroke="#ffff00"/>
<circle cx="280.4" cy="218.5" r="2" stroke="#0000ff"/>
<path d="M346.4 193.7l3 3m0 -3l-3 3" stroke="#ff0000" stroke-width=".7"/>
<circle cx="372.7" cy="166.5" r="2" stroke="#000000"/>
<circle cx="367.3" cy="132.8" r="2" stroke="#00ff00"/>
<path d="M417.2 122.0l3 3m0 -3l-3 3" stroke="#00ff00" stroke-width=".7"/>
<circle cx="244.9" cy="229.0" r="2" stroke="#ff0000"/>
<path d="M241.2 228.3l3 3m0 -3l-3 3" stroke="#0000ff" stroke-width=".7"/>
<circle cx="377.1" cy="143.5" r="2" stroke="#ffff00"/>
<circle cx="296.4" cy="200.4" r="2" stroke="#0000ff"/>
<circle cx="266.5" cy="214.9" r="2" stroke="#ff0000"/>
<path d="M280.0 216.9l3 3m0 -3l-3 3" stroke="#0000ff" stroke-width=".7"/>
<circle cx="257.1" cy="224.8" r="2" stroke="#ffff00"/>
<path d="M299.4 200.2l3 3m0 -3l-3 3" stroke="#000000" stroke-width=".7"/>
<path d="M284.9 212.7l2 2.4l-2 2.4l-2 -2.4z" stroke="#ffff00"/>
<path d="M392.5 146.4l2 2.4l-2 2.4l-2 -2.4z" stroke="#ffff00"/>
<path d="M285.1 202.4l3 3m0 -3l-3 3" stroke="#ff0000" stroke-width=".7"/>
<circle cx="403.0" cy="89.5" r="2" stroke="#ff0000"/>
<path d="M295.6 212.2l3 3m0 -3l-3 3" stroke="#0000ff" stroke-width=".7"/>
<circle cx="391.0" cy="163.2" r="2" stroke="#ffff00"/>
<circle cx="324.2" cy="166.2" r="2" stroke="#00ff00"/>
<path d="M354.0 177.1l2 2.4l-2 2.4l-2 -2.4z" stroke="#000000"/>
<circle cx="256.2" cy="230.4" r="2" stroke="#0000ff"/>
<path d="M236.6 227.8l2 2.4l-2 2.4l-2 -2.4z" stroke="#ffff00"/>
<circle cx="320.6" cy="188.8" r="2" stroke="#ffff00"/>
<circle cx="298.9" cy="198.5" r="2" stroke="#ffff00"/>
<path d="M321.8 166.4l3 3m0 -3l-3 3" stroke="#00ff00" stroke-width=".7"/>
<path d="M399.6 115.4l3 3m0 -3l-3 3" stroke="#00ff00" stroke-width=".7"/>
<circle cx="261.7" cy="217.3" r="2" stroke="#000000"/>
<path d="M273.4 217.5l2 2.4l-2 2.4l-2 -2.4z" stroke="#0000ff"/>
<circle cx="328.9" cy="177.7" r="2" stroke="#00ff00"/>
<circle cx="249.0" cy="227.7" r="2" stroke="#0000ff"/>
<circle cx="245.3" cy="226.8" r="2" stroke="#0000ff"/>
<path d="M382.6 177.0l3 3m0 -3l-3 3" stroke="#000000" stroke-width=".7"/>
<circle cx="320.5" cy="206.1" r="2" stroke="#ff0000"/>
<circle cx="330.2" cy="199.9" r="2" stroke="#ff0000"/>
<path d="M265.0 216.6l3 3m0 -3l-3 3" stroke="#000000" stroke-width=".7"/>
<path d="M342.6 149.4l3 3m0 -3l-3 3" stroke="#00ff00" stroke-width=".7"/>
<path d="M345.9 199.8l3 3m0 -3l-3 3" stroke="#00ff00" stroke-width=".7"/>
<path d="M373.2 182.1l3 3m0 -3l-3 3" stroke="#ffff00" stroke-width=".7"/>
<path d="M353.5 155.3l3 3m0 -3l-3 3" stroke="#00ff00" stroke-width=".7"/>
<path d="M353.8 148.0l3 3m0 -3l-3 3" stroke="#00ff00" stroke-width=".7"/>
<path d="M373.3 113.1l3 3m0 -3l-3 3" stroke="#00ff00" stroke-width=".7"/>
<path d="M385.9 141.4l3 3m0 -3l-3 3" stroke="#00ff00" stroke-width=".7"/>
<circle cx="229.0" cy="230.4" r="2" stroke="#ffff00"/>
<circle cx="276.0" cy="192.0" r="2" stroke="#ff0000"/>
<path d="M277.2 217.2l2 2.4l-2 2.4l-2 -2.4z" stroke="#000000"/>
<circle cx="305.4" cy="185.3" r="2" stroke="#ffff00"/>
<path d="M251.5 226.9l3 3m0 -3l-3 3" stroke="#000000" stroke-width=".7"/>
<path d="M311.8 208.0l3 3m0 -3l-3 3" stroke="#0000ff" stroke-width=".7"/>
<path d="M282.0 202.2l2 2.4l-2 2.4l-2 -2.4z" stroke="#ff0000"/>
<path d="M285.7 200.4l2 2.4l-2 2.4l-2 -2.4z" stroke="#ffff00"/>
<path d="M321.5 186.1l3 3m0 -3l-3 3" stroke="#00ff00" stroke-width=".7"/>
<path d="M272.2 218.0l3 3m0 -3l-3 3" stroke="#0000ff" stroke-width=".7"/>
<circle cx="250.9" cy="231.4" r="2" stroke="#0000ff"/>
<circle cx="340.2" cy="190.6" r="2" stroke="#ffff00"/>
<circle cx="391.0" cy="119.3" r="2" stroke="#00ff00"/>
<path d="M288.9 193.8l3 3m0 -3l-3 3" stroke="#ffff00" stroke-width=".7"/>
<path d="M384.4 172.4l2 2.4l-2 2.4l-2 -2.4z" stroke="#000000"/>
<circle cx="380.4" cy="152.1" r="2" stroke="#00ff00"/>
<path d="M249.5 232.1l3 3m0 -3l-3 3" stroke="#0000ff" stroke-width=".7"/>
<path d="M342.5 181.1l3 3m0 -3l-3 3" stroke="#00ff00" stroke-width=".7"/>
<path d="M296.0 208.6l2 2.4l-2 2.4l-2 -2.4z" stroke="#ffff00"/>
<circle cx="317.1" cy="186.3" r="2" stroke="#00ff00"/>
<path d="M374.0 160.7l2 2.4l-2 2.4l-2 -2.4z" stroke="#ff0000"/>
<circle cx="300.1" cy="188.5" r="2" stroke="#000000"/>
<circle cx="251.1" cy="229.8" r="2" stroke="#0000ff"/>
<path d="M377.9 179.3l2 2.4l-2 2.4l-2 -2.4z" stroke="#000000"/>
<path d="M265.4 221.3l3 3m0 -3l-3 3" stroke="#0000ff" stroke-width=".7"/>
<path d="M231.0 228.1l3 3m0 -3l-3 3" stroke="#ffff00" stroke-width=".7"/>
<path d="M329.7 152.2l3 3m0 -3l-3 3" stroke="#00ff00" stroke-width=".7"/>
<circle cx="246.1" cy="228.2" r="2" stroke="#0000ff"/>
<circle cx="403.8" cy="150.7" r="2" stroke="#ffff00"/>
<path d="M365.4 176.5l2 2.4l-2 2.4l-2 -2.4z" stroke="#0000ff"/>
<circle cx="351.8" cy="135.5" r="2" stroke="#00ff00"/>
<circle cx="327.7" cy="206.7" r="2" stroke="#ff0000"/>
<path d="M315.6 175.0l3 3m0 -3l-3 3" stroke="#000000" stroke-width=".7"/>
<path d="M321.7 175.4l3 3m0 -3l-3 3" stroke="#00ff00" stroke-width=".7"/>
<path d="M387.0 115.9l3 3m0 -3l-3 3" stroke="#00ff00" stroke-width=".7"/>
<circle cx="383.3" cy="107.1" r="2" stroke="#00ff00"/>
<circle cx="322.2" cy="184.6" r="2" stroke="#ff0000"/>
<circle cx="328.4" cy="192.2" r="2" stroke="#ff0000"/>
<path d="M386.5 145.4l3 3m0 -3l-3 3" stroke="#00ff00" stroke-width=".7"/>
<path d="M372.1 143.4l3 3m0 -3l-3 3" stroke="#00ff00" stroke-width=".7"/>
<circle cx="386.2" cy="119.0" r="2" stroke="#00ff00"/>
<circle cx="333.5" cy="201.8" r="2" stroke="#ff0000"/>
<circle cx="347.1" cy="134.2" r="2" stroke="#00ff00"/>
<circle cx="295.7" cy="220.0" r="2" stroke="#0000ff"/>
<path d="M322.9 172.2l3 3m0 -3l-3 3" stroke="#00ff00" stroke-width=".7"/>
<circle cx="394.9" cy="153.0" r="2" stroke="#ff0000"/>
<circle cx="290.2" cy="219.5" r="2" stroke="#ff0000"/>
<path d="M354.7 149.9l3 3m0 -3l-3 3" stroke="#00ff00" stroke-width=".7"/>
<path d="M276.2 222.8l2 2.4l-2 2.4l-2 -2.4z" stroke="#0000ff"/>
<path d="M253.4 224.4l3 3m0 -3l-3 3" stroke="#ffff00" stroke-width=".7"/>
<path d="M360.1 180.3l2 2.4l-2 2.4l-2 -2.4z" stroke="#000000"/>
<circle cx="258.5" cy="228.8" r="2" stroke="#0000ff"/>
<path d="M279.7 203.7l2 2.4l-2 2.4l-2 -2.4z" stroke="#ff0000"/>
<path d="M340.4 164.4l3 3m0 -3l-3 3" stroke="#00ff00" stroke-width=".7"/>
<circle cx="342.6" cy="173.9" r="2" stroke="#ffff00"/>
<path d="M349.7 168.1l3 3m0 -3l-3 3" stroke="#00ff00" stroke-width=".7"/>
<circle cx="236.7" cy="230.9" r="2" stroke="#ffff00"/>
<circle cx="260.8" cy="227.4" r="2" stroke="#000000"/>
<circle cx="369.4" cy="131.7" r="2" stroke="#ffff00"/>
<circle cx="311.0" cy="188.0" r="2" stroke="#000000"/>
<circle cx="324.2" cy="208.8" r="2" stroke="#ff0000"/>
<circle cx="243.8" cy="232.6" r="2" stroke="#0000ff"/>
<path d="M346.4 148.6l3 3m0 -3l-3 3" stroke="#00ff00" stroke-width=".7"/>
<circle cx="369.6" cy="168.7" r="2" stroke="#ff0000"/>
<circle cx="317.4" cy="174.8" r="2" stroke="#ffff00"/>
<path d="M378.4 108.4l2 2.4l-2 2.4l-2 -2.4z" stroke="#000000"/>
<path d="M343.7 145.0l3 3m0 -3l-3 3" stroke="#00ff00" stroke-width=".7"/>
<circle cx="263.9" cy="221.3" r="2" stroke="#000000"/>
<path d="M251.3 221.4l2 2.4l-2 2.4l-2 -2.4z" stroke="#ff0000"/>
<path d="M377.7 116.1l3 3m0 -3l-3 3" stroke="#00ff00" stroke-width=".7"/>
<circle cx="352.8" cy="181.3" r="2" stroke="#00ff00"/>
<path d="M292.7 216.6l2 2.4l-2 2.4l-2 -2.4z" stroke="#0000ff"/>
<circle cx="374.8" cy="173.9" r="2" stroke="#ffff00"/>
<path d="M309.2 192.1l3 3m0 -3l-3 3" stroke="#000000" stroke-width=".7"/>
<path d="M303.2 200.2l3 3m0 -3l-3 3" stroke="#000000" stroke-width=".7"/>
<circle cx="273.6" cy="219.4" r="2" stroke="#ff0000"/>
<path d="M299.8 197.5l2 2.4l-2 2.4l-2 -2.4z" stroke="#ff0000"/>
<path d="M347.0 166.2l3 3m0 -3l-3 3" stroke="#00ff00" stroke-width=".7"/>
<path d="M233.5 230.1l2 2.4l-2 2.4l-2 -2.4z" stroke="#ffff00"/>
<circle cx="417.4" cy="112.4" r="2" stroke="#00ff00"/>
<path d="M365.5 154.1l3 3m0 -3l-3 3" stroke="#00ff00" stroke-width=".7"/>
<path d="M356.9 153.9l3 3m0 -3l-3 3" stroke="#00ff00" stroke-width=".7"/>
<circle cx="287.8" cy="214.0" r="2" stroke="#ffff00"/>
<circle cx="321.5" cy="209.6" r="2" stroke="#ff0000"/>
<path d="M370.8 185.2l2 2.4l-2 2.4l-2 -2.4z" stroke="#ff0000"/>
<circle cx="305.5" cy="196.2" r="2" stroke="#0000ff"/>
<circle cx="288.9" cy="222.7" r="2" stroke="#0000ff"/>
<circle cx="341.1" cy="156.1" r="2" stroke="#00ff00"/>
<circle cx="250.0" cy="231.7" r="2" stroke="#0000ff"/>
<circle cx="244.3" cy="228.2" r="2" stroke="#0000ff"/>
<path d="M296.2 210.6l3 3m0 -3l-3 3" stroke="#000000" stroke-width=".7"/>
<path d="M383.3 177.6l2 2.4l-2 2.4l-2 -2.4z" stroke="#ffff00"/>
<circle cx="379.3" cy="115.2" r="2" stroke="#00ff00"/>
<path d="M303.5 205.2l2 2.4l-2 2.4l-2 -2.4z" stroke="#ffff00"/>
<circle cx="389.8" cy="140.7" r="2" stroke="#00ff00"/>
<circle cx="400.0" cy="157.0" r="2" stroke="#ffff00"/>
<path d="M251.2 225.6l2 2.4l-2 2.4l-2 -2.4z" stroke="#ff0000"/>
<circle cx="273.6" cy="217.7" r="2" stroke="#0000ff"/>
<path d="M277.2 221.1l3 3m0 -3l-3 3" stroke="#0000ff" stroke-width=".7"/>
<circle cx="276.4" cy="223.3" r="2" stroke="#0000ff"/>
<circle cx="237.6" cy="230.0" r="2" stroke="#ffff00"/>
<circle cx="249.6" cy="225.9" r="2" stroke="#000000"/>
<circle cx="344.6" cy="196.1" r="2" stroke="#ff0000"/>
<circle cx="264.9" cy="217.7" r="2" stroke="#000000"/>
<path d="M329.9 172.7l3 3m0 -3l-3 3" stroke="#00ff00" stroke-width=".7"/>
<path d="M302.8 206.5l3 3m0 -3l-3 3" stroke="#ff0000" stroke-width=".7"/>
<circle cx="297.6" cy="200.4" r="2" stroke="#000000"/>
<circle cx="319.3" cy="194.0" r="2" stroke="#ffff00"/>
<circle cx="264.8" cy="223.3" r="2" stroke="#ff0000"/>
<path d="M354.7 165.8l3 3m0 -3l-3 3" stroke="#00ff00" stroke-width=".7"/>
<circle cx="302.4" cy="201.2" r="2" stroke="#ff0000"/>
<path d="M343.5 145.2l3 3m0 -3l-3 3" stroke="#00ff00" stroke-width=".7"/>
<path d="M234.9 228.4l3 3m0 -3l-3 3" stroke="#ffff00" stroke-width=".7"/>
<circle cx="301.3" cy="218.0" r="2" stroke="#0000ff"/>
<circle cx="276.4" cy="221.4" r="2" stroke="#0000ff"/>
<path d="M229.9 231.2l3 3m0 -3l-3 3" stroke="#0000ff" stroke-width=".7"/>
<path d="M310.6 198.5l3 3m0 -3l-3 3" stroke="#000000" stroke-width=".7"/>
<path d="M389.0 169.3l2 2.4l-2 2.4l-2 -2.4z" stroke="#000000"/>
<circle cx="310.6" cy="199.6" r="2" stroke="#ffff00"/>
<circle cx="321.1" cy="170.9" r="2" stroke="#00ff00"/>
<circle cx="308.7" cy="202.6" r="2" stroke="#000000"/>
<circle cx="318.4" cy="171.2" r="2" stroke="#000000"/>
<circle cx="237.6" cy="228.5" r="2" stroke="#0000ff"/>
<circle cx="308.8" cy="214.1" r="2" stroke="#ffff00"/>
<path d="M344.0 183.1l3 3m0 -3l-3 3" stroke="#ff0000" stroke-width=".7"/>
<path d="M341.9 155.8l3 3m0 -3l-3 3" stroke="#00ff00" stroke-width=".7"/>
<circle cx="378.7" cy="177.2" r="2" stroke="#ff0000"/>
<path d="M393.5 138.3l3 3m0 -3l-3 3" stroke="#00ff00" stroke-width=".7"/>
<path d="M344.9 135.9l3 3m0 -3l-3 3" stroke="#00ff00" stroke-width=".7"/>
<circle cx="371.2" cy="135.5" r="2" stroke="#00ff00"/>
<path d="M388.5 144.8l3 3m0 -3l-3 3" stroke="#000000" stroke-width=".7"/>
<circle cx="266.6" cy="229.8" r="2" stroke="#0000ff"/>
<circle cx="328.0" cy="175.4" r="2" stroke="#00ff00"/>
<path d="M360.0 161.4l3 3m0 -3l-3 3" stroke="#00ff00" stroke-width=".7"/>
<circle cx="239.5" cy="227.9" r="2" stroke="#ffff00"/>
<circle cx="231.4" cy="229.8" r="2" stroke="#ffff00"/>
<circle cx="386.8" cy="118.6" r="2" stroke="#0000ff"/>
<circle cx="282.3" cy="219.5" r="2" stroke="#0000ff"/>
<path d="M285.4 209.8l3 3m0 -3l-3 3" stroke="#ffff00" stroke-width=".7"/>
<circle cx="251.4" cy="224.6" r="2" stroke="#000000"/>
<circle cx="339.1" cy="199.4" r="2" stroke="#ff0000"/>
<circle cx="371.3" cy="123.1" r="2" stroke="#ff0000"/>
<path d="M240.5 226.4l2 2.4l-2 2.4l-2 -2.4z" stroke="#0000ff"/>
<circle cx="296.6" cy="211.9" r="2" stroke="#ffff00"/>
<path d="M252.2 227.8l3 3m0 -3l-3 3" stroke="#0000ff" stroke-width=".7"/>
<path d="M306.9 174.5l3 3m0 -3l-3 3" stroke="#000000" stroke-width=".7"/>
<path d="M391.7 148.1l3 3m0 -3l-3 3" stroke="#ff0000" stroke-width=".7"/>
<circle cx="370.4" cy="163.9" r="2" stroke="#000000"/>
<path d="M276.0 216.6l3 3m0 -3l-3 3" stroke="#000000" stroke-width=".7"/>
<circle cx="346.0" cy="142.7" r="2" stroke="#00ff00"/>
<path d="M245.5 228.5l3 3m0 -3l-3 3" stroke="#0000ff" stroke-width=".7"/>
<circle cx="324.9" cy="197.8" r="2" stroke="#000000"/>
<path d="M359.3 153.1l3 3m0 -3l-3 3" stroke="#00ff00" stroke-width=".7"/>
<path d="M271.2 219.9l3 3m0 -3l-3 3" stroke="#0000ff" stroke-width=".7"/>
<path d="M395.8 119.6l3 3m0 -3l-3 3" stroke="#00ff00" stroke-width=".7"/>
<path d="M359.9 136.0l3 3m0 -3l-3 3" stroke="#00ff00" stroke-width=".7"/>
<path d="M362.7 181.0l3 3m0 -3l-3 3" stroke="#ffff00" stroke-width=".7"/>
<path d="M436.5 112.5l3 3m0 -3l-3 3" stroke="#00ff00" stroke-width=".7"/>
<path d="M258.0 225.7l2 2.4l-2 2.4l-2 -2.4z" stroke="#0000ff"/>
<path d="M342.0 136.1l3 3m0 -3l-3 3" stroke="#00ff00" stroke-width=".7"/>
<circle cx="297.8" cy="212.6" r="2" stroke="#ff0000"/>
<circle cx="289.1" cy="214.2" r="2" stroke="#ff0000"/>
<path d="M380.0 123.1l3 3m0 -3l-3 3" stroke="#00ff00" stroke-width=".7"/>
<circle cx="288.2" cy="197.8" r="2" stroke="#ff0000"/>
<path d="M371.4 156.3l3 3m0 -3l-3 3" stroke="#00ff00" stroke-width=".7"/>
<circle cx="279.4" cy="225.8" r="2" stroke="#0000ff"/>
<path d="M289.0 207.9l3 3m0 -3l-3 3" stroke="#000000" stroke-width=".7"/>
<circle cx="384.0" cy="114.2" r="2" stroke="#00ff00"/>
<circle cx="305.7" cy="213.4" r="2" stroke="#000000"/>
<path d="M244.3 227.1l2 2.4l-2 2.4l-2 -2.4z" stroke="#0000ff"/>
<circle cx="360.6" cy="122.1" r="2" stroke="#00ff00"/>
<circle cx="329.8" cy="207.5" r="2" stroke="#ff0000"/>
<circle cx="370.6" cy="149.4" r="2" stroke="#00ff00"/>
<circle cx="348.4" cy="130.5" r="2" stroke="#00ff00"/>
<circle cx="389.6" cy="140.9" r="2" stroke="#00ff00"/>
<circle cx="239.5" cy="228.5" r="2" stroke="#ffff00"/>
<circle cx="286.3" cy="208.0" r="2" stroke="#000000"/>
<circle cx="345.6" cy="165.0" r="2" stroke="#00ff00"/>
<path d="M330.8 173.8l2 2.4l-2 2.4l-2 -2.4z" stroke="#0000ff"/>
<path d="M383.7 164.4l3 3m0 -3l-3 3" stroke="#00ff00" stroke-width=".7"/>
<circle cx="239.8" cy="228.6" r="2" stroke="#ffff00"/>
<circle cx="398.8" cy="112.7" r="2" stroke="#00ff00"/>
<circle cx="243.5" cy="229.3" r="2" stroke="#0000ff"/>
<path d="M362.0 133.6l3 3m0 -3l-3 3" stroke="#00ff00" stroke-width=".7"/>
<path d="M256.9 220.9l2 2.4l-2 2.4l-2 -2.4z" stroke="#000000"/>
<circle cx="336.5" cy="134.0" r="2" stroke="#ffff00"/>
<circle cx="232.6" cy="230.5" r="2" stroke="#0000ff"/>
<circle cx="289.6" cy="211.2" r="2" stroke="#0000ff"/>
<path d="M284.2 216.7l2 2.4l-2 2.4l-2 -2.4z" stroke="#000000"/>
<circle cx="310.7" cy="210.0" r="2" stroke="#ff0000"/>
<path d="M391.7 155.1l2 2.4l-2 2.4l-2 -2.4z" stroke="#ffff00"/>
<path d="M348.2 173.4l3 3m0 -3l-3 3" stroke="#00ff00" stroke-width=".7"/>
<circle cx="263.7" cy="229.7" r="2" stroke="#0000ff"/>
<circle cx="336.2" cy="196.1" r="2" stroke="#000000"/>
<circle cx="274.4" cy="219.7" r="2" stroke="#ff0000"/>
<circle cx="382.4" cy="177.9" r="2" stroke="#ff0000"/>
<circle cx="346.2" cy="171.1" r="2" stroke="#ffff00"/>
<circle cx="351.2" cy="147.2" r="2" stroke="#00ff00"/>
<path d="M234.0 229.2l2 2.4l-2 2.4l-2 -2.4z" stroke="#ffff00"/>
<path d="M338.5 200.1l3 3m0 -3l-3 3" stroke="#000000" stroke-width=".7"/>
<path d="M309.4 213.2l3 3m0 -3l-3 3" stroke="#0000ff" stroke-width=".7"/>
<circle cx="255.0" cy="207.0" r="2" stroke="#0000ff"/>
<path d="M335.3 175.8l3 3m0 -3l-3 3" stroke="#00ff00" stroke-width=".7"/>
<circle cx="247.7" cy="229.1" r="2" stroke="#0000ff"/>
<circle cx="231.7" cy="229.9" r="2" stroke="#ffff00"/>
<path d="M292.5 189.8l2 2.4l-2 2.4l-2 -2.4z" stroke="#ffff00"/>
<circle cx="237.6" cy="227.0" r="2" stroke="#ffff00"/>
<path d="M302.1 188.8l3 3m0 -3l-3 3" stroke="#000000" stroke-width=".7"/>
<path d="M242.1 226.3l3 3m0 -3l-3 3" stroke="#0000ff" stroke-width=".7"/>
<circle cx="291.2" cy="198.5" r="2" stroke="#ffff00"/>
<circle cx="307.3" cy="184.9" r="2" stroke="#000000"/>
<circle cx="331.8" cy="172.7" r="2" stroke="#00ff00"/>
<path d="M381.4 120.5l2 2.4l-2 2.4l-2 -2.4z" stroke="#ffff00"/>
<path d="M257.7 222.7l2 2.4l-2 2.4l-2 -2.4z" stroke="#0000ff"/>
<circle cx="357.3" cy="136.9" r="2" stroke="#00ff00"/>
<path d="M260.1 226.1l2 2.4l-2 2.4l-2 -2.4z" stroke="#0000ff"/>
<circle cx="246.5" cy="226.6" r="2" stroke="#0000ff"/>
<circle cx="354.7" cy="176.8" r="2" stroke="#ffff00"/>
<circle cx="412.0" cy="158.5" r="2" stroke="#ffff00"/>
<circle cx="360.3" cy="171.7" r="2" stroke="#ff0000"/>
<circle cx="288.2" cy="198.2" r="2" stroke="#ff0000"/>
<circle cx="257.0" cy="228.0" r="2" stroke="#0000ff"/>
<circle cx="341.2" cy="190.4" r="2" stroke="#0000ff"/>
<circle cx="404.0" cy="151.0" r="2" stroke="#ff0000"/>
<path d="M383.6 118.2l3 3m0 -3l-3 3" stroke="#00ff00" stroke-width=".7"/>
<circle cx="345.1" cy="133.6" r="2" stroke="#00ff00"/>
<path d="M323.7 175.1l3 3m0 -3l-3 3" stroke="#00ff00" stroke-width=".7"/>
<path d="M241.1 227.5l3 3m0 -3l-3 3" stroke="#0000ff" stroke-width=".7"/>
<circle cx="322.9" cy="185.5" r="2" stroke="#ff0000"/>
<path d="M320.5 162.2l3 3m0 -3l-3 3" stroke="#00ff00" stroke-width=".7"/>
<path d="M309.1 198.8l3 3m0 -3l-3 3" stroke="#00ff00" stroke-width=".7"/>
<circle cx="409.0" cy="93.0" r="2" stroke="#ffff00"/>
<path d="M381.2 168.8l2 2.4l-2 2.4l-2 -2.4z" stroke="#ff0000"/>
<path d="M350.3 174.3l3 3m0 -3l-3 3" stroke="#00ff00" stroke-width=".7"/>
<circle cx="274.3" cy="223.8" r="2" stroke="#0000ff"/>
<circle cx="261.9" cy="220.9" r="2" stroke="#000000"/>
<circle cx="351.8" cy="192.5" r="2" stroke="#ffff00"/>
<circle cx="276.2" cy="226.4" r="2" stroke="#0000ff"/>
<circle cx="287.6" cy="198.7" r="2" stroke="#ff0000"/>
<circle cx="335.4" cy="168.7" r="2" stroke="#00ff00"/>
<circle cx="287.6" cy="215.6" r="2" stroke="#ffff00"/>
<path d="M240.7 226.9l3 3m0 -3l-3 3" stroke="#000000" stroke-width=".7"/>
<path d="M352.8 173.8l2 2.4l-2 2.4l-2 -2.4z" stroke="#000000"/>
<path d="M351.2 173.6l3 3m0 -3l-3 3" stroke="#00ff00" stroke-width=".7"/>
<circle cx="306.6" cy="195.6" r="2" stroke="#ff0000"/>
<path d="M298.9 179.8l3 3m0 -3l-3 3" stroke="#000000" stroke-width=".7"/>
<circle cx="378.1" cy="167.8" r="2" stroke="#000000"/>
<path d="M314.1 209.3l2 2.4l-2 2.4l-2 -2.4z" stroke="#ff0000"/>
<path d="M378.0 113.5l3 3m0 -3l-3 3" stroke="#00ff00" stroke-width=".7"/>
<circle cx="393.2" cy="170.3" r="2" stroke="#ff0000"/>
<path d="M343.7 178.5l3 3m0 -3l-3 3" stroke="#ff0000" stroke-width=".7"/>
<path d="M331.1 166.1l3 3m0 -3l-3 3" stroke="#00ff00" stroke-width=".7"/>
<path d="M279.1 197.5l2 2.4l-2 2.4l-2 -2.4z" stroke="#000000"/>
<circle cx="399.0" cy="162.9" r="2" stroke="#000000"/>
<circle cx="330.9" cy="190.0" r="2" stroke="#ffff00"/>
<circle cx="319.1" cy="208.6" r="2" stroke="#ff0000"/>
<path d="M383.4 131.3l3 3m0 -3l-3 3" stroke="#00ff00" stroke-width=".7"/>
<circle cx="281.2" cy="208.5" r="2" stroke="#ff0000"/>
<circle cx="268.5" cy="221.4" r="2" stroke="#000000"/>
<circle cx="264.5" cy="227.2" r="2" stroke="#0000ff"/>
<circle cx="421.0" cy="139.5" r="2" stroke="#00ff00"/>
<circle cx="334.7" cy="169.8" r="2" stroke="#00ff00"/>
<circle cx="445.5" cy="128.5" r="2" stroke="#000000"/>
<path d="M367.1 151.2l3 3m0 -3l-3 3" stroke="#00ff00" stroke-width=".7"/>
<path d="M348.4 180.1l2 2.4l-2 2.4l-2 -2.4z" stroke="#000000"/>
<circle cx="265.8" cy="231.2" r="2" stroke="#ffff00"/>
<path d="M305.6 182.7l3 3m0 -3l-3 3" stroke="#ff0000" stroke-width=".7"/>
<path d="M375.1 148.3l3 3m0 -3l-3 3" stroke="#00ff00" stroke-width=".7"/>
<path d="M380.8 141.4l3 3m0 -3l-3 3" stroke="#00ff00" stroke-width=".7"/>
<path d="M245.4 229.1l2 2.4l-2 2.4l-2 -2.4z" stroke="#0000ff"/>
<path d="M265.8 213.2l3 3m0 -3l-3 3" stroke="#ff0000" stroke-width=".7"/>
<circle cx="238.6" cy="227.4" r="2" stroke="#ffff00"/>
<path d="M268.7 211.8l2 2.4l-2 2.4l-2 -2.4z" stroke="#000000"/>
<path d="M398.8 163.4l2 2.4l-2 2.4l-2 -2.4z" stroke="#ffff00"/>
<path d="M251.2 224.5l2 2.4l-2 2.4l-2 -2.4z" stroke="#000000"/>
<path d="M295.7 211.0l2 2.4l-2 2.4l-2 -2.4z" stroke="#000000"/>
<path d="M393.2 141.0l3 3m0 -3l-3 3" stroke="#00ff00" stroke-width=".7"/>
<circle cx="286.5" cy="202.0" r="2" stroke="#000000"/>
<path d="M312.8 198.6l3 3m0 -3l-3 3" stroke="#ff0000" stroke-width=".7"/>
<circle cx="447.4" cy="140.3" r="2" stroke="#00ff00"/>
<path d="M269.6 221.2l2 2.4l-2 2.4l-2 -2.4z" stroke="#000000"/>
<path d="M427.0 109.4l3 3m0 -3l-3 3" stroke="#00ff00" stroke-width=".7"/>
<circle cx="389.7" cy="167.8" r="2" stroke="#000000"/>
<circle cx="286.5" cy="201.5" r="2" stroke="#ffff00"/>
<path d="M238.5 226.0l2 2.4l-2 2.4l-2 -2.4z" stroke="#0000ff"/>
<circle cx="314.6" cy="198.9" r="2" stroke="#ffff00"/>
<path d="M322.7 202.0l3 3m0 -3l-3 3" stroke="#ffff00" stroke-width=".7"/>
<circle cx="370.1" cy="182.5" r="2" stroke="#ff0000"/>
<path d="M253.0 223.5l2 2.4l-2 2.4l-2 -2.4z" stroke="#000000"/>
<circle cx="367.5" cy="174.8" r="2" stroke="#ff0000"/>
<path d="M240.6 231.8l3 3m0 -3l-3 3" stroke="#0000ff" stroke-width=".7"/>
<circle cx="366.5" cy="116.8" r="2" stroke="#ff0000"/>
<path d="M233.8 227.4l2 2.4l-2 2.4l-2 -2.4z" stroke="#ffff00"/>
<path d="M376.8 121.0l3 3m0 -3l-3 3" stroke="#00ff00" stroke-width=".7"/>
<path d="M324.7 172.6l3 3m0 -3l-3 3" stroke="#ffff00" stroke-width=".7"/>
<circle cx="279.1" cy="217.0" r="2" stroke="#ffff00"/>
<path d="M282.5 214.8l3 3m0 -3l-3 3" stroke="#ffff00" stroke-width=".7"/>
<circle cx="282.7" cy="203.4" r="2" stroke="#ff0000"/>
<circle cx="399.7" cy="144.1" r="2" stroke="#ff0000"/>
<path d="M392.0 133.0l3 3m0 -3l-3 3" stroke="#00ff00" stroke-width=".7"/>
<path d="M281.4 206.5l3 3m0 -3l-3 3" stroke="#ff0000" stroke-width=".7"/>
<circle cx="243.5" cy="228.9" r="2" stroke="#0000ff"/>
<circle cx="308.0" cy="202.9" r="2" stroke="#000000"/>
<circle cx="303.2" cy="191.7" r="2" stroke="#ffff00"/>
<circle cx="381.8" cy="161.0" r="2" stroke="#ffff00"/>
<path d="M320.9 209.1l2 2.4l-2 2.4l-2 -2.4z" stroke="#0000ff"/>
<circle cx="286.7" cy="223.4" r="2" stroke="#ff0000"/>
<circle cx="298.7" cy="215.4" r="2" stroke="#0000ff"/>
<circle cx="364.2" cy="180.8" r="2" stroke="#000000"/>
<path d="M296.4 212.5l3 3m0 -3l-3 3" stroke="#ffff00" stroke-width=".7"/>
<path d="M394.1 135.9l2 2.4l-2 2.4l-2 -2.4z" stroke="#000000"/>
<path d="M277.2 212.8l2 2.4l-2 2.4l-2 -2.4z" stroke="#000000"/>
<circle cx="276.2" cy="207.5" r="2" stroke="#000000"/>
<circle cx="344.0" cy="174.7" r="2" stroke="#00ff00"/>
<circle cx="263.1" cy="222.4" r="2" stroke="#ff0000"/>
<circle cx="263.7" cy="230.2" r="2" stroke="#0000ff"/>
<path d="M284.5 197.1l3 3m0 -3l-3 3" stroke="#ffff00" stroke-width=".7"/>
<circle cx="253.6" cy="229.7" r="2" stroke="#0000ff"/>
<path d="M354.6 122.6l3 3m0 -3l-3 3" stroke="#00ff00" stroke-width=".7"/>
<path d="M301.8 192.8l3 3m0 -3l-3 3" stroke="#000000" stroke-width=".7"/>
<path d="M339.1 170.4l3 3m0 -3l-3 3" stroke="#ffff00" stroke-width=".7"/>
<circle cx="377.5" cy="169.4" r="2" stroke="#ff0000"/>
<circle cx="380.5" cy="110.7" r="2" stroke="#00ff00"/>
<circle cx="337.9" cy="158.1" r="2" stroke="#00ff00"/>
<path d="M350.2 140.0l3 3m0 -3l-3 3" stroke="#00ff00" stroke-width=".7"/>
<path d="M277.2 221.3l3 3m0 -3l-3 3" stroke="#0000ff" stroke-width=".7"/>
<path d="M335.4 160.6l3 3m0 -3l-3 3" stroke="#00ff00" stroke-width=".7"/>
<path d="M306.9 204.1l2 2.4l-2 2.4l-2 -2.4z" stroke="#ffff00"/>
<circle cx="319.1" cy="184.4" r="2" stroke="#000000"/>
<circle cx="391.4" cy="104.1" r="2" stroke="#00ff00"/>
<circle cx="303.0" cy="191.1" r="2" stroke="#000000"/>
<circle cx="288.9" cy="211.7" r="2" stroke="#ffff00"/>
<path d="M377.6 140.2l3 3m0 -3l-3 3" stroke="#00ff00" stroke-width=".7"/>
<path d="M356.1 191.2l2 2.4l-2 2.4l-2 -2.4z" stroke="#ffff00"/>
<path d="M273.6 211.6l2 2.4l-2 2.4l-2 -2.4z" stroke="#ff0000"/>
<path d="M354.3 188.3l3 3m0 -3l-3 3" stroke="#ff0000" stroke-width=".7"/>
<path d="M237.5 229.1l3 3m0 -3l-3 3" stroke="#ffff00" stroke-width=".7"/>
<circle cx="245.9" cy="228.4" r="2" stroke="#ff0000"/>
<path d="M306.6 179.6l3 3m0 -3l-3 3" stroke="#000000" stroke-width=".7"/>
<path d="M246.2 227.5l2 2.4l-2 2.4l-2 -2.4z" stroke="#0000ff"/>
<path d="M398.4 102.0l3 3m0 -3l-3 3" stroke="#00ff00" stroke-width=".7"/>
<path d="M376.0 144.3l3 3m0 -3l-3 3" stroke="#00ff00" stroke-width=".7"/>
<path d="M345.9 142.8l3 3m0 -3l-3 3" stroke="#00ff00" stroke-width=".7"/>
<circle cx="235.0" cy="227.9" r="2" stroke="#ffff00"/>
<circle cx="314.0" cy="207.2" r="2" stroke="#ff0000"/>
<path d="M278.9 215.3l2 2.4l-2 2.4l-2 -2.4z" stroke="#0000ff"/>
<circle cx="229.6" cy="230.4" r="2" stroke="#ffff00"/>
<circle cx="322.6" cy="172.7" r="2" stroke="#00ff00"/>
<circle cx="383.4" cy="126.0" r="2" stroke="#00ff00"/>
<circle cx="379.5" cy="156.5" r="2" stroke="#000000"/>
<path d="M390.8 146.2l3 3m0 -3l-3 3" stroke="#00ff00" stroke-width=".7"/>
<circle cx="278.1" cy="209.7" r="2" stroke="#000000"/>
<circle cx="246.6" cy="231.5" r="2" stroke="#0000ff"/>
<circle cx="258.9" cy="221.7" r="2" stroke="#ff0000"/>
<circle cx="264.3" cy="230.8" r="2" stroke="#0000ff"/>
<path d="M288.1 208.6l3 3m0 -3l-3 3" stroke="#ff0000" stroke-width=".7"/>
<circle cx="347.3" cy="190.2" r="2" stroke="#000000"/>
<circle cx="379.6" cy="139.5" r="2" stroke="#00ff00"/>
<circle cx="230.4" cy="229.9" r="2" stroke="#0000ff"/>
<path d="M367.6 152.3l3 3m0 -3l-3 3" stroke="#00ff00" stroke-width=".7"/>
<circle cx="259.6" cy="222.9" r="2" stroke="#ff0000"/>
<path d="M433.5 101.5l3 3m0 -3l-3 3" stroke="#00ff00" stroke-width=".7"/>
<circle cx="253.8" cy="230.9" r="2" stroke="#0000ff"/>
<circle cx="297.1" cy="188.0" r="2" stroke="#000000"/>
<circle cx="392.0" cy="106.0" r="2" stroke="#000000"/>
<circle cx="383.1" cy="131.9" r="2" stroke="#00ff00"/>
<path d="M275.2 209.7l2 2.4l-2 2.4l-2 -2.4z" stroke="#ffff00"/>
<path d="M381.4 133.7l3 3m0 -3l-3 3" stroke="#00ff00" stroke-width=".7"/>
<path d="M372.7 162.0l3 3m0 -3l-3 3" stroke="#00ff00" stroke-width=".7"/>
<circle cx="313.3" cy="171.0" r="2" stroke="#ff0000"/>
<path d="M382.4 160.6l2 2.4l-2 2.4l-2 -2.4z" stroke="#ff0000"/>
<circle cx="327.4" cy="203.7" r="2" stroke="#0000ff"/>
<path d="M320.8 169.0l3 3m0 -3l-3 3" stroke="#00ff00" stroke-width=".7"/>
<circle cx="331.4" cy="153.0" r="2" stroke="#00ff00"/>
<circle cx="264.0" cy="222.4" r="2" stroke="#0000ff"/>
<circle cx="274.0" cy="222.9" r="2" stroke="#0000ff"/>
<circle cx="281.6" cy="224.7" r="2" stroke="#0000ff"/>
<circle cx="333.5" cy="179.4" r="2" stroke="#ff0000"/>
<path d="M329.7 207.0l2 2.4l-2 2.4l-2 -2.4z" stroke="#0000ff"/>
<circle cx="249.2" cy="226.0" r="2" stroke="#000000"/>
<circle cx="385.7" cy="116.5" r="2" stroke="#00ff00"/>
<circle cx="322.5" cy="210.3" r="2" stroke="#ff0000"/>
<circle cx="415.0" cy="133.0" r="2" stroke="#ff0000"/>
<circle cx="241.5" cy="229.1" r="2" stroke="#000000"/>
<path d="M295.9 208.6l2 2.4l-2 2.4l-2 -2.4z" stroke="#000000"/>
<circle cx="412.0" cy="78.9" r="2" stroke="#0000ff"/>
<path d="M324.9 162.1l3 3m0 -3l-3 3" stroke="#00ff00" stroke-width=".7"/>
<circle cx="460.0" cy="107.0" r="2" stroke="#00ff00"/>
<circle cx="284.1" cy="203.6" r="2" stroke="#ffff00"/>
<path d="M322.7 159.6l3 3m0 -3l-3 3" stroke="#00ff00" stroke-width=".7"/>
<circle cx="398.2" cy="122.3" r="2" stroke="#00ff00"/>
<circle cx="284.8" cy="218.2" r="2" stroke="#0000ff"/>
<circle cx="351.5" cy="181.2" r="2" stroke="#000000"/>
<circle cx="355.5" cy="127.7" r="2" stroke="#00ff00"/>
<path d="M328.1 166.5l3 3m0 -3l-3 3" stroke="#00ff00" stroke-width=".7"/>
<circle cx="321.8" cy="177.4" r="2" stroke="#ff0000"/>
<circle cx="324.1" cy="179.1" r="2" stroke="#00ff00"/>
<circle cx="369.8" cy="180.2" r="2" stroke="#000000"/>
<circle cx="343.6" cy="185.2" r="2" stroke="#ffff00"/>
<path d="M281.0 217.2l3 3m0 -3l-3 3" stroke="#0000ff" stroke-width=".7"/>
<circle cx="395.0" cy="168.9" r="2" stroke="#000000"/>
<circle cx="352.2" cy="177.0" r="2" stroke="#0000ff"/>
<path d="M287.7 219.1l3 3m0 -3l-3 3" stroke="#0000ff" stroke-width=".7"/>
<path d="M355.0 176.8l2 2.4l-2 2.4l-2 -2.4z" stroke="#000000"/>
<path d="M283.9 196.6l3 3m0 -3l-3 3" stroke="#000000" stroke-width=".7"/>
<circle cx="324.1" cy="209.5" r="2" stroke="#000000"/>
<path d="M328.6 152.6l3 3m0 -3l-3 3" stroke="#00ff00" stroke-width=".7"/>
<path d="M291.4 206.5l3 3m0 -3l-3 3" stroke="#000000" stroke-width=".7"/>
<path d="M332.2 159.5l3 3m0 -3l-3 3" stroke="#00ff00" stroke-width=".7"/>
<circle cx="305.0" cy="191.3" r="2" stroke="#ffff00"/>
<path d="M337.0 172.8l3 3m0 -3l-3 3" stroke="#00ff00" stroke-width=".7"/>
<circle cx="244.6" cy="229.8" r="2" stroke="#0000ff"/>
<circle cx="406.0" cy="157.0" r="2" stroke="#ffff00"/>
<path d="M284.2 220.6l3 3m0 -3l-3 3" stroke="#0000ff" stroke-width=".7"/>
<circle cx="440.0" cy="143.0" r="2" stroke="#ff0000"/>
<circle cx="376.1" cy="161.8" r="2" stroke="#000000"/>
<path d="M390.4 167.6l2 2.4l-2 2.4l-2 -2.4z" stroke="#000000"/>
<path d="M364.8 118.4l3 3m0 -3l-3 3" stroke="#00ff00" stroke-width=".7"/>
<circle cx="447.4" cy="112.0" r="2" stroke="#00ff00"/>
<circle cx="302.8" cy="183.0" r="2" stroke="#ff0000"/>
<path d="M351.2 125.4l2 2.4l-2 2.4l-2 -2.4z" stroke="#ff0000"/>
<circle cx="412.7" cy="118.0" r="2" stroke="#00ff00"/>
<path d="M291.2 199.7l3 3m0 -3l-3 3" stroke="#ff0000" stroke-width=".7"/>
<path d="M241.4 227.1l2 2.4l-2 2.4l-2 -2.4z" stroke="#0000ff"/>
<circle cx="253.4" cy="225.8" r="2" stroke="#000000"/>
<circle cx="251.3" cy="229.2" r="2" stroke="#0000ff"/>
<path d="M354.7 185.8l3 3m0 -3l-3 3" stroke="#00ff00" stroke-width=".7"/>
<circle cx="249.7" cy="225.9" r="2" stroke="#ffff00"/>
<path d="M308.0 207.1l3 3m0 -3l-3 3" stroke="#ffff00" stroke-width=".7"/>
<circle cx="230.1" cy="231.2" r="2" stroke="#ffff00"/>
<path d="M331.7 159.9l3 3m0 -3l-3 3" stroke="#00ff00" stroke-width=".7"/>
<circle cx="333.7" cy="192.3" r="2" stroke="#ff0000"/>
<circle cx="338.7" cy="173.0" r="2" stroke="#00ff00"/>
<circle cx="259.0" cy="226.3" r="2" stroke="#0000ff"/>
<path d="M302.5 213.4l3 3m0 -3l-3 3" stroke="#0000ff" stroke-width=".7"/>
<path d="M328.9 172.9l3 3m0 -3l-3 3" stroke="#00ff00" stroke-width=".7"/>
<path d="M380.6 133.8l3 3m0 -3l-3 3" stroke="#00ff00" stroke-width=".7"/>
<circle cx="421.8" cy="161.7" r="2" stroke="#ff0000"/>
<circle cx="258.2" cy="224.7" r="2" stroke="#0000ff"/>
<circle cx="259.1" cy="229.2" r="2" stroke="#0000ff"/>
<path d="M304.3 212.1l2 2.4l-2 2.4l-2 -2.4z" stroke="#ffff00"/>
<path d="M304.8 215.6l3 3m0 -3l-3 3" stroke="#ff0000" stroke-width=".7"/>
<circle cx="357.1" cy="131.9" r="2" stroke="#00ff00"/>
<circle cx="288.1" cy="219.9" r="2" stroke="#ff0000"/>
<circle cx="277.8" cy="205.9" r="2" stroke="#ff0000"/>
<path d="M232.4 230.4l3 3m0 -3l-3 3" stroke="#ffff00" stroke-width=".7"/>
<circle cx="263.2" cy="217.8" r="2" stroke="#000000"/>
<path d="M355.0 167.2l3 3m0 -3l-3 3" stroke="#00ff00" stroke-width=".7"/>
<circle cx="265.7" cy="227.9" r="2" stroke="#0000ff"/>
<path d="M314.7 196.1l2 2.4l-2 2.4l-2 -2.4z" stroke="#ff0000"/>
<path d="M393.2 122.5l3 3m0 -3l-3 3" stroke="#00ff00" stroke-width=".7"/>
<circle cx="256.1" cy="228.2" r="2" stroke="#0000ff"/>
<path d="M230.3 227.9l3 3m0 -3l-3 3" stroke="#0000ff" stroke-width=".7"/>
<circle cx="285.8" cy="209.0" r="2" stroke="#ffff00"/>
<path d="M258.0 223.5l2 2.4l-2 2.4l-2 -2.4z" stroke="#0000ff"/>
<circle cx="259.8" cy="226.0" r="2" stroke="#0000ff"/>
<path d="M244.8 224.7l3 3m0 -3l-3 3" stroke="#0000ff" stroke-width=".7"/>
<circle cx="413.5" cy="112.4" r="2" stroke="#ff0000"/>
<circle cx="236.0" cy="230.6" r="2" stroke="#ffff00"/>
<path d="M361.8 169.7l3 3m0 -3l-3 3" stroke="#ff0000" stroke-width=".7"/>
<circle cx="392.7" cy="162.3" r="2" stroke="#ff0000"/>
<circle cx="286.2" cy="209.0" r="2" stroke="#ffff00"/>
<circle cx="291.0" cy="208.8" r="2" stroke="#000000"/>
<circle cx="347.1" cy="132.8" r="2" stroke="#00ff00"/>
<circle cx="344.8" cy="157.7" r="2" stroke="#00ff00"/>
<path d="M351.0 127.6l3 3m0 -3l-3 3" stroke="#00ff00" stroke-width=".7"/>
<path d="M374.4 131.0l3 3m0 -3l-3 3" stroke="#00ff00" stroke-width=".7"/>
<path d="M303.3 189.8l3 3m0 -3l-3 3" stroke="#000000" stroke-width=".7"/>
<circle cx="249.3" cy="232.4" r="2" stroke="#0000ff"/>
<circle cx="270.1" cy="218.0" r="2" stroke="#ffff00"/>
<path d="M349.8 123.7l3 3m0 -3l-3 3" stroke="#00ff00" stroke-width=".7"/>
<circle cx="413.5" cy="79.6" r="2" stroke="#0000ff"/>
<path d="M397.4 130.4l3 3m0 -3l-3 3" stroke="#00ff00" stroke-width=".7"/>
<circle cx="397.6" cy="139.7" r="2" stroke="#00ff00"/>
<path d="M253.4 223.9l2 2.4l-2 2.4l-2 -2.4z" stroke="#ff0000"/>
<circle cx="377.6" cy="171.1" r="2" stroke="#ff0000"/>
<path d="M356.6 144.8l3 3m0 -3l-3 3" stroke="#00ff00" stroke-width=".7"/>
<path d="M259.7 226.9l3 3m0 -3l-3 3" stroke="#0000ff" stroke-width=".7"/>
<path d="M278.5 204.5l3 3m0 -3l-3 3" stroke="#000000" stroke-width=".7"/>
<circle cx="270.4" cy="210.6" r="2" stroke="#ffff00"/>
<path d="M307.7 173.4l3 3m0 -3l-3 3" stroke="#000000" stroke-width=".7"/>
<circle cx="281.6" cy="205.5" r="2" stroke="#000000"/>
<path d="M240.2 227.9l3 3m0 -3l-3 3" stroke="#0000ff" stroke-width=".7"/>
<circle cx="272.4" cy="224.3" r="2" stroke="#0000ff"/>
<circle cx="260.1" cy="229.4" r="2" stroke="#0000ff"/>
<path d="M248.9 227.4l2 2.4l-2 2.4l-2 -2.4z" stroke="#0000ff"/>
<circle cx="339.1" cy="189.1" r="2" stroke="#0000ff"/>
<path d="M322.4 165.8l2 2.4l-2 2.4l-2 -2.4z" stroke="#000000"/>
<circle cx="361.8" cy="168.4" r="2" stroke="#ff0000"/>
<circle cx="261.9" cy="229.2" r="2" stroke="#ff0000"/>
<path d="M381.1 173.7l3 3m0 -3l-3 3" stroke="#000000" stroke-width=".7"/>
<circle cx="366.5" cy="175.1" r="2" stroke="#ff0000"/>
<path d="M255.7 226.6l2 2.4l-2 2.4l-2 -2.4z" stroke="#0000ff"/>
<circle cx="298.5" cy="192.7" r="2" stroke="#ffff00"/>
<circle cx="376.7" cy="131.7" r="2" stroke="#00ff00"/>
<path d="M397.5 104.5l3 3m0 -3l-3 3" stroke="#00ff00" stroke-width=".7"/>
<path d="M346.3 176.0l3 3m0 -3l-3 3" stroke="#00ff00" stroke-width=".7"/>
<circle cx="242.0" cy="227.1" r="2" stroke="#0000ff"/>
<path d="M340.9 159.5l3 3m0 -3l-3 3" stroke="#00ff00" stroke-width=".7"/>
<path d="M298.8 210.2l3 3m0 -3l-3 3" stroke="#ffff00" stroke-width=".7"/>
<circle cx="304.0" cy="204.0" r="2" stroke="#000000"/>
<circle cx="304.5" cy="192.7" r="2" stroke="#ffff00"/>
<circle cx="315.1" cy="186.5" r="2" stroke="#ffff00"/>
<path d="M379.5 162.9l3 3m0 -3l-3 3" stroke="#ff0000" stroke-width=".7"/>
<circle cx="280.2" cy="204.3" r="2" stroke="#000000"/>
<circle cx="355.4" cy="194.9" r="2" stroke="#ffff00"/>
<path d="M317.2 194.8l2 2.4l-2 2.4l-2 -2.4z" stroke="#000000"/>
<path d="M296.0 196.6l2 2.4l-2 2.4l-2 -2.4z" stroke="#ff0000"/>
<path d="M261.5 218.7l2 2.4l-2 2.4l-2 -2.4z" stroke="#ffff00"/>
<circle cx="307.1" cy="183.1" r="2" stroke="#000000"/>
<circle cx="307.9" cy="176.1" r="2" stroke="#ff0000"/>
<path d="M346.0 138.8l3 3m0 -3l-3 3" stroke="#00ff00" stroke-width=".7"/>
<circle cx="303.9" cy="195.1" r="2" stroke="#ff0000"/>
<circle cx="238.5" cy="234.5" r="2" stroke="#ffff00"/>
<circle cx="358.0" cy="170.3" r="2" stroke="#000000"/>
<path d="M332.1 146.5l3 3m0 -3l-3 3" stroke="#00ff00" stroke-width=".7"/>
<circle cx="228.5" cy="229.3" r="2" stroke="#ffff00"/>
<path d="M252.1 226.3l2 2.4l-2 2.4l-2 -2.4z" stroke="#000000"/>
<path d="M332.3 162.4l3 3m0 -3l-3 3" stroke="#ffff00" stroke-width=".7"/>
<circle cx="247.7" cy="231.8" r="2" stroke="#0000ff"/>
<circle cx="377.7" cy="150.1" r="2" stroke="#00ff00"/>
<circle cx="293.7" cy="208.5" r="2" stroke="#ff0000"/>
<circle cx="318.9" cy="172.4" r="2" stroke="#ffff00"/>
<circle cx="273.7" cy="223.3" r="2" stroke="#ff0000"/>
<circle cx="292.3" cy="196.0" r="2" stroke="#ff0000"/>
<circle cx="239.0" cy="228.1" r="2" stroke="#ffff00"/>
<path d="M268.9 219.9l3 3m0 -3l-3 3" stroke="#000000" stroke-width=".7"/>
<path d="M234.8 229.1l3 3m0 -3l-3 3" stroke="#ffff00" stroke-width=".7"/>
<path d="M274.7 215.0l2 2.4l-2 2.4l-2 -2.4z" stroke="#ffff00"/>
<circle cx="349.9" cy="127.9" r="2" stroke="#00ff00"/>
<path d="M316.2 191.0l3 3m0 -3l-3 3" stroke="#00ff00" stroke-width=".7"/>
<path d="M320.0 199.2l2 2.4l-2 2.4l-2 -2.4z" stroke="#000000"/>
<circle cx="271.1" cy="213.3" r="2" stroke="#ff0000"/>
<circle cx="230.6" cy="229.0" r="2" stroke="#ffff00"/>
<path d="M413.9 118.1l3 3m0 -3l-3 3" stroke="#00ff00" stroke-width=".7"/>
<path d="M335.0 193.1l3 3m0 -3l-3 3" stroke="#ffff00" stroke-width=".7"/>
<path d="M365.9 176.5l2 2.4l-2 2.4l-2 -2.4z" stroke="#ffff00"/>
<path d="M246.2 229.9l3 3m0 -3l-3 3" stroke="#0000ff" stroke-width=".7"/>
<circle cx="385.9" cy="138.2" r="2" stroke="#000000"/>
<circle cx="303.2" cy="199.5" r="2" stroke="#ff0000"/>
<path d="M348.1 132.6l3 3m0 -3l-3 3" stroke="#00ff00" stroke-width=".7"/>
<path d="M369.6 165.1l3 3m0 -3l-3 3" stroke="#00ff00" stroke-width=".7"/>
<circle cx="302.5" cy="209.8" r="2" stroke="#ff0000"/>
<path d="M340.8 201.2l2 2.4l-2 2.4l-2 -2.4z" stroke="#ff0000"/>
<path d="M357.1 132.6l3 3m0 -3l-3 3" stroke="#00ff00" stroke-width=".7"/>
<circle cx="260.1" cy="229.5" r="2" stroke="#0000ff"/>
<path d="M345.7 140.9l3 3m0 -3l-3 3" stroke="#00ff00" stroke-width=".7"/>
<path d="M315.2 185.5l2 2.4l-2 2.4l-2 -2.4z" stroke="#000000"/>
<circle cx="244.1" cy="232.3" r="2" stroke="#0000ff"/>
<path d="M376.2 121.8l3 3m0 -3l-3 3" stroke="#00ff00" stroke-width=".7"/>
<path d="M279.2 208.6l3 3m0 -3l-3 3" stroke="#ffff00" stroke-width=".7"/>
<path d="M320.3 207.6l2 2.4l-2 2.4l-2 -2.4z" stroke="#0000ff"/>
<circle cx="306.4" cy="201.9" r="2" stroke="#ff0000"/>
<path d="M376.5 131.7l3 3m0 -3l-3 3" stroke="#00ff00" stroke-width=".7"/>
<path d="M349.5 169.0l3 3m0 -3l-3 3" stroke="#00ff00" stroke-width=".7"/>
<circle cx="261.3" cy="221.6" r="2" stroke="#000000"/>
<circle cx="392.0" cy="171.2" r="2" stroke="#ff0000"/>
<circle cx="249.9" cy="232.2" r="2" stroke="#0000ff"/>
<circle cx="387.2" cy="119.9" r="2" stroke="#ff0000"/>
<path d="M345.4 178.9l3 3m0 -3l-3 3" stroke="#ffff00" stroke-width=".7"/>
<circle cx="365.9" cy="133.9" r="2" stroke="#00ff00"/>
<path d="M348.1 177.8l2 2.4l-2 2.4l-2 -2.4z" stroke="#000000"/>
<path d="M403.6 100.4l3 3m0 -3l-3 3" stroke="#00ff00" stroke-width=".7"/>
<path d="M338.1 153.4l3 3m0 -3l-3 3" stroke="#00ff00" stroke-width=".7"/>
<path d="M360.0 140.8l3 3m0 -3l-3 3" stroke="#00ff00" stroke-width=".7"/>
<circle cx="257.0" cy="226.8" r="2" stroke="#ffff00"/>
<path d="M278.6 219.8l2 2.4l-2 2.4l-2 -2.4z" stroke="#0000ff"/>
<path d="M281.7 212.6l2 2.4l-2 2.4l-2 -2.4z" stroke="#ffff00"/>
<circle cx="257.9" cy="228.7" r="2" stroke="#0000ff"/>
<path d="M355.4 153.1l3 3m0 -3l-3 3" stroke="#00ff00" stroke-width=".7"/>
<path d="M236.9 231.2l3 3m0 -3l-3 3" stroke="#0000ff" stroke-width=".7"/>
<path d="M362.5 165.1l3 3m0 -3l-3 3" stroke="#00ff00" stroke-width=".7"/>
<circle cx="341.5" cy="153.4" r="2" stroke="#00ff00"/>
<circle cx="348.3" cy="144.5" r="2" stroke="#00ff00"/>
<path d="M343.8 160.2l3 3m0 -3l-3 3" stroke="#00ff00" stroke-width=".7"/>
<path d="M289.4 196.9l2 2.4l-2 2.4l-2 -2.4z" stroke="#ff0000"/>
<circle cx="248.8" cy="230.1" r="2" stroke="#0000ff"/>
<circle cx="331.0" cy="170.2" r="2" stroke="#00ff00"/>
<circle cx="338.1" cy="185.3" r="2" stroke="#ff0000"/>
<circle cx="261.3" cy="220.4" r="2" stroke="#000000"/>
<circle cx="311.9" cy="184.7" r="2" stroke="#ffff00"/>
<path d="M369.1 119.8l3 3m0 -3l-3 3" stroke="#00ff00" stroke-width=".7"/>
<path d="M297.0 204.0l2 2.4l-2 2.4l-2 -2.4z" stroke="#000000"/>
<circle cx="251.4" cy="228.8" r="2" stroke="#0000ff"/>
<circle cx="264.4" cy="219.3" r="2" stroke="#ff0000"/>
<path d="M299.9 201.9l3 3m0 -3l-3 3" stroke="#00ff00" stroke-width=".7"/>
<path d="M293.7 209.2l3 3m0 -3l-3 3" stroke="#ffff00" stroke-width=".7"/>
<circle cx="241.8" cy="227.1" r="2" stroke="#0000ff"/>
<circle cx="284.9" cy="200.8" r="2" stroke="#ff0000"/>
<path d="M355.3 147.2l3 3m0 -3l-3 3" stroke="#00ff00" stroke-width=".7"/>
<path d="M321.4 173.9l3 3m0 -3l-3 3" stroke="#00ff00" stroke-width=".7"/>
<circle cx="308.3" cy="207.3" r="2" stroke="#ffff00"/>
<circle cx="340.5" cy="202.1" r="2" stroke="#ffff00"/>
<circle cx="250.5" cy="232.5" r="2" stroke="#0000ff"/>
<path d="M300.0 202.8l2 2.4l-2 2.4l-2 -2.4z" stroke="#ff0000"/>
<circle cx="252.6" cy="230.6" r="2" stroke="#0000ff"/>
<circle cx="333.8" cy="205.7" r="2" stroke="#000000"/>
<path d="M252.8 222.8l2 2.4l-2 2.4l-2 -2.4z" stroke="#ff0000"/>
<circle cx="313.4" cy="171.8" r="2" stroke="#ffff00"/>
<path d="M399.6 151.5l3 3m0 -3l-3 3" stroke="#000000" stroke-width=".7"/>
<circle cx="285.6" cy="214.7" r="2" stroke="#000000"/>
<circle cx="344.2" cy="139.2" r="2" stroke="#ff0000"/>
<path d="M242.5 227.6l3 3m0 -3l-3 3" stroke="#0000ff" stroke-width=".7"/>
<circle cx="293.5" cy="214.7" r="2" stroke="#ff0000"/>
<path d="M373.0 136.2l3 3m0 -3l-3 3" stroke="#00ff00" stroke-width=".7"/>
<path d="M230.5 230.8l3 3m0 -3l-3 3" stroke="#ffff00" stroke-width=".7"/>
<circle cx="266.1" cy="217.3" r="2" stroke="#ff0000"/>
<circle cx="257.7" cy="223.1" r="2" stroke="#ffff00"/>
<circle cx="319.2" cy="181.1" r="2" stroke="#ff0000"/>
<circle cx="329.3" cy="151.9" r="2" stroke="#00ff00"/>
<circle cx="314.6" cy="196.4" r="2" stroke="#ff0000"/>
<circle cx="259.3" cy="223.0" r="2" stroke="#ff0000"/>
<circle cx="294.8" cy="192.5" r="2" stroke="#ffff00"/>
<circle cx="352.5" cy="168.4" r="2" stroke="#00ff00"/>
<circle cx="396.7" cy="169.2" r="2" stroke="#ffff00"/>
<circle cx="370.8" cy="178.8" r="2" stroke="#000000"/>
<circle cx="244.2" cy="229.1" r="2" stroke="#ff0000"/>
<circle cx="245.0" cy="229.8" r="2" stroke="#0000ff"/>
<path d="M243.9 231.1l3 3m0 -3l-3 3" stroke="#0000ff" stroke-width=".7"/>
<path d="M256.8 226.2l3 3m0 -3l-3 3" stroke="#ff0000" stroke-width=".7"/>
<circle cx="291.9" cy="209.6" r="2" stroke="#ffff00"/>
<circle cx="242.1" cy="227.6" r="2" stroke="#000000"/>
<path d="M293.5 205.8l2 2.4l-2 2.4l-2 -2.4z" stroke="#ffff00"/>
<path d="M372.3 173.6l3 3m0 -3l-3 3" stroke="#ffff00" stroke-width=".7"/>
<path d="M368.7 129.7l3 3m0 -3l-3 3" stroke="#00ff00" stroke-width=".7"/>
<path d="M228.3 230.2l3 3m0 -3l-3 3" stroke="#ffff00" stroke-width=".7"/>
<circle cx="241.8" cy="226.7" r="2" stroke="#0000ff"/>
<circle cx="255.9" cy="223.1" r="2" stroke="#ff0000"/>
<path d="M343.3 162.4l3 3m0 -3l-3 3" stroke="#000000" stroke-width=".7"/>
<path d="M379.0 162.8l2 2.4l-2 2.4l-2 -2.4z" stroke="#ffff00"/>
<path d="M335.8 166.5l3 3m0 -3l-3 3" stroke="#00ff00" stroke-width=".7"/>
<circle cx="313.1" cy="167.8" r="2" stroke="#ff0000"/>
<circle cx="263.1" cy="221.2" r="2" stroke="#ffff00"/>
<circle cx="290.0" cy="204.3" r="2" stroke="#ff0000"/>
<circle cx="357.5" cy="177.4" r="2" stroke="#000000"/>
<path d="M341.8 151.2l3 3m0 -3l-3 3" stroke="#00ff00" stroke-width=".7"/>
<path d="M272.3 217.3l2 2.4l-2 2.4l-2 -2.4z" stroke="#ffff00"/>
<circle cx="344.8" cy="173.0" r="2" stroke="#000000"/>
<circle cx="294.2" cy="223.0" r="2" stroke="#0000ff"/>
<path d="M395.2 110.4l3 3m0 -3l-3 3" stroke="#00ff00" stroke-width=".7"/>
<path d="M332.4 153.6l3 3m0 -3l-3 3" stroke="#ffff00" stroke-width=".7"/>
<path d="M269.5 214.6l3 3m0 -3l-3 3" stroke="#00ff00" stroke-width=".7"/>
<path d="M266.5 226.2l2 2.4l-2 2.4l-2 -2.4z" stroke="#0000ff"/>
<circle cx="393.8" cy="104.0" r="2" stroke="#00ff00"/>
<circle cx="238.0" cy="232.6" r="2" stroke="#ffff00"/>
<circle cx="238.1" cy="231.1" r="2" stroke="#ffff00"/>
<circle cx="463.0" cy="108.0" r="2" stroke="#00ff00"/>
<circle cx="262.0" cy="218.1" r="2" stroke="#ff0000"/>
<path d="M385.4 119.3l3 3m0 -3l-3 3" stroke="#00ff00" stroke-width=".7"/>
<circle cx="460.0" cy="117.4" r="2" stroke="#00ff00"/>
<circle cx="368.0" cy="142.0" r="2" stroke="#00ff00"/>
<circle cx="310.4" cy="211.8" r="2" stroke="#ffff00"/>
<path d="M389.5 116.7l3 3m0 -3l-3 3" stroke="#000000" stroke-width=".7"/>
<path d="M267.3 219.0l3 3m0 -3l-3 3" stroke="#ff0000" stroke-width=".7"/>
<circle cx="379.1" cy="181.5" r="2" stroke="#ff0000"/>
<circle cx="290.5" cy="219.4" r="2" stroke="#0000ff"/>
<path d="M375.9 151.6l3 3m0 -3l-3 3" stroke="#00ff00" stroke-width=".7"/>
<path d="M270.5 213.7l3 3m0 -3l-3 3" stroke="#ffff00" stroke-width=".7"/>
<circle cx="310.8" cy="175.6" r="2" stroke="#000000"/>
<path d="M387.8 139.0l3 3m0 -3l-3 3" stroke="#00ff00" stroke-width=".7"/>
<path d="M247.0 231.2l2 2.4l-2 2.4l-2 -2.4z" stroke="#0000ff"/>
<path d="M250.3 228.2l3 3m0 -3l-3 3" stroke="#0000ff" stroke-width=".7"/>
<circle cx="268.7" cy="223.0" r="2" stroke="#ffff00"/>
<path d="M435.5 102.5l3 3m0 -3l-3 3" stroke="#00ff00" stroke-width=".7"/>
<path d="M352.6 122.0l3 3m0 -3l-3 3" stroke="#00ff00" stroke-width=".7"/>
<circle cx="394.5" cy="146.8" r="2" stroke="#ffff00"/>
<circle cx="356.5" cy="176.1" r="2" stroke="#ff0000"/>
<circle cx="389.1" cy="108.4" r="2" stroke="#00ff00"/>
<path d="M283.1 202.0l3 3m0 -3l-3 3" stroke="#ff0000" stroke-width=".7"/>
<path d="M352.7 130.6l3 3m0 -3l-3 3" stroke="#00ff00" stroke-width=".7"/>
<circle cx="417.3" cy="120.6" r="2" stroke="#000000"/>
<path d="M381.8 153.9l3 3m0 -3l-3 3" stroke="#00ff00" stroke-width=".7"/>
<circle cx="302.4" cy="196.3" r="2" stroke="#ff0000"/>
<path d="M325.7 197.1l3 3m0 -3l-3 3" stroke="#00ff00" stroke-width=".7"/>
<path d="M265.3 225.8l3 3m0 -3l-3 3" stroke="#0000ff" stroke-width=".7"/>
<path d="M394.8 151.8l3 3m0 -3l-3 3" stroke="#ff0000" stroke-width=".7"/>
<circle cx="230.0" cy="231.2" r="2" stroke="#ffff00"/>
<circle cx="340.1" cy="192.7" r="2" stroke="#000000"/>
<path d="M294.5 187.6l2 2.4l-2 2.4l-2 -2.4z" stroke="#ff0000"/>
<circle cx="257.2" cy="225.3" r="2" stroke="#ff0000"/>
<path d="M268.7 213.7l3 3m0 -3l-3 3" stroke="#ffff00" stroke-width=".7"/>
<path d="M270.5 212.5l3 3m0 -3l-3 3" stroke="#ffff00" stroke-width=".7"/>
<circle cx="322.9" cy="186.9" r="2" stroke="#ffff00"/>
<path d="M321.1 198.4l2 2.4l-2 2.4l-2 -2.4z" stroke="#ff0000"/>
<circle cx="291.0" cy="219.6" r="2" stroke="#0000ff"/>
<circle cx="410.5" cy="78.2" r="2" stroke="#0000ff"/>
<circle cx="228.8" cy="230.2" r="2" stroke="#ffff00"/>
<circle cx="371.1" cy="116.3" r="2" stroke="#000000"/>
<circle cx="261.5" cy="223.3" r="2" stroke="#0000ff"/>
<path d="M238.9 230.9l3 3m0 -3l-3 3" stroke="#ffff00" stroke-width=".7"/>
<circle cx="234.3" cy="229.0" r="2" stroke="#ffff00"/>
<circle cx="276.5" cy="224.1" r="2" stroke="#0000ff"/>
<circle cx="330.0" cy="195.8" r="2" stroke="#ffff00"/>
<path d="M315.7 188.8l3 3m0 -3l-3 3" stroke="#00ff00" stroke-width=".7"/>
<circle cx="378.4" cy="144.2" r="2" stroke="#00ff00"/>
<path d="M326.6 155.6l3 3m0 -3l-3 3" stroke="#00ff00" stroke-width=".7"/>
<path d="M319.0 171.9l2 2.4l-2 2.4l-2 -2.4z" stroke="#000000"/>
<path d="M286.6 199.9l2 2.4l-2 2.4l-2 -2.4z" stroke="#ffff00"/>
<circle cx="332.9" cy="147.8" r="2" stroke="#00ff00"/>
<circle cx="300.9" cy="181.9" r="2" stroke="#ffff00"/>
<path d="M363.8 156.4l3 3m0 -3l-3 3" stroke="#00ff00" stroke-width=".7"/>
<path d="M362.8 180.3l3 3m0 -3l-3 3" stroke="#000000" stroke-width=".7"/>
<circle cx="320.3" cy="165.1" r="2" stroke="#00ff00"/>
<circle cx="374.2" cy="131.8" r="2" stroke="#00ff00"/>
<circle cx="320.1" cy="172.6" r="2" stroke="#00ff00"/>
<circle cx="254.0" cy="230.3" r="2" stroke="#0000ff"/>
<circle cx="312.6" cy="204.7" r="2" stroke="#000000"/>
<path d="M318.9 198.0l2 2.4l-2 2.4l-2 -2.4z" stroke="#ffff00"/>
<path d="M354.7 123.5l3 3m0 -3l-3 3" stroke="#00ff00" stroke-width=".7"/>
<circle cx="297.3" cy="210.5" r="2" stroke="#ff0000"/>
<circle cx="354.5" cy="183.4" r="2" stroke="#ff0000"/>
<circle cx="279.1" cy="220.3" r="2" stroke="#0000ff"/>
<path d="M360.5 163.0l2 2.4l-2 2.4l-2 -2.4z" stroke="#000000"/>
<circle cx="323.7" cy="165.8" r="2" stroke="#00ff00"/>
<circle cx="236.7" cy="231.9" r="2" stroke="#ffff00"/>
<path d="M359.2 156.5l3 3m0 -3l-3 3" stroke="#00ff00" stroke-width=".7"/>
<path d="M237.5 229.8l3 3m0 -3l-3 3" stroke="#ffff00" stroke-width=".7"/>
<circle cx="377.8" cy="166.1" r="2" stroke="#000000"/>
<path d="M260.3 221.6l3 3m0 -3l-3 3" stroke="#0000ff" stroke-width=".7"/>
<path d="M345.5 169.0l2 2.4l-2 2.4l-2 -2.4z" stroke="#0000ff"/>
<path d="M258.9 223.3l2 2.4l-2 2.4l-2 -2.4z" stroke="#0000ff"/>
<circle cx="248.5" cy="229.2" r="2" stroke="#0000ff"/>
<circle cx="442.6" cy="126.8" r="2" stroke="#00ff00"/>
<path d="M336.2 165.2l3 3m0 -3l-3 3" stroke="#00ff00" stroke-width=".7"/>
<path d="M296.3 186.5l3 3m0 -3l-3 3" stroke="#ff0000" stroke-width=".7"/>
<path d="M393.7 119.1l3 3m0 -3l-3 3" stroke="#00ff00" stroke-width=".7"/>
<circle cx="277.4" cy="223.0" r="2" stroke="#0000ff"/>
<circle cx="304.9" cy="186.1" r="2" stroke="#000000"/>
<path d="M354.0 131.7l3 3m0 -3l-3 3" stroke="#00ff00" stroke-width=".7"/>
<circle cx="319.8" cy="168.2" r="2" stroke="#00ff00"/>
<path d="M255.9 223.9l2 2.4l-2 2.4l-2 -2.4z" stroke="#0000ff"/>
<circle cx="255.1" cy="226.8" r="2" stroke="#ff0000"/>
<circle cx="341.0" cy="162.1" r="2" stroke="#00ff00"/>
<circle cx="253.7" cy="227.0" r="2" stroke="#ff0000"/>
<path d="M308.5 201.9l2 2.4l-2 2.4l-2 -2.4z" stroke="#ffff00"/>
<circle cx="243.3" cy="229.5" r="2" stroke="#0000ff"/>
<path d="M206.9 71.3l3 3m0 -3l-3 3" stroke="#00ff00" stroke-width=".7"/>
<path d="M227.5 231.5l3 3m0 -3l-3 3" stroke="#ffff00" stroke-width=".7"/>
<path d="M378.7 151.3l3 3m0 -3l-3 3" stroke="#00ff00" stroke-width=".7"/>
<circle cx="279.5" cy="212.7" r="2" stroke="#ff0000"/>
<circle cx="301.0" cy="210.6" r="2" stroke="#000000"/>
<circle cx="366.1" cy="147.7" r="2" stroke="#00ff00"/>
<path d="M378.2 116.7l3 3m0 -3l-3 3" stroke="#00ff00" stroke-width=".7"/>
<circle cx="273.7" cy="220.8" r="2" stroke="#0000ff"/>
<circle cx="296.2" cy="201.7" r="2" stroke="#ffff00"/>
<path d="M262.1 215.4l3 3m0 -3l-3 3" stroke="#000000" stroke-width=".7"/>
<circle cx="324.0" cy="163.5" r="2" stroke="#00ff00"/>
<path d="M339.3 150.9l3 3m0 -3l-3 3" stroke="#00ff00" stroke-width=".7"/>
<path d="M354.4 143.4l3 3m0 -3l-3 3" stroke="#00ff00" stroke-width=".7"/>
<circle cx="289.7" cy="197.9" r="2" stroke="#ff0000"/>
<path d="M301.4 213.8l3 3m0 -3l-3 3" stroke="#ffff00" stroke-width=".7"/>
<circle cx="351.6" cy="180.0" r="2" stroke="#ffff00"/>
<circle cx="394.7" cy="149.9" r="2" stroke="#ffff00"/>
<path d="M381.3 166.2l3 3m0 -3l-3 3" stroke="#ff0000" stroke-width=".7"/>
<path d="M359.2 163.1l2 2.4l-2 2.4l-2 -2.4z" stroke="#ffff00"/>
<path d="M308.1 214.6l3 3m0 -3l-3 3" stroke="#0000ff" stroke-width=".7"/>
<circle cx="262.7" cy="225.7" r="2" stroke="#ffff00"/>
<path d="M322.3 173.4l3 3m0 -3l-3 3" stroke="#00ff00" stroke-width=".7"/>
<circle cx="391.7" cy="128.3" r="2" stroke="#00ff00"/>
<circle cx="266.3" cy="217.9" r="2" stroke="#000000"/>
<circle cx="297.1" cy="217.6" r="2" stroke="#0000ff"/>
<path d="M326.2 173.9l2 2.4l-2 2.4l-2 -2.4z" stroke="#000000"/>
<circle cx="230.1" cy="229.3" r="2" stroke="#ffff00"/>
<circle cx="332.9" cy="159.4" r="2" stroke="#00ff00"/>
<circle cx="415.2" cy="125.6" r="2" stroke="#00ff00"/>
<circle cx="393.9" cy="121.6" r="2" stroke="#00ff00"/>
<circle cx="367.3" cy="155.8" r="2" stroke="#00ff00"/>
<circle cx="388.0" cy="139.9" r="2" stroke="#00ff00"/>
<path d="M399.0 113.8l3 3m0 -3l-3 3" stroke="#00ff00" stroke-width=".7"/>
<circle cx="239.1" cy="229.4" r="2" stroke="#0000ff"/>
<circle cx="243.2" cy="231.3" r="2" stroke="#000000"/>
<circle cx="250.0" cy="230.3" r="2" stroke="#ff0000"/>
<circle cx="337.5" cy="173.0" r="2" stroke="#00ff00"/>
<circle cx="301.7" cy="208.8" r="2" stroke="#00ff00"/>
<circle cx="265.4" cy="222.8" r="2" stroke="#ffff00"/>
<circle cx="280.6" cy="218.3" r="2" stroke="#0000ff"/>
<path d="M365.2 153.0l3 3m0 -3l-3 3" stroke="#00ff00" stroke-width=".7"/>
<circle cx="242.1" cy="230.6" r="2" stroke="#0000ff"/>
<path d="M394.3 154.8l2 2.4l-2 2.4l-2 -2.4z" stroke="#ffff00"/>
<circle cx="298.7" cy="202.5" r="2" stroke="#0000ff"/>
<circle cx="394.7" cy="163.1" r="2" stroke="#000000"/>
<path d="M302.7 186.7l3 3m0 -3l-3 3" stroke="#ff0000" stroke-width=".7"/>
<path d="M344.1 192.6l3 3m0 -3l-3 3" stroke="#00ff00" stroke-width=".7"/>
<circle cx="236.5" cy="229.1" r="2" stroke="#ffff00"/>
<circle cx="381.4" cy="155.2" r="2" stroke="#ff0000"/>
<path d="M239.2 225.3l2 2.4l-2 2.4l-2 -2.4z" stroke="#0000ff"/>
<path d="M298.9 200.8l3 3m0 -3l-3 3" stroke="#000000" stroke-width=".7"/>
<path d="M275.8 224.9l3 3m0 -3l-3 3" stroke="#0000ff" stroke-width=".7"/>
<circle cx="244.0" cy="226.1" r="2" stroke="#0000ff"/>
<circle cx="332.2" cy="194.2" r="2" stroke="#000000"/>
<circle cx="275.5" cy="207.8" r="2" stroke="#000000"/>
<circle cx="349.1" cy="178.6" r="2" stroke="#ff0000"/>
<path d="M335.1 188.4l2 2.4l-2 2.4l-2 -2.4z" stroke="#0000ff"/>
<circle cx="289.5" cy="214.1" r="2" stroke="#ffff00"/>
<circle cx="315.0" cy="186.8" r="2" stroke="#ffff00"/>
<path d="M380.3 145.0l3 3m0 -3l-3 3" stroke="#00ff00" stroke-width=".7"/>
<path d="M384.4 140.1l3 3m0 -3l-3 3" stroke="#00ff00" stroke-width=".7"/>
<path d="M394.9 106.7l3 3m0 -3l-3 3" stroke="#00ff00" stroke-width=".7"/>
<path d="M311.4 195.2l2 2.4l-2 2.4l-2 -2.4z" stroke="#000000"/>
<path d="M290.1 200.6l2 2.4l-2 2.4l-2 -2.4z" stroke="#ffff00"/>
<path d="M310.6 172.3l3 3m0 -3l-3 3" stroke="#ff0000" stroke-width=".7"/>
<path d="M359.4 173.3l2 2.4l-2 2.4l-2 -2.4z" stroke="#ff0000"/>
<circle cx="290.9" cy="198.3" r="2" stroke="#ff0000"/>
<circle cx="258.9" cy="226.1" r="2" stroke="#0000ff"/>
<circle cx="374.9" cy="174.6" r="2" stroke="#000000"/>
<path d="M334.3 150.5l3 3m0 -3l-3 3" stroke="#00ff00" stroke-width=".7"/>
<path d="M250.4 224.8l3 3m0 -3l-3 3" stroke="#000000" stroke-width=".7"/>
<path d="M283.4 217.9l3 3m0 -3l-3 3" stroke="#ffff00" stroke-width=".7"/>
<path d="M372.9 157.6l3 3m0 -3l-3 3" stroke="#00ff00" stroke-width=".7"/>
<path d="M315.1 200.7l2 2.4l-2 2.4l-2 -2.4z" stroke="#ff0000"/>
<path d="M396.7 117.4l3 3m0 -3l-3 3" stroke="#00ff00" stroke-width=".7"/>
<path d="M359.8 189.7l2 2.4l-2 2.4l-2 -2.4z" stroke="#ff0000"/>
<path d="M355.4 144.2l3 3m0 -3l-3 3" stroke="#00ff00" stroke-width=".7"/>
<circle cx="363.2" cy="182.0" r="2" stroke="#ffff00"/>
<path d="M307.7 203.9l2 2.4l-2 2.4l-2 -2.4z" stroke="#ffff00"/>
<circle cx="297.4" cy="185.2" r="2" stroke="#ffff00"/>
<path d="M315.9 170.5l3 3m0 -3l-3 3" stroke="#00ff00" stroke-width=".7"/>
<circle cx="231.7" cy="231.8" r="2" stroke="#0000ff"/>
<path d="M297.6 199.9l2 2.4l-2 2.4l-2 -2.4z" stroke="#ffff00"/>
<circle cx="306.3" cy="199.7" r="2" stroke="#000000"/>
<circle cx="369.2" cy="139.1" r="2" stroke="#00ff00"/>
<path d="M295.2 194.3l2 2.4l-2 2.4l-2 -2.4z" stroke="#ffff00"/>
<path d="M297.1 184.7l3 3m0 -3l-3 3" stroke="#ffff00" stroke-width=".7"/>
<path d="M341.8 177.5l3 3m0 -3l-3 3" stroke="#00ff00" stroke-width=".7"/>
<path d="M379.4 179.5l3 3m0 -3l-3 3" stroke="#000000" stroke-width=".7"/>
<circle cx="332.3" cy="199.6" r="2" stroke="#000000"/>
<circle cx="248.2" cy="226.6" r="2" stroke="#0000ff"/>
<circle cx="319.0" cy="199.9" r="2" stroke="#ff0000"/>
<path d="M358.7 129.7l3 3m0 -3l-3 3" stroke="#00ff00" stroke-width=".7"/>
<path d="M300.1 209.7l3 3m0 -3l-3 3" stroke="#000000" stroke-width=".7"/>
<circle cx="389.6" cy="119.4" r="2" stroke="#00ff00"/>
<path d="M232.8 228.0l2 2.4l-2 2.4l-2 -2.4z" stroke="#ffff00"/>
<circle cx="259.3" cy="226.3" r="2" stroke="#ff0000"/>
<circle cx="301.3" cy="194.8" r="2" stroke="#ffff00"/>
<circle cx="304.7" cy="199.2" r="2" stroke="#ff0000"/>
<path d="M317.6 176.1l2 2.4l-2 2.4l-2 -2.4z" stroke="#000000"/>
<path d="M300.6 187.5l2 2.4l-2 2.4l-2 -2.4z" stroke="#ffff00"/>
<path d="M341.4 144.5l3 3m0 -3l-3 3" stroke="#00ff00" stroke-width=".7"/>
<path d="M358.8 120.2l3 3m0 -3l-3 3" stroke="#00ff00" stroke-width=".7"/>
<circle cx="351.7" cy="191.6" r="2" stroke="#0000ff"/>
<circle cx="420.0" cy="115.0" r="2" stroke="#00ff00"/>
<circle cx="383.8" cy="156.1" r="2" stroke="#ffff00"/>
<path d="M368.3 144.3l3 3m0 -3l-3 3" stroke="#00ff00" stroke-width=".7"/>
<circle cx="246.9" cy="232.4" r="2" stroke="#0000ff"/>
<circle cx="301.1" cy="200.1" r="2" stroke="#ff0000"/>
<circle cx="328.2" cy="193.7" r="2" stroke="#ff0000"/>
<circle cx="307.5" cy="211.0" r="2" stroke="#000000"/>
<circle cx="327.8" cy="153.5" r="2" stroke="#000000"/>
<path d="M374.9 135.0l3 3m0 -3l-3 3" stroke="#00ff00" stroke-width=".7"/>
<path d="M347.5 144.4l3 3m0 -3l-3 3" stroke="#00ff00" stroke-width=".7"/>
<circle cx="348.5" cy="178.5" r="2" stroke="#000000"/>
<path d="M340.6 139.7l3 3m0 -3l-3 3" stroke="#00ff00" stroke-width=".7"/>
<circle cx="228.9" cy="230.4" r="2" stroke="#0000ff"/>
<circle cx="303.5" cy="193.4" r="2" stroke="#ff0000"/>
<path d="M248.5 227.9l3 3m0 -3l-3 3" stroke="#0000ff" stroke-width=".7"/>
<circle cx="363.4" cy="150.3" r="2" stroke="#00ff00"/>
<path d="M277.2 223.4l3 3m0 -3l-3 3" stroke="#0000ff" stroke-width=".7"/>
<circle cx="228.9" cy="230.1" r="2" stroke="#0000ff"/>
<path d="M330.1 178.3l3 3m0 -3l-3 3" stroke="#00ff00" stroke-width=".7"/>
<path d="M339.4 174.4l3 3m0 -3l-3 3" stroke="#ff0000" stroke-width=".7"/>
<circle cx="319.1" cy="208.5" r="2" stroke="#ffff00"/>
<circle cx="274.6" cy="221.6" r="2" stroke="#0000ff"/>
<path d="M348.5 152.5l3 3m0 -3l-3 3" stroke="#00ff00" stroke-width=".7"/>
<path d="M393.6 130.4l3 3m0 -3l-3 3" stroke="#00ff00" stroke-width=".7"/>
<circle cx="334.1" cy="195.7" r="2" stroke="#000000"/>
<circle cx="277.0" cy="202.7" r="2" stroke="#000000"/>
<circle cx="369.4" cy="116.6" r="2" stroke="#00ff00"/>
<path d="M368.2 143.1l3 3m0 -3l-3 3" stroke="#00ff00" stroke-width=".7"/>
<path d="M359.6 185.4l3 3m0 -3l-3 3" stroke="#ff0000" stroke-width=".7"/>
<path d="M317.0 159.9l3 3m0 -3l-3 3" stroke="#00ff00" stroke-width=".7"/>
<circle cx="261.7" cy="221.2" r="2" stroke="#ffff00"/>
<path d="M258.8 221.5l2 2.4l-2 2.4l-2 -2.4z" stroke="#ff0000"/>
<circle cx="231.3" cy="232.2" r="2" stroke="#ffff00"/>
<path d="M340.1 186.6l3 3m0 -3l-3 3" stroke="#00ff00" stroke-width=".7"/>
<path d="M362.0 150.2l3 3m0 -3l-3 3" stroke="#00ff00" stroke-width=".7"/>
<path d="M253.1 229.9l3 3m0 -3l-3 3" stroke="#0000ff" stroke-width=".7"/>
<path d="M326.0 189.1l2 2.4l-2 2.4l-2 -2.4z" stroke="#000000"/>
<circle cx="261.2" cy="225.3" r="2" stroke="#0000ff"/>
<circle cx="342.4" cy="182.9" r="2" stroke="#ffff00"/>
<path d="M297.9 205.3l3 3m0 -3l-3 3" stroke="#ffff00" stroke-width=".7"/>
<path d="M384.9 109.4l3 3m0 -3l-3 3" stroke="#00ff00" stroke-width=".7"/>
<path d="M343.2 202.9l3 3m0 -3l-3 3" stroke="#ff0000" stroke-width=".7"/>
<circle cx="365.5" cy="185.4" r="2" stroke="#000000"/>
<circle cx="343.4" cy="166.1" r="2" stroke="#00ff00"/>
<circle cx="261.7" cy="223.1" r="2" stroke="#0000ff"/>
<path d="M287.3 195.3l3 3m0 -3l-3 3" stroke="#ff0000" stroke-width=".7"/>
<path d="M292.0 198.7l3 3m0 -3l-3 3" stroke="#000000" stroke-width=".7"/>
<path d="M241.6 225.0l2 2.4l-2 2.4l-2 -2.4z" stroke="#0000ff"/>
<circle cx="266.0" cy="224.8" r="2" stroke="#ff0000"/>
<circle cx="269.9" cy="212.9" r="2" stroke="#ffff00"/>
<path d="M359.1 166.6l3 3m0 -3l-3 3" stroke="#00ff00" stroke-width=".7"/>
<circle cx="305.0" cy="217.1" r="2" stroke="#0000ff"/>
<circle cx="316.0" cy="200.7" r="2" stroke="#ffff00"/>
<circle cx="366.8" cy="123.5" r="2" stroke="#00ff00"/>
<circle cx="332.5" cy="180.6" r="2" stroke="#ff0000"/>
<circle cx="275.4" cy="210.1" r="2" stroke="#ffff00"/>
<circle cx="443.5" cy="143.0" r="2" stroke="#ff0000"/>
<circle cx="360.1" cy="159.5" r="2" stroke="#00ff00"/>
<path d="M297.8 189.4l3 3m0 -3l-3 3" stroke="#ff0000" stroke-width=".7"/>
<circle cx="374.0" cy="128.0" r="2" stroke="#00ff00"/>
<path d="M327.6 194.1l2 2.4l-2 2.4l-2 -2.4z" stroke="#000000"/>
<circle cx="304.7" cy="180.9" r="2" stroke="#ff0000"/>
<circle cx="268.5" cy="215.0" r="2" stroke="#000000"/>
<circle cx="397.8" cy="159.0" r="2" stroke="#ffff00"/>
<circle cx="337.8" cy="194.5" r="2" stroke="#ff0000"/>
<circle cx="297.9" cy="199.1" r="2" stroke="#ffff00"/>
<circle cx="277.7" cy="217.9" r="2" stroke="#ffff00"/>
<circle cx="374.2" cy="172.0" r="2" stroke="#000000"/>
<path d="M247.3 229.6l3 3m0 -3l-3 3" stroke="#0000ff" stroke-width=".7"/>
<circle cx="404.5" cy="120.8" r="2" stroke="#000000"/>
<circle cx="245.1" cy="224.1" r="2" stroke="#ff0000"/>
<path d="M253.9 228.6l2 2.4l-2 2.4l-2 -2.4z" stroke="#0000ff"/>
<circle cx="275.1" cy="219.8" r="2" stroke="#ffff00"/>
<path d="M368.6 127.2l3 3m0 -3l-3 3" stroke="#00ff00" stroke-width=".7"/>
<circle cx="394.5" cy="136.0" r="2" stroke="#00ff00"/>
<circle cx="294.5" cy="197.1" r="2" stroke="#ff0000"/>
<path d="M389.0 134.1l3 3m0 -3l-3 3" stroke="#00ff00" stroke-width=".7"/>
<circle cx="315.4" cy="185.8" r="2" stroke="#000000"/>
<circle cx="358.3" cy="122.0" r="2" stroke="#00ff00"/>
<path d="M291.9 211.0l2 2.4l-2 2.4l-2 -2.4z" stroke="#ffff00"/>
<circle cx="328.1" cy="185.7" r="2" stroke="#ffff00"/>
<circle cx="256.1" cy="229.4" r="2" stroke="#ffff00"/>
<circle cx="313.2" cy="208.3" r="2" stroke="#000000"/>
<path d="M261.7 227.4l2 2.4l-2 2.4l-2 -2.4z" stroke="#0000ff"/>
<circle cx="285.7" cy="216.6" r="2" stroke="#ff0000"/>
<circle cx="361.0" cy="150.2" r="2" stroke="#00ff00"/>
<path d="M345.1 193.1l2 2.4l-2 2.4l-2 -2.4z" stroke="#ff0000"/>
<circle cx="237.9" cy="228.0" r="2" stroke="#ffff00"/>
<path d="M307.3 205.7l3 3m0 -3l-3 3" stroke="#000000" stroke-width=".7"/>
<path d="M272.3 218.5l2 2.4l-2 2.4l-2 -2.4z" stroke="#ff0000"/>
<circle cx="285.3" cy="202.8" r="2" stroke="#0000ff"/>
<path d="M313.6 192.1l2 2.4l-2 2.4l-2 -2.4z" stroke="#ff0000"/>
<circle cx="320.8" cy="194.6" r="2" stroke="#ff0000"/>
<circle cx="254.5" cy="231.0" r="2" stroke="#0000ff"/>
<circle cx="334.8" cy="145.3" r="2" stroke="#00ff00"/>
<circle cx="367.0" cy="146.7" r="2" stroke="#00ff00"/>
<path d="M286.0 195.3l2 2.4l-2 2.4l-2 -2.4z" stroke="#ff0000"/>
<circle cx="241.8" cy="226.7" r="2" stroke="#0000ff"/>
<circle cx="429.5" cy="147.0" r="2" stroke="#ff0000"/>
<circle cx="360.5" cy="192.7" r="2" stroke="#000000"/>
<circle cx="238.5" cy="229.6" r="2" stroke="#ffff00"/>
<path d="M428.2 109.8l3 3m0 -3l-3 3" stroke="#00ff00" stroke-width=".7"/>
<path d="M245.7 224.8l3 3m0 -3l-3 3" stroke="#0000ff" stroke-width=".7"/>
<circle cx="234.7" cy="228.2" r="2" stroke="#ffff00"/>
<circle cx="305.8" cy="211.2" r="2" stroke="#000000"/>
<circle cx="365.1" cy="144.7" r="2" stroke="#00ff00"/>
<circle cx="378.6" cy="166.3" r="2" stroke="#000000"/>
<circle cx="298.6" cy="213.1" r="2" stroke="#ff0000"/>
<path d="M268.2 226.5l2 2.4l-2 2.4l-2 -2.4z" stroke="#ff0000"/>
<path d="M356.8 172.0l3 3m0 -3l-3 3" stroke="#00ff00" stroke-width=".7"/>
<circle cx="245.0" cy="226.0" r="2" stroke="#0000ff"/>
<circle cx="390.4" cy="155.5" r="2" stroke="#000000"/>
<path d="M286.8 214.7l3 3m0 -3l-3 3" stroke="#000000" stroke-width=".7"/>
<circle cx="331.0" cy="194.7" r="2" stroke="#000000"/>
<path d="M366.0 138.1l3 3m0 -3l-3 3" stroke="#00ff00" stroke-width=".7"/>
<circle cx="407.0" cy="91.0" r="2" stroke="#ff0000"/>
<circle cx="238.7" cy="228.9" r="2" stroke="#ffff00"/>
<path d="M337.1 164.5l2 2.4l-2 2.4l-2 -2.4z" stroke="#ff0000"/>
<path d="M354.9 176.5l3 3m0 -3l-3 3" stroke="#ff0000" stroke-width=".7"/>
<path d="M365.6 142.6l3 3m0 -3l-3 3" stroke="#ffff00" stroke-width=".7"/>
<circle cx="252.8" cy="223.2" r="2" stroke="#000000"/>
<circle cx="318.0" cy="187.2" r="2" stroke="#ffff00"/>
<path d="M316.5 173.8l2 2.4l-2 2.4l-2 -2.4z" stroke="#ffff00"/>
<path d="M323.2 160.4l2 2.4l-2 2.4l-2 -2.4z" stroke="#000000"/>
<path d="M327.6 182.8l2 2.4l-2 2.4l-2 -2.4z" stroke="#ff0000"/>
<circle cx="277.0" cy="205.0" r="2" stroke="#ff0000"/>
<circle cx="293.9" cy="218.3" r="2" stroke="#ffff00"/>
<path d="M385.1 149.3l3 3m0 -3l-3 3" stroke="#000000" stroke-width=".7"/>
<circle cx="266.4" cy="227.6" r="2" stroke="#0000ff"/>
<circle cx="372.8" cy="153.0" r="2" stroke="#00ff00"/>
<path d="M357.4 165.9l3 3m0 -3l-3 3" stroke="#00ff00" stroke-width=".7"/>
<path d="M394.7 161.1l3 3m0 -3l-3 3" stroke="#000000" stroke-width=".7"/>
<circle cx="296.5" cy="200.3" r="2" stroke="#00ff00"/>
<path d="M393.4 111.1l3 3m0 -3l-3 3" stroke="#00ff00" stroke-width=".7"/>
<circle cx="341.2" cy="163.9" r="2" stroke="#ff0000"/>
<circle cx="296.7" cy="215.7" r="2" stroke="#0000ff"/>
<circle cx="352.9" cy="183.8" r="2" stroke="#000000"/>
<circle cx="252.3" cy="228.3" r="2" stroke="#0000ff"/>
<path d="M260.2 229.1l3 3m0 -3l-3 3" stroke="#0000ff" stroke-width=".7"/>
<path d="M329.7 153.7l3 3m0 -3l-3 3" stroke="#00ff00" stroke-width=".7"/>
<path d="M315.5 177.4l2 2.4l-2 2.4l-2 -2.4z" stroke="#000000"/>
<circle cx="296.1" cy="214.2" r="2" stroke="#0000ff"/>
<path d="M274.1 217.5l2 2.4l-2 2.4l-2 -2.4z" stroke="#ffff00"/>
<circle cx="266.5" cy="223.0" r="2" stroke="#ff0000"/>
<path d="M431.0 116.9l3 3m0 -3l-3 3" stroke="#00ff00" stroke-width=".7"/>
<path d="M283.9 206.7l2 2.4l-2 2.4l-2 -2.4z" stroke="#ffff00"/>
<path d="M338.8 171.1l3 3m0 -3l-3 3" stroke="#00ff00" stroke-width=".7"/>
<circle cx="295.8" cy="212.8" r="2" stroke="#ffff00"/>
<path d="M380.8 133.0l3 3m0 -3l-3 3" stroke="#00ff00" stroke-width=".7"/>
<path d="M250.5 226.3l3 3m0 -3l-3 3" stroke="#000000" stroke-width=".7"/>
<circle cx="274.1" cy="224.2" r="2" stroke="#0000ff"/>
<circle cx="284.9" cy="201.4" r="2" stroke="#ff0000"/>
<path d="M362.3 161.4l2 2.4l-2 2.4l-2 -2.4z" stroke="#ff0000"/>
<circle cx="390.1" cy="156.2" r="2" stroke="#ff0000"/>
<path d="M315.8 178.8l3 3m0 -3l-3 3" stroke="#ff0000" stroke-width=".7"/>
<circle cx="286.6" cy="221.7" r="2" stroke="#0000ff"/>
<circle cx="345.1" cy="183.5" r="2" stroke="#ffff00"/>
<circle cx="418.0" cy="144.0" r="2" stroke="#ff0000"/>
<circle cx="263.8" cy="221.0" r="2" stroke="#ff0000"/>
<path d="M287.1 220.6l2 2.4l-2 2.4l-2 -2.4z" stroke="#0000ff"/>
<path d="M341.5 135.7l3 3m0 -3l-3 3" stroke="#00ff00" stroke-width=".7"/>
<path d="M369.1 149.9l3 3m0 -3l-3 3" stroke="#00ff00" stroke-width=".7"/>
<path d="M315.8 208.8l2 2.4l-2 2.4l-2 -2.4z" stroke="#ffff00"/>
<path d="M326.9 163.0l3 3m0 -3l-3 3" stroke="#00ff00" stroke-width=".7"/>
<path d="M253.7 230.3l3 3m0 -3l-3 3" stroke="#0000ff" stroke-width=".7"/>
<path d="M355.3 145.1l3 3m0 -3l-3 3" stroke="#000000" stroke-width=".7"/>
<circle cx="312.0" cy="170.8" r="2" stroke="#000000"/>
<circle cx="229.1" cy="232.4" r="2" stroke="#ffff00"/>
<path d="M347.1 179.1l3 3m0 -3l-3 3" stroke="#000000" stroke-width=".7"/>
<circle cx="242.0" cy="228.2" r="2" stroke="#0000ff"/>
<circle cx="369.7" cy="188.4" r="2" stroke="#ff0000"/>
<circle cx="235.2" cy="228.6" r="2" stroke="#ffff00"/>
<path d="M352.8 167.2l3 3m0 -3l-3 3" stroke="#00ff00" stroke-width=".7"/>
<circle cx="336.2" cy="166.3" r="2" stroke="#00ff00"/>
<path d="M355.4 123.6l3 3m0 -3l-3 3" stroke="#00ff00" stroke-width=".7"/>
<circle cx="324.5" cy="172.0" r="2" stroke="#00ff00"/>
<circle cx="258.6" cy="227.9" r="2" stroke="#0000ff"/>
<path d="M232.8 229.0l3 3m0 -3l-3 3" stroke="#0000ff" stroke-width=".7"/>
<circle cx="290.9" cy="214.5" r="2" stroke="#ff0000"/>
<path d="M319.6 208.2l3 3m0 -3l-3 3" stroke="#ff0000" stroke-width=".7"/>
<circle cx="302.3" cy="195.9" r="2" stroke="#ffff00"/>
<circle cx="281.9" cy="216.9" r="2" stroke="#0000ff"/>
<circle cx="336.5" cy="196.8" r="2" stroke="#ffff00"/>
<path d="M313.5 195.3l2 2.4l-2 2.4l-2 -2.4z" stroke="#ffff00"/>
<path d="M381.4 151.0l3 3m0 -3l-3 3" stroke="#ff0000" stroke-width=".7"/>
<circle cx="245.5" cy="228.4" r="2" stroke="#0000ff"/>
<circle cx="326.8" cy="202.8" r="2" stroke="#ffff00"/>
<circle cx="253.5" cy="226.2" r="2" stroke="#ff0000"/>
<circle cx="231.4" cy="230.9" r="2" stroke="#ffff00"/>
<path d="M330.5 186.9l2 2.4l-2 2.4l-2 -2.4z" stroke="#ffff00"/>
<circle cx="311.9" cy="182.5" r="2" stroke="#000000"/>
<path d="M253.1 228.1l2 2.4l-2 2.4l-2 -2.4z" stroke="#0000ff"/>
<path d="M365.9 144.5l3 3m0 -3l-3 3" stroke="#00ff00" stroke-width=".7"/>
<path d="M385.9 116.4l3 3m0 -3l-3 3" stroke="#00ff00" stroke-width=".7"/>
<circle cx="265.4" cy="218.9" r="2" stroke="#ffff00"/>
<path d="M389.8 126.1l3 3m0 -3l-3 3" stroke="#00ff00" stroke-width=".7"/>
<path d="M296.9 185.3l2 2.4l-2 2.4l-2 -2.4z" stroke="#ffff00"/>
<path d="M248.5 229.4l3 3m0 -3l-3 3" stroke="#0000ff" stroke-width=".7"/>
<circle cx="343.2" cy="201.6" r="2" stroke="#000000"/>
<circle cx="263.3" cy="228.8" r="2" stroke="#0000ff"/>
<circle cx="240.1" cy="231.9" r="2" stroke="#ffff00"/>
<path d="M314.7 189.1l3 3m0 -3l-3 3" stroke="#00ff00" stroke-width=".7"/>
<circle cx="313.7" cy="197.6" r="2" stroke="#ffff00"/>
<path d="M362.7 145.8l3 3m0 -3l-3 3" stroke="#00ff00" stroke-width=".7"/>
<path d="M333.9 187.5l2 2.4l-2 2.4l-2 -2.4z" stroke="#000000"/>
<path d="M387.9 136.0l3 3m0 -3l-3 3" stroke="#00ff00" stroke-width=".7"/>
<circle cx="292.0" cy="219.5" r="2" stroke="#0000ff"/>
<circle cx="288.8" cy="201.9" r="2" stroke="#ffff00"/>
<circle cx="333.1" cy="198.8" r="2" stroke="#ff0000"/>
<circle cx="387.2" cy="165.5" r="2" stroke="#ff0000"/>
<circle cx="381.3" cy="158.2" r="2" stroke="#ff0000"/>
<circle cx="283.2" cy="205.9" r="2" stroke="#ffff00"/>
<circle cx="273.2" cy="226.9" r="2" stroke="#0000ff"/>
<path d="M302.4 192.0l2 2.4l-2 2.4l-2 -2.4z" stroke="#ff0000"/>
<path d="M310.7 189.2l3 3m0 -3l-3 3" stroke="#00ff00" stroke-width=".7"/>
<circle cx="335.6" cy="185.0" r="2" stroke="#ff0000"/>
<circle cx="342.1" cy="175.8" r="2" stroke="#ffff00"/>
<path d="M386.1 106.9l3 3m0 -3l-3 3" stroke="#00ff00" stroke-width=".7"/>
<path d="M248.6 225.0l3 3m0 -3l-3 3" stroke="#ffff00" stroke-width=".7"/>
<circle cx="366.6" cy="121.3" r="2" stroke="#ffff00"/>
<path d="M394.7 167.9l2 2.4l-2 2.4l-2 -2.4z" stroke="#ff0000"/>
<path d="M334.6 177.9l2 2.4l-2 2.4l-2 -2.4z" stroke="#ff0000"/>
<circle cx="382.4" cy="114.0" r="2" stroke="#00ff00"/>
<circle cx="281.8" cy="213.1" r="2" stroke="#ffff00"/>
<circle cx="299.9" cy="191.2" r="2" stroke="#ff0000"/>
<circle cx="360.3" cy="143.7" r="2" stroke="#00ff00"/>
<circle cx="265.7" cy="223.1" r="2" stroke="#0000ff"/>
<path d="M313.0 173.7l3 3m0 -3l-3 3" stroke="#ff0000" stroke-width=".7"/>
<path d="M382.6 128.1l3 3m0 -3l-3 3" stroke="#00ff00" stroke-width=".7"/>
<path d="M334.9 179.7l3 3m0 -3l-3 3" stroke="#00ff00" stroke-width=".7"/>
<circle cx="309.9" cy="182.1" r="2" stroke="#00ff00"/>
<path d="M304.5 123.8l2 2.4l-2 2.4l-2 -2.4z" stroke="#ff0000"/>
<path d="M239.9 228.1l3 3m0 -3l-3 3" stroke="#0000ff" stroke-width=".7"/>
<path d="M319.5 194.9l3 3m0 -3l-3 3" stroke="#ff0000" stroke-width=".7"/>
<circle cx="311.9" cy="180.8" r="2" stroke="#ff0000"/>
<circle cx="347.7" cy="156.6" r="2" stroke="#00ff00"/>
<path d="M283.0 215.1l3 3m0 -3l-3 3" stroke="#00ff00" stroke-width=".7"/>
<circle cx="408.0" cy="139.0" r="2" stroke="#00ff00"/>
<path d="M453.5 90.5l3 3m0 -3l-3 3" stroke="#00ff00" stroke-width=".7"/>
<circle cx="281.7" cy="144.6" r="2" stroke="#0000ff"/>
<path d="M359.8 156.8l3 3m0 -3l-3 3" stroke="#00ff00" stroke-width=".7"/>
<circle cx="276.5" cy="204.6" r="2" stroke="#ff0000"/>
<path d="M342.3 194.2l3 3m0 -3l-3 3" stroke="#000000" stroke-width=".7"/>
<circle cx="359.3" cy="160.4" r="2" stroke="#000000"/>
<path d="M357.7 136.2l3 3m0 -3l-3 3" stroke="#ffff00" stroke-width=".7"/>
<path d="M315.0 195.4l2 2.4l-2 2.4l-2 -2.4z" stroke="#ffff00"/>
<path d="M274.6 213.5l2 2.4l-2 2.4l-2 -2.4z" stroke="#000000"/>
<circle cx="280.1" cy="220.8" r="2" stroke="#000000"/>
<circle cx="352.7" cy="128.5" r="2" stroke="#00ff00"/>
<path d="M322.6 183.7l2 2.4l-2 2.4l-2 -2.4z" stroke="#ff0000"/>
<circle cx="323.5" cy="186.1" r="2" stroke="#ffff00"/>
<circle cx="257.3" cy="229.9" r="2" stroke="#0000ff"/>
<circle cx="354.6" cy="133.0" r="2" stroke="#ffff00"/>
<path d="M371.8 179.5l2 2.4l-2 2.4l-2 -2.4z" stroke="#ff0000"/>
<circle cx="258.9" cy="223.4" r="2" stroke="#000000"/>
<circle cx="326.7" cy="159.2" r="2" stroke="#ff0000"/>
<path d="M285.5 214.4l2 2.4l-2 2.4l-2 -2.4z" stroke="#0000ff"/>
<circle cx="296.7" cy="202.2" r="2" stroke="#ff0000"/>
<circle cx="377.2" cy="174.6" r="2" stroke="#ff0000"/>
<circle cx="238.4" cy="230.5" r="2" stroke="#ffff00"/>
<path d="M241.5 229.7l3 3m0 -3l-3 3" stroke="#0000ff" stroke-width=".7"/>
<path d="M354.9 177.0l3 3m0 -3l-3 3" stroke="#ffff00" stroke-width=".7"/>
<path d="M234.3 230.7l2 2.4l-2 2.4l-2 -2.4z" stroke="#ffff00"/>
<circle cx="266.4" cy="223.1" r="2" stroke="#ffff00"/>
<path d="M331.3 185.6l3 3m0 -3l-3 3" stroke="#ff0000" stroke-width=".7"/>
<path d="M349.7 175.1l2 2.4l-2 2.4l-2 -2.4z" stroke="#ff0000"/>
<path d="M399.4 168.4l2 2.4l-2 2.4l-2 -2.4z" stroke="#ff0000"/>
<circle cx="295.5" cy="220.0" r="2" stroke="#ff0000"/>
<path d="M288.1 220.1l3 3m0 -3l-3 3" stroke="#0000ff" stroke-width=".7"/>
<path d="M378.8 106.2l3 3m0 -3l-3 3" stroke="#00ff00" stroke-width=".7"/>
<path d="M299.2 202.3l3 3m0 -3l-3 3" stroke="#000000" stroke-width=".7"/>
<circle cx="255.7" cy="231.9" r="2" stroke="#0000ff"/>
<path d="M241.6 229.3l3 3m0 -3l-3 3" stroke="#0000ff" stroke-width=".7"/>
<circle cx="270.0" cy="222.9" r="2" stroke="#0000ff"/>
<circle cx="342.3" cy="196.3" r="2" stroke="#0000ff"/>
<circle cx="231.6" cy="228.6" r="2" stroke="#0000ff"/>
<path d="M353.6 161.6l3 3m0 -3l-3 3" stroke="#00ff00" stroke-width=".7"/>
<circle cx="403.9" cy="108.7" r="2" stroke="#00ff00"/>
<circle cx="288.3" cy="210.7" r="2" stroke="#000000"/>
<circle cx="245.4" cy="227.1" r="2" stroke="#0000ff"/>
<circle cx="383.4" cy="124.0" r="2" stroke="#00ff00"/>
<path d="M330.0 170.9l3 3m0 -3l-3 3" stroke="#00ff00" stroke-width=".7"/>
<circle cx="375.7" cy="143.0" r="2" stroke="#00ff00"/>
<path d="M367.6 185.5l2 2.4l-2 2.4l-2 -2.4z" stroke="#ffff00"/>
<circle cx="390.2" cy="140.7" r="2" stroke="#00ff00"/>
<circle cx="279.0" cy="204.5" r="2" stroke="#000000"/>
<path d="M380.9 149.6l2 2.4l-2 2.4l-2 -2.4z" stroke="#ffff00"/>
<path d="M388.3 136.2l3 3m0 -3l-3 3" stroke="#00ff00" stroke-width=".7"/>
<circle cx="341.8" cy="191.0" r="2" stroke="#0000ff"/>
<path d="M373.2 144.4l3 3m0 -3l-3 3" stroke="#00ff00" stroke-width=".7"/>
<path d="M310.1 212.0l2 2.4l-2 2.4l-2 -2.4z" stroke="#0000ff"/>
<circle cx="316.0" cy="201.1" r="2" stroke="#ff0000"/>
<circle cx="238.8" cy="229.0" r="2" stroke="#ffff00"/>
<circle cx="332.6" cy="187.5" r="2" stroke="#ff0000"/>
<path d="M274.9 208.6l3 3m0 -3l-3 3" stroke="#ff0000" stroke-width=".7"/>
<circle cx="306.0" cy="191.3" r="2" stroke="#ffff00"/>
<path d="M332.7 194.7l3 3m0 -3l-3 3" stroke="#ffff00" stroke-width=".7"/>
<circle cx="307.4" cy="201.0" r="2" stroke="#ffff00"/>
<circle cx="288.6" cy="212.5" r="2" stroke="#ffff00"/>
<circle cx="346.8" cy="178.4" r="2" stroke="#ff0000"/>
<circle cx="392.7" cy="138.7" r="2" stroke="#00ff00"/>
<path d="M281.8 214.2l3 3m0 -3l-3 3" stroke="#000000" stroke-width=".7"/>
<path d="M356.3 158.3l3 3m0 -3l-3 3" stroke="#00ff00" stroke-width=".7"/>
<circle cx="327.7" cy="192.7" r="2" stroke="#000000"/>
<path d="M361.3 186.9l3 3m0 -3l-3 3" stroke="#000000" stroke-width=".7"/>
<circle cx="270.7" cy="215.1" r="2" stroke="#ff0000"/>
<path d="M260.6 226.7l3 3m0 -3l-3 3" stroke="#0000ff" stroke-width=".7"/>
<circle cx="293.1" cy="207.9" r="2" stroke="#ff0000"/>
<path d="M298.7 180.9l2 2.4l-2 2.4l-2 -2.4z" stroke="#0000ff"/>
<circle cx="332.3" cy="186.6" r="2" stroke="#ffff00"/>
<path d="M306.7 194.8l2 2.4l-2 2.4l-2 -2.4z" stroke="#ff0000"/>
<path d="M393.6 138.2l3 3m0 -3l-3 3" stroke="#00ff00" stroke-width=".7"/>
<path d="M297.9 185.2l2 2.4l-2 2.4l-2 -2.4z" stroke="#ff0000"/>
<path d="M380.4 123.5l2 2.4l-2 2.4l-2 -2.4z" stroke="#ffff00"/>
<path d="M246.0 230.0l3 3m0 -3l-3 3" stroke="#0000ff" stroke-width=".7"/>
<path d="M321.7 204.2l3 3m0 -3l-3 3" stroke="#ffff00" stroke-width=".7"/>
<path d="M315.3 165.6l3 3m0 -3l-3 3" stroke="#00ff00" stroke-width=".7"/>
<path d="M243.1 227.3l3 3m0 -3l-3 3" stroke="#0000ff" stroke-width=".7"/>
<path d="M291.8 215.3l2 2.4l-2 2.4l-2 -2.4z" stroke="#ff0000"/>
<path d="M249.1 226.0l2 2.4l-2 2.4l-2 -2.4z" stroke="#000000"/>
<path d="M256.5 221.2l2 2.4l-2 2.4l-2 -2.4z" stroke="#ff0000"/>
<circle cx="377.2" cy="161.2" r="2" stroke="#ff0000"/>
<path d="M365.9 165.1l3 3m0 -3l-3 3" stroke="#00ff00" stroke-width=".7"/>
<circle cx="339.2" cy="197.9" r="2" stroke="#ffff00"/>
<circle cx="395.0" cy="143.0" r="2" stroke="#00ff00"/>
<circle cx="280.3" cy="222.8" r="2" stroke="#0000ff"/>
<circle cx="276.9" cy="220.4" r="2" stroke="#ff0000"/>
<path d="M363.5 145.5l3 3m0 -3l-3 3" stroke="#00ff00" stroke-width=".7"/>
<circle cx="284.3" cy="200.7" r="2" stroke="#ffff00"/>
<circle cx="282.4" cy="206.9" r="2" stroke="#0000ff"/>
<circle cx="357.7" cy="151.2" r="2" stroke="#00ff00"/>
<circle cx="272.8" cy="208.8" r="2" stroke="#000000"/>
<circle cx="311.6" cy="172.4" r="2" stroke="#ffff00"/>
<path d="M385.6 110.2l2 2.4l-2 2.4l-2 -2.4z" stroke="#0000ff"/>
<circle cx="330.9" cy="195.6" r="2" stroke="#ff0000"/>
<circle cx="230.4" cy="228.2" r="2" stroke="#0000ff"/>
<circle cx="249.9" cy="233.0" r="2" stroke="#0000ff"/>
<path d="M346.4 139.3l3 3m0 -3l-3 3" stroke="#00ff00" stroke-width=".7"/>
<circle cx="234.3" cy="228.8" r="2" stroke="#ffff00"/>
<path d="M361.5 124.5l3 3m0 -3l-3 3" stroke="#00ff00" stroke-width=".7"/>
<path d="M249.0 223.3l3 3m0 -3l-3 3" stroke="#ff0000" stroke-width=".7"/>
<circle cx="438.6" cy="115.6" r="2" stroke="#ff0000"/>
<circle cx="360.0" cy="131.0" r="2" stroke="#00ff00"/>
<path d="M359.0 126.8l3 3m0 -3l-3 3" stroke="#00ff00" stroke-width=".7"/>
<path d="M277.1 216.0l3 3m0 -3l-3 3" stroke="#000000" stroke-width=".7"/>
<circle cx="373.1" cy="169.3" r="2" stroke="#ff0000"/>
<circle cx="243.6" cy="234.3" r="2" stroke="#000000"/>
<circle cx="340.0" cy="188.7" r="2" stroke="#00ff00"/>
<path d="M270.1 218.1l2 2.4l-2 2.4l-2 -2.4z" stroke="#0000ff"/>
<circle cx="238.2" cy="227.0" r="2" stroke="#ffff00"/>
<circle cx="312.2" cy="202.9" r="2" stroke="#ffff00"/>
<circle cx="360.1" cy="181.6" r="2" stroke="#ff0000"/>
<circle cx="361.1" cy="181.2" r="2" stroke="#ff0000"/>
<circle cx="418.0" cy="125.0" r="2" stroke="#ff0000"/>
<circle cx="364.6" cy="181.5" r="2" stroke="#ff0000"/>
<path d="M376.8 134.7l3 3m0 -3l-3 3" stroke="#ffff00" stroke-width=".7"/>
<path d="M391.6 113.8l3 3m0 -3l-3 3" stroke="#00ff00" stroke-width=".7"/>
<path d="M299.0 191.0l3 3m0 -3l-3 3" stroke="#00ff00" stroke-width=".7"/>
<path d="M346.0 142.2l3 3m0 -3l-3 3" stroke="#ffff00" stroke-width=".7"/>
<path d="M362.7 127.4l3 3m0 -3l-3 3" stroke="#00ff00" stroke-width=".7"/>
<circle cx="363.5" cy="117.3" r="2" stroke="#00ff00"/>
<path d="M352.0 169.0l3 3m0 -3l-3 3" stroke="#00ff00" stroke-width=".7"/>
<circle cx="265.7" cy="218.7" r="2" stroke="#000000"/>
<circle cx="327.5" cy="195.8" r="2" stroke="#ff0000"/>
<circle cx="292.2" cy="222.9" r="2" stroke="#ff0000"/>
<circle cx="282.7" cy="223.9" r="2" stroke="#0000ff"/>
<path d="M349.1 173.7l3 3m0 -3l-3 3" stroke="#00ff00" stroke-width=".7"/>
<circle cx="358.4" cy="194.4" r="2" stroke="#000000"/>
<path d="M375.9 179.4l3 3m0 -3l-3 3" stroke="#ffff00" stroke-width=".7"/>
<path d="M313.8 208.3l3 3m0 -3l-3 3" stroke="#ffff00" stroke-width=".7"/>
<path d="M380.3 113.3l3 3m0 -3l-3 3" stroke="#00ff00" stroke-width=".7"/>
<circle cx="341.8" cy="184.2" r="2" stroke="#000000"/>
<circle cx="343.5" cy="179.6" r="2" stroke="#ff0000"/>
<circle cx="371.6" cy="114.8" r="2" stroke="#00ff00"/>
<path d="M324.9 157.4l3 3m0 -3l-3 3" stroke="#00ff00" stroke-width=".7"/>
<path d="M243.4 230.1l2 2.4l-2 2.4l-2 -2.4z" stroke="#0000ff"/>
<path d="M277.0 206.4l2 2.4l-2 2.4l-2 -2.4z" stroke="#ffff00"/>
<circle cx="231.3" cy="229.9" r="2" stroke="#ffff00"/>
<circle cx="270.7" cy="218.3" r="2" stroke="#000000"/>
<path d="M333.2 157.5l3 3m0 -3l-3 3" stroke="#00ff00" stroke-width=".7"/>
<path d="M403.1 118.2l3 3m0 -3l-3 3" stroke="#00ff00" stroke-width=".7"/>
<path d="M369.6 146.9l3 3m0 -3l-3 3" stroke="#00ff00" stroke-width=".7"/>
<circle cx="370.1" cy="156.5" r="2" stroke="#00ff00"/>
<path d="M369.8 170.0l3 3m0 -3l-3 3" stroke="#000000" stroke-width=".7"/>
<path d="M239.6 229.7l3 3m0 -3l-3 3" stroke="#0000ff" stroke-width=".7"/>
<path d="M318.5 179.0l2 2.4l-2 2.4l-2 -2.4z" stroke="#ff0000"/>
<path d="M265.1 225.7l2 2.4l-2 2.4l-2 -2.4z" stroke="#0000ff"/>
<path d="M281.1 222.5l2 2.4l-2 2.4l-2 -2.4z" stroke="#0000ff"/>
<circle cx="244.1" cy="230.4" r="2" stroke="#0000ff"/>
<circle cx="314.7" cy="189.2" r="2" stroke="#ff0000"/>
<path d="M334.1 200.0l3 3m0 -3l-3 3" stroke="#000000" stroke-width=".7"/>
<circle cx="291.4" cy="218.1" r="2" stroke="#0000ff"/>
<path d="M251.9 224.4l3 3m0 -3l-3 3" stroke="#ff0000" stroke-width=".7"/>
<path d="M351.0 153.3l3 3m0 -3l-3 3" stroke="#00ff00" stroke-width=".7"/>
<circle cx="275.2" cy="224.9" r="2" stroke="#0000ff"/>
<circle cx="373.2" cy="186.9" r="2" stroke="#ff0000"/>
<path d="M350.8 177.9l2 2.4l-2 2.4l-2 -2.4z" stroke="#ff0000"/>
<path d="M420.5 108.5l3 3m0 -3l-3 3" stroke="#00ff00" stroke-width=".7"/>
<circle cx="289.5" cy="219.8" r="2" stroke="#0000ff"/>
<path d="M389.3 134.5l3 3m0 -3l-3 3" stroke="#00ff00" stroke-width=".7"/>
<path d="M227.8 228.1l3 3m0 -3l-3 3" stroke="#ffff00" stroke-width=".7"/>
<path d="M327.7 174.2l2 2.4l-2 2.4l-2 -2.4z" stroke="#000000"/>
<path d="M358.0 171.1l3 3m0 -3l-3 3" stroke="#000000" stroke-width=".7"/>
<circle cx="318.1" cy="197.8" r="2" stroke="#000000"/>
<circle cx="369.2" cy="136.0" r="2" stroke="#00ff00"/>
<path d="M285.5 204.7l2 2.4l-2 2.4l-2 -2.4z" stroke="#000000"/>
<circle cx="252.5" cy="228.1" r="2" stroke="#0000ff"/>
<circle cx="281.9" cy="216.9" r="2" stroke="#ffff00"/>
<path d="M283.3 198.6l3 3m0 -3l-3 3" stroke="#ffff00" stroke-width=".7"/>
<circle cx="374.9" cy="177.7" r="2" stroke="#ff0000"/>
<path d="M257.0 222.5l3 3m0 -3l-3 3" stroke="#ff0000" stroke-width=".7"/>
<path d="M385.0 138.7l3 3m0 -3l-3 3" stroke="#00ff00" stroke-width=".7"/>
<path d="M284.3 204.9l3 3m0 -3l-3 3" stroke="#ffff00" stroke-width=".7"/>
<circle cx="411.0" cy="95.0" r="2" stroke="#ffff00"/>
<circle cx="262.7" cy="220.7" r="2" stroke="#000000"/>
<circle cx="345.6" cy="148.9" r="2" stroke="#000000"/>
<circle cx="251.1" cy="227.2" r="2" stroke="#ff0000"/>
<circle cx="383.9" cy="136.5" r="2" stroke="#00ff00"/>
<circle cx="250.7" cy="229.6" r="2" stroke="#0000ff"/>
<circle cx="388.0" cy="152.2" r="2" stroke="#000000"/>
<circle cx="277.6" cy="205.4" r="2" stroke="#000000"/>
<circle cx="356.2" cy="176.7" r="2" stroke="#ffff00"/>
<circle cx="325.3" cy="180.9" r="2" stroke="#000000"/>
<circle cx="418.0" cy="160.0" r="2" stroke="#ffff00"/>
<path d="M289.1 217.3l3 3m0 -3l-3 3" stroke="#000000" stroke-width=".7"/>
<circle cx="276.4" cy="220.9" r="2" stroke="#0000ff"/>
<circle cx="391.0" cy="142.0" r="2" stroke="#00ff00"/>
<path d="M336.7 154.4l3 3m0 -3l-3 3" stroke="#00ff00" stroke-width=".7"/>
<path d="M294.3 213.3l2 2.4l-2 2.4l-2 -2.4z" stroke="#0000ff"/>
<path d="M379.0 172.8l3 3m0 -3l-3 3" stroke="#000000" stroke-width=".7"/>
<circle cx="318.7" cy="202.0" r="2" stroke="#ffff00"/>
<path d="M239.1 229.1l3 3m0 -3l-3 3" stroke="#ffff00" stroke-width=".7"/>
<circle cx="303.8" cy="204.9" r="2" stroke="#ff0000"/>
<circle cx="296.3" cy="190.5" r="2" stroke="#000000"/>
<path d="M383.1 148.1l3 3m0 -3l-3 3" stroke="#00ff00" stroke-width=".7"/>
<path d="M343.6 184.6l3 3m0 -3l-3 3" stroke="#000000" stroke-width=".7"/>
<path d="M263.3 214.3l3 3m0 -3l-3 3" stroke="#ffff00" stroke-width=".7"/>
<path d="M356.8 177.9l3 3m0 -3l-3 3" stroke="#ffff00" stroke-width=".7"/>
<path d="M367.5 138.2l3 3m0 -3l-3 3" stroke="#ffff00" stroke-width=".7"/>
<circle cx="275.0" cy="216.8" r="2" stroke="#ff0000"/>
<path d="M379.3 129.3l3 3m0 -3l-3 3" stroke="#00ff00" stroke-width=".7"/>
<circle cx="374.6" cy="165.2" r="2" stroke="#000000"/>
<path d="M390.5 141.1l3 3m0 -3l-3 3" stroke="#00ff00" stroke-width=".7"/>
<path d="M270.6 220.2l2 2.4l-2 2.4l-2 -2.4z" stroke="#0000ff"/>
<circle cx="360.0" cy="193.4" r="2" stroke="#0000ff"/>
<circle cx="366.3" cy="188.4" r="2" stroke="#000000"/>
<path d="M259.1 229.2l3 3m0 -3l-3 3" stroke="#0000ff" stroke-width=".7"/>
<path d="M393.7 166.9l3 3m0 -3l-3 3" stroke="#000000" stroke-width=".7"/>
<path d="M316.9 194.3l2 2.4l-2 2.4l-2 -2.4z" stroke="#ff0000"/>
<circle cx="269.1" cy="214.6" r="2" stroke="#000000"/>
<path d="M286.9 212.0l3 3m0 -3l-3 3" stroke="#ff0000" stroke-width=".7"/>
<path d="M372.7 150.2l3 3m0 -3l-3 3" stroke="#00ff00" stroke-width=".7"/>
<path d="M386.1 158.1l2 2.4l-2 2.4l-2 -2.4z" stroke="#ffff00"/>
<path d="M368.5 122.2l3 3m0 -3l-3 3" stroke="#00ff00" stroke-width=".7"/>
<path d="M291.1 219.5l3 3m0 -3l-3 3" stroke="#ff0000" stroke-width=".7"/>
<path d="M266.3 217.3l2 2.4l-2 2.4l-2 -2.4z" stroke="#ffff00"/>
<circle cx="333.0" cy="170.5" r="2" stroke="#00ff00"/>
<circle cx="287.1" cy="207.1" r="2" stroke="#000000"/>
<circle cx="311.2" cy="172.3" r="2" stroke="#ffff00"/>
<path d="M388.6 147.4l2 2.4l-2 2.4l-2 -2.4z" stroke="#ffff00"/>
<circle cx="230.0" cy="228.6" r="2" stroke="#ffff00"/>
<path d="M344.4 154.2l3 3m0 -3l-3 3" stroke="#00ff00" stroke-width=".7"/>
<path d="M278.2 219.1l3 3m0 -3l-3 3" stroke="#0000ff" stroke-width=".7"/>
<path d="M308.0 180.3l2 2.4l-2 2.4l-2 -2.4z" stroke="#ff0000"/>
<path d="M297.0 206.7l2 2.4l-2 2.4l-2 -2.4z" stroke="#ffff00"/>
<circle cx="247.9" cy="227.0" r="2" stroke="#0000ff"/>
<circle cx="228.7" cy="230.5" r="2" stroke="#ffff00"/>
<circle cx="302.0" cy="186.4" r="2" stroke="#ffff00"/>
<path d="M329.0 191.6l2 2.4l-2 2.4l-2 -2.4z" stroke="#0000ff"/>
<path d="M321.5 183.8l2 2.4l-2 2.4l-2 -2.4z" stroke="#ff0000"/>
<path d="M366.6 139.1l3 3m0 -3l-3 3" stroke="#00ff00" stroke-width=".7"/>
<path d="M358.8 154.6l3 3m0 -3l-3 3" stroke="#00ff00" stroke-width=".7"/>
<path d="M350.0 166.3l3 3m0 -3l-3 3" stroke="#00ff00" stroke-width=".7"/>
<path d="M238.9 228.1l3 3m0 -3l-3 3" stroke="#ffff00" stroke-width=".7"/>
<circle cx="351.7" cy="182.7" r="2" stroke="#000000"/>
<path d="M332.9 151.4l3 3m0 -3l-3 3" stroke="#00ff00" stroke-width=".7"/>
<circle cx="433.1" cy="106.9" r="2" stroke="#00ff00"/>
<circle cx="364.3" cy="148.8" r="2" stroke="#00ff00"/>
<circle cx="270.2" cy="221.6" r="2" stroke="#ffff00"/>
<path d="M278.8 206.9l2 2.4l-2 2.4l-2 -2.4z" stroke="#ffff00"/>
<circle cx="242.1" cy="229.0" r="2" stroke="#0000ff"/>
<circle cx="377.9" cy="170.4" r="2" stroke="#ff0000"/>
<path d="M270.1 214.1l2 2.4l-2 2.4l-2 -2.4z" stroke="#ffff00"/>
<path d="M283.1 203.7l3 3m0 -3l-3 3" stroke="#ffff00" stroke-width=".7"/>
<path d="M392.3 137.5l3 3m0 -3l-3 3" stroke="#00ff00" stroke-width=".7"/>
<path d="M385.6 135.6l3 3m0 -3l-3 3" stroke="#00ff00" stroke-width=".7"/>
<circle cx="322.0" cy="137.0" r="2" stroke="#000000"/>
<path d="M268.0 213.6l3 3m0 -3l-3 3" stroke="#000000" stroke-width=".7"/>
<path d="M254.0 224.4l3 3m0 -3l-3 3" stroke="#000000" stroke-width=".7"/>
<circle cx="302.4" cy="196.1" r="2" stroke="#000000"/>
<circle cx="275.8" cy="213.9" r="2" stroke="#ffff00"/>
<path d="M301.8 202.3l2 2.4l-2 2.4l-2 -2.4z" stroke="#ff0000"/>
<path d="M307.0 175.7l2 2.4l-2 2.4l-2 -2.4z" stroke="#000000"/>
<circle cx="259.3" cy="222.7" r="2" stroke="#000000"/>
<circle cx="402.0" cy="160.0" r="2" stroke="#ffff00"/>
<path d="M352.9 157.3l3 3m0 -3l-3 3" stroke="#00ff00" stroke-width=".7"/>
<path d="M367.2 116.4l3 3m0 -3l-3 3" stroke="#00ff00" stroke-width=".7"/>
<circle cx="242.0" cy="232.2" r="2" stroke="#ff0000"/>
<circle cx="265.7" cy="223.0" r="2" stroke="#0000ff"/>
<path d="M368.3 177.0l3 3m0 -3l-3 3" stroke="#000000" stroke-width=".7"/>
<path d="M305.5 210.7l3 3m0 -3l-3 3" stroke="#ffff00" stroke-width=".7"/>
<path d="M340.9 150.9l3 3m0 -3l-3 3" stroke="#00ff00" stroke-width=".7"/>
<circle cx="245.4" cy="229.6" r="2" stroke="#0000ff"/>
<path d="M359.6 177.7l3 3m0 -3l-3 3" stroke="#000000" stroke-width=".7"/>
<path d="M277.9 202.0l3 3m0 -3l-3 3" stroke="#000000" stroke-width=".7"/>
<path d="M388.7 170.7l3 3m0 -3l-3 3" stroke="#000000" stroke-width=".7"/>
<circle cx="308.6" cy="201.7" r="2" stroke="#ff0000"/>
<circle cx="309.1" cy="199.2" r="2" stroke="#ffff00"/>
<circle cx="399.0" cy="149.0" r="2" stroke="#000000"/>
<circle cx="244.8" cy="233.7" r="2" stroke="#0000ff"/>
<path d="M327.6 159.8l3 3m0 -3l-3 3" stroke="#0000ff" stroke-width=".7"/>
<path d="M278.2 217.3l3 3m0 -3l-3 3" stroke="#0000ff" stroke-width=".7"/>
<circle cx="323.0" cy="170.2" r="2" stroke="#00ff00"/>
<circle cx="280.6" cy="217.1" r="2" stroke="#00ff00"/>
<circle cx="360.0" cy="190.3" r="2" stroke="#ffff00"/>
<circle cx="253.1" cy="226.5" r="2" stroke="#000000"/>
<path d="M252.2 221.7l2 2.4l-2 2.4l-2 -2.4z" stroke="#ff0000"/>
<circle cx="244.3" cy="228.1" r="2" stroke="#0000ff"/>
<path d="M265.9 223.0l2 2.4l-2 2.4l-2 -2.4z" stroke="#0000ff"/>
<circle cx="383.9" cy="152.2" r="2" stroke="#00ff00"/>
<path d="M363.9 145.6l3 3m0 -3l-3 3" stroke="#00ff00" stroke-width=".7"/>
<circle cx="333.4" cy="149.4" r="2" stroke="#00ff00"/>
<circle cx="256.9" cy="228.1" r="2" stroke="#0000ff"/>
<path d="M338.6 168.2l2 2.4l-2 2.4l-2 -2.4z" stroke="#000000"/>
<circle cx="286.8" cy="212.0" r="2" stroke="#0000ff"/>
<path d="M325.3 197.4l3 3m0 -3l-3 3" stroke="#ffff00" stroke-width=".7"/>
<circle cx="274.3" cy="214.6" r="2" stroke="#ffff00"/>
<circle cx="304.2" cy="215.3" r="2" stroke="#ff0000"/>
<circle cx="328.2" cy="170.9" r="2" stroke="#00ff00"/>
<path d="M390.8 102.1l3 3m0 -3l-3 3" stroke="#00ff00" stroke-width=".7"/>
<circle cx="313.1" cy="199.8" r="2" stroke="#ff0000"/>
<circle cx="284.3" cy="224.2" r="2" stroke="#000000"/>
<path d="M385.9 156.5l2 2.4l-2 2.4l-2 -2.4z" stroke="#ffff00"/>
<path d="M301.4 185.4l3 3m0 -3l-3 3" stroke="#000000" stroke-width=".7"/>
<path d="M391.4 109.6l3 3m0 -3l-3 3" stroke="#00ff00" stroke-width=".7"/>
<circle cx="251.0" cy="225.6" r="2" stroke="#ff0000"/>
<path d="M300.4 205.3l2 2.4l-2 2.4l-2 -2.4z" stroke="#000000"/>
<path d="M401.2 140.1l2 2.4l-2 2.4l-2 -2.4z" stroke="#ffff00"/>
<circle cx="241.5" cy="231.4" r="2" stroke="#0000ff"/>
<path d="M381.7 115.2l3 3m0 -3l-3 3" stroke="#00ff00" stroke-width=".7"/>
<circle cx="338.6" cy="154.0" r="2" stroke="#00ff00"/>
<path d="M333.8 147.1l3 3m0 -3l-3 3" stroke="#00ff00" stroke-width=".7"/>
<circle cx="252.1" cy="231.0" r="2" stroke="#ff0000"/>
<circle cx="285.6" cy="204.7" r="2" stroke="#ffff00"/>
<path d="M397.2 133.4l3 3m0 -3l-3 3" stroke="#00ff00" stroke-width=".7"/>
<path d="M347.0 162.6l3 3m0 -3l-3 3" stroke="#00ff00" stroke-width=".7"/>
<circle cx="251.2" cy="229.4" r="2" stroke="#0000ff"/>
<circle cx="244.6" cy="226.4" r="2" stroke="#0000ff"/>
<circle cx="272.6" cy="219.2" r="2" stroke="#ffff00"/>
<circle cx="331.2" cy="186.7" r="2" stroke="#ff0000"/>
<path d="M261.5 223.3l3 3m0 -3l-3 3" stroke="#0000ff" stroke-width=".7"/>
<path d="M255.5 223.3l2 2.4l-2 2.4l-2 -2.4z" stroke="#000000"/>
<path d="M309.5 211.9l2 2.4l-2 2.4l-2 -2.4z" stroke="#0000ff"/>
<circle cx="364.1" cy="152.3" r="2" stroke="#00ff00"/>
<path d="M386.8 126.1l3 3m0 -3l-3 3" stroke="#00ff00" stroke-width=".7"/>
<circle cx="302.6" cy="185.0" r="2" stroke="#ff0000"/>
<path d="M259.1 221.9l2 2.4l-2 2.4l-2 -2.4z" stroke="#0000ff"/>
<circle cx="240.8" cy="231.4" r="2" stroke="#ffff00"/>
<circle cx="325.4" cy="190.1" r="2" stroke="#0000ff"/>
<circle cx="315.0" cy="187.0" r="2" stroke="#ffff00"/>
<circle cx="375.0" cy="179.1" r="2" stroke="#000000"/>
<path d="M272.2 215.7l3 3m0 -3l-3 3" stroke="#0000ff" stroke-width=".7"/>
<circle cx="231.2" cy="228.6" r="2" stroke="#ffff00"/>
<path d="M381.2 122.7l3 3m0 -3l-3 3" stroke="#00ff00" stroke-width=".7"/>
<circle cx="270.6" cy="220.5" r="2" stroke="#ffff00"/>
<circle cx="279.8" cy="217.6" r="2" stroke="#ffff00"/>
<path d="M334.4 182.0l2 2.4l-2 2.4l-2 -2.4z" stroke="#ffff00"/>
<circle cx="269.3" cy="226.7" r="2" stroke="#0000ff"/>
<circle cx="273.4" cy="225.3" r="2" stroke="#0000ff"/>
<circle cx="342.5" cy="200.1" r="2" stroke="#000000"/>
<path d="M332.1 165.3l3 3m0 -3l-3 3" stroke="#00ff00" stroke-width=".7"/>
<path d="M353.7 141.4l3 3m0 -3l-3 3" stroke="#00ff00" stroke-width=".7"/>
<circle cx="363.8" cy="126.9" r="2" stroke="#00ff00"/>
<path d="M353.9 149.6l3 3m0 -3l-3 3" stroke="#00ff00" stroke-width=".7"/>
<path d="M252.1 225.9l3 3m0 -3l-3 3" stroke="#0000ff" stroke-width=".7"/>
<circle cx="385.8" cy="166.6" r="2" stroke="#ff0000"/>
<path d="M379.3 130.0l3 3m0 -3l-3 3" stroke="#00ff00" stroke-width=".7"/>
<path d="M271.0 222.1l3 3m0 -3l-3 3" stroke="#0000ff" stroke-width=".7"/>
<path d="M343.8 156.0l3 3m0 -3l-3 3" stroke="#00ff00" stroke-width=".7"/>
<circle cx="340.6" cy="155.9" r="2" stroke="#000000"/>
<path d="M285.6 221.2l2 2.4l-2 2.4l-2 -2.4z" stroke="#0000ff"/>
<circle cx="374.3" cy="182.0" r="2" stroke="#ff0000"/>
<circle cx="440.0" cy="119.0" r="2" stroke="#00ff00"/>
<path d="M341.2 146.1l3 3m0 -3l-3 3" stroke="#00ff00" stroke-width=".7"/>
<circle cx="318.7" cy="193.2" r="2" stroke="#ffff00"/>
<path d="M397.3 100.3l3 3m0 -3l-3 3" stroke="#00ff00" stroke-width=".7"/>
<circle cx="288.5" cy="211.1" r="2" stroke="#ff0000"/>
<circle cx="318.8" cy="200.7" r="2" stroke="#ffff00"/>
<path d="M369.6 135.6l3 3m0 -3l-3 3" stroke="#00ff00" stroke-width=".7"/>
<circle cx="261.2" cy="218.6" r="2" stroke="#000000"/>
<circle cx="379.6" cy="127.9" r="2" stroke="#00ff00"/>
<circle cx="257.0" cy="225.6" r="2" stroke="#0000ff"/>
<circle cx="401.0" cy="89.0" r="2" stroke="#ff0000"/>
<path d="M252.8 230.8l3 3m0 -3l-3 3" stroke="#0000ff" stroke-width=".7"/>
<circle cx="283.6" cy="211.6" r="2" stroke="#ff0000"/>
<circle cx="273.5" cy="222.4" r="2" stroke="#ffff00"/>
<circle cx="329.1" cy="186.2" r="2" stroke="#000000"/>
<path d="M278.0 204.0l2 2.4l-2 2.4l-2 -2.4z" stroke="#ff0000"/>
<circle cx="388.5" cy="136.5" r="2" stroke="#00ff00"/>
<circle cx="389.7" cy="156.1" r="2" stroke="#ff0000"/>
<circle cx="338.1" cy="183.5" r="2" stroke="#ff0000"/>
<circle cx="254.9" cy="229.4" r="2" stroke="#0000ff"/>
<circle cx="253.5" cy="230.8" r="2" stroke="#ffff00"/>
<circle cx="305.1" cy="198.8" r="2" stroke="#ff0000"/>
<circle cx="241.2" cy="230.7" r="2" stroke="#0000ff"/>
<circle cx="299.6" cy="190.8" r="2" stroke="#ff0000"/>
<circle cx="259.5" cy="222.9" r="2" stroke="#ff0000"/>
<path d="M320.3 160.5l3 3m0 -3l-3 3" stroke="#00ff00" stroke-width=".7"/>
<path d="M237.8 224.2l2 2.4l-2 2.4l-2 -2.4z" stroke="#0000ff"/>
<path d="M259.1 225.9l3 3m0 -3l-3 3" stroke="#ff0000" stroke-width=".7"/>
<circle cx="317.0" cy="213.1" r="2" stroke="#0000ff"/>
<circle cx="251.1" cy="228.2" r="2" stroke="#ff0000"/>
<circle cx="346.7" cy="192.7" r="2" stroke="#ff0000"/>
<circle cx="313.4" cy="211.9" r="2" stroke="#ff0000"/>
<path d="M339.4 148.9l2 2.4l-2 2.4l-2 -2.4z" stroke="#000000"/>
<path d="M344.1 147.1l3 3m0 -3l-3 3" stroke="#00ff00" stroke-width=".7"/>
<circle cx="394.9" cy="115.8" r="2" stroke="#00ff00"/>
<circle cx="378.7" cy="161.3" r="2" stroke="#00ff00"/>
<path d="M398.0 143.7l3 3m0 -3l-3 3" stroke="#00ff00" stroke-width=".7"/>
<circle cx="371.2" cy="176.7" r="2" stroke="#ff0000"/>
<path d="M358.5 135.6l3 3m0 -3l-3 3" stroke="#00ff00" stroke-width=".7"/>
<circle cx="296.4" cy="193.8" r="2" stroke="#ff0000"/>
<circle cx="373.5" cy="182.9" r="2" stroke="#000000"/>
<path d="M330.5 201.1l3 3m0 -3l-3 3" stroke="#00ff00" stroke-width=".7"/>
<circle cx="383.2" cy="157.9" r="2" stroke="#000000"/>
<path d="M266.6 223.2l3 3m0 -3l-3 3" stroke="#0000ff" stroke-width=".7"/>
<path d="M364.7 158.8l3 3m0 -3l-3 3" stroke="#00ff00" stroke-width=".7"/>
<circle cx="325.6" cy="206.7" r="2" stroke="#0000ff"/>
<path d="M294.8 188.1l2 2.4l-2 2.4l-2 -2.4z" stroke="#ff0000"/>
<path d="M242.8 226.7l2 2.4l-2 2.4l-2 -2.4z" stroke="#ff0000"/>
<path d="M248.5 225.8l2 2.4l-2 2.4l-2 -2.4z" stroke="#0000ff"/>
<circle cx="420.0" cy="116.0" r="2" stroke="#ff0000"/>
<path d="M326.4 200.8l3 3m0 -3l-3 3" stroke="#ffff00" stroke-width=".7"/>
<path d="M362.9 118.4l3 3m0 -3l-3 3" stroke="#00ff00" stroke-width=".7"/>
<path d="M341.4 144.3l3 3m0 -3l-3 3" stroke="#00ff00" stroke-width=".7"/>
<path d="M378.8 122.8l3 3m0 -3l-3 3" stroke="#00ff00" stroke-width=".7"/>
<path d="M305.7 176.1l3 3m0 -3l-3 3" stroke="#000000" stroke-width=".7"/>
<circle cx="354.4" cy="150.6" r="2" stroke="#00ff00"/>
<path d="M348.9 159.5l3 3m0 -3l-3 3" stroke="#00ff00" stroke-width=".7"/>
<circle cx="288.6" cy="219.7" r="2" stroke="#0000ff"/>
<circle cx="255.2" cy="224.6" r="2" stroke="#000000"/>
<path d="M276.6 224.4l3 3m0 -3l-3 3" stroke="#0000ff" stroke-width=".7"/>
<path d="M274.8 204.8l2 2.4l-2 2.4l-2 -2.4z" stroke="#ff0000"/>
<circle cx="229.7" cy="228.8" r="2" stroke="#ffff00"/>
<circle cx="242.8" cy="226.0" r="2" stroke="#000000"/>
<path d="M357.6 142.7l3 3m0 -3l-3 3" stroke="#00ff00" stroke-width=".7"/>
<path d="M368.2 127.3l3 3m0 -3l-3 3" stroke="#00ff00" stroke-width=".7"/>
<circle cx="249.2" cy="228.4" r="2" stroke="#000000"/>
<path d="M384.1 119.4l3 3m0 -3l-3 3" stroke="#00ff00" stroke-width=".7"/>
<path d="M280.2 218.0l2 2.4l-2 2.4l-2 -2.4z" stroke="#ff0000"/>
<path d="M256.0 220.5l2 2.4l-2 2.4l-2 -2.4z" stroke="#000000"/>
<circle cx="302.3" cy="211.6" r="2" stroke="#ffff00"/>
<circle cx="321.0" cy="128.0" r="2" stroke="#ff0000"/>
<path d="M316.4 210.4l2 2.4l-2 2.4l-2 -2.4z" stroke="#000000"/>
<path d="M295.5 218.3l2 2.4l-2 2.4l-2 -2.4z" stroke="#0000ff"/>
<circle cx="359.4" cy="186.3" r="2" stroke="#ffff00"/>
<path d="M240.3 229.8l2 2.4l-2 2.4l-2 -2.4z" stroke="#0000ff"/>
<path d="M351.3 121.2l3 3m0 -3l-3 3" stroke="#00ff00" stroke-width=".7"/>
<circle cx="366.6" cy="152.7" r="2" stroke="#00ff00"/>
<path d="M366.1 148.3l3 3m0 -3l-3 3" stroke="#00ff00" stroke-width=".7"/>
<circle cx="280.5" cy="213.3" r="2" stroke="#ffff00"/>
<path d="M245.3 224.8l2 2.4l-2 2.4l-2 -2.4z" stroke="#0000ff"/>
<circle cx="359.0" cy="158.6" r="2" stroke="#00ff00"/>
<path d="M339.6 200.9l2 2.4l-2 2.4l-2 -2.4z" stroke="#ffff00"/>
<path d="M261.3 219.9l2 2.4l-2 2.4l-2 -2.4z" stroke="#000000"/>
<circle cx="281.6" cy="216.3" r="2" stroke="#000000"/>
<circle cx="335.2" cy="147.8" r="2" stroke="#00ff00"/>
<circle cx="298.6" cy="209.7" r="2" stroke="#ff0000"/>
<circle cx="362.9" cy="155.7" r="2" stroke="#ff0000"/>
<circle cx="249.2" cy="228.0" r="2" stroke="#000000"/>
<circle cx="298.3" cy="187.1" r="2" stroke="#0000ff"/>
<circle cx="372.7" cy="161.9" r="2" stroke="#ffff00"/>
<circle cx="253.9" cy="227.2" r="2" stroke="#000000"/>
<path d="M274.5 214.8l3 3m0 -3l-3 3" stroke="#ffff00" stroke-width=".7"/>
<circle cx="263.3" cy="218.4" r="2" stroke="#ff0000"/>
<path d="M382.6 121.4l3 3m0 -3l-3 3" stroke="#00ff00" stroke-width=".7"/>
<circle cx="371.4" cy="129.5" r="2" stroke="#000000"/>
<circle cx="310.7" cy="198.5" r="2" stroke="#ffff00"/>
<circle cx="270.5" cy="211.8" r="2" stroke="#ff0000"/>
<circle cx="369.7" cy="134.3" r="2" stroke="#00ff00"/>
<circle cx="337.6" cy="159.6" r="2" stroke="#ffff00"/>
<path d="M318.8 164.7l3 3m0 -3l-3 3" stroke="#00ff00" stroke-width=".7"/>
<circle cx="325.0" cy="206.1" r="2" stroke="#ffff00"/>
<circle cx="308.8" cy="212.2" r="2" stroke="#0000ff"/>
<circle cx="349.6" cy="168.6" r="2" stroke="#00ff00"/>
<circle cx="385.5" cy="99.0" r="2" stroke="#000000"/>
<circle cx="356.4" cy="159.5" r="2" stroke="#00ff00"/>
<circle cx="397.6" cy="131.8" r="2" stroke="#00ff00"/>
<path d="M383.3 115.3l3 3m0 -3l-3 3" stroke="#00ff00" stroke-width=".7"/>
<circle cx="255.7" cy="227.0" r="2" stroke="#0000ff"/>
<circle cx="321.8" cy="169.1" r="2" stroke="#00ff00"/>
<circle cx="319.7" cy="210.3" r="2" stroke="#ffff00"/>
<circle cx="241.4" cy="227.9" r="2" stroke="#0000ff"/>
<path d="M329.1 194.4l2 2.4l-2 2.4l-2 -2.4z" stroke="#ffff00"/>
<path d="M282.8 212.0l3 3m0 -3l-3 3" stroke="#ffff00" stroke-width=".7"/>
<circle cx="420.0" cy="131.0" r="2" stroke="#00ff00"/>
<path d="M357.4 166.0l3 3m0 -3l-3 3" stroke="#00ff00" stroke-width=".7"/>
<circle cx="332.5" cy="155.0" r="2" stroke="#00ff00"/>
<circle cx="297.2" cy="195.0" r="2" stroke="#ff0000"/>
<path d="M268.1 217.5l3 3m0 -3l-3 3" stroke="#ffff00" stroke-width=".7"/>
<path d="M363.7 173.7l3 3m0 -3l-3 3" stroke="#ffff00" stroke-width=".7"/>
<path d="M371.2 159.5l3 3m0 -3l-3 3" stroke="#00ff00" stroke-width=".7"/>
<circle cx="274.7" cy="217.4" r="2" stroke="#ffff00"/>
<circle cx="318.5" cy="191.7" r="2" stroke="#00ff00"/>
<circle cx="370.2" cy="184.6" r="2" stroke="#ff0000"/>
<path d="M342.0 154.2l3 3m0 -3l-3 3" stroke="#00ff00" stroke-width=".7"/>
<path d="M295.0 186.6l3 3m0 -3l-3 3" stroke="#00ff00" stroke-width=".7"/>
<path d="M397.1 136.5l3 3m0 -3l-3 3" stroke="#00ff00" stroke-width=".7"/>
<circle cx="280.6" cy="206.9" r="2" stroke="#ff0000"/>
<path d="M233.5 227.8l2 2.4l-2 2.4l-2 -2.4z" stroke="#ffff00"/>
<path d="M272.7 209.0l2 2.4l-2 2.4l-2 -2.4z" stroke="#000000"/>
<circle cx="403.6" cy="129.2" r="2" stroke="#00ff00"/>
<circle cx="282.6" cy="216.7" r="2" stroke="#ffff00"/>
<circle cx="269.1" cy="216.5" r="2" stroke="#ff0000"/>
<circle cx="307.3" cy="205.9" r="2" stroke="#000000"/>
<path d="M268.8 212.2l2 2.4l-2 2.4l-2 -2.4z" stroke="#ff0000"/>
<circle cx="376.9" cy="181.4" r="2" stroke="#ffff00"/>
<path d="M338.6 160.3l3 3m0 -3l-3 3" stroke="#00ff00" stroke-width=".7"/>
<path d="M288.6 195.9l3 3m0 -3l-3 3" stroke="#000000" stroke-width=".7"/>
<circle cx="259.0" cy="223.7" r="2" stroke="#000000"/>
<circle cx="248.5" cy="226.6" r="2" stroke="#0000ff"/>
<circle cx="244.6" cy="229.6" r="2" stroke="#0000ff"/>
<circle cx="229.4" cy="231.9" r="2" stroke="#0000ff"/>
<circle cx="284.8" cy="212.6" r="2" stroke="#ff0000"/>
<path d="M289.5 195.6l2 2.4l-2 2.4l-2 -2.4z" stroke="#000000"/>
<path d="M323.7 197.7l3 3m0 -3l-3 3" stroke="#000000" stroke-width=".7"/>
<path d="M385.2 159.7l2 2.4l-2 2.4l-2 -2.4z" stroke="#ff0000"/>
<path d="M302.5 189.0l3 3m0 -3l-3 3" stroke="#000000" stroke-width=".7"/>
<path d="M344.5 164.2l3 3m0 -3l-3 3" stroke="#00ff00" stroke-width=".7"/>
<path d="M351.7 155.5l3 3m0 -3l-3 3" stroke="#00ff00" stroke-width=".7"/>
<circle cx="306.6" cy="195.0" r="2" stroke="#ff0000"/>
<path d="M368.8 154.3l3 3m0 -3l-3 3" stroke="#ff0000" stroke-width=".7"/>
<circle cx="276.2" cy="212.9" r="2" stroke="#ffff00"/>
<path d="M287.3 192.3l2 2.4l-2 2.4l-2 -2.4z" stroke="#000000"/>
<circle cx="293.2" cy="216.2" r="2" stroke="#ffff00"/>
<circle cx="332.2" cy="177.8" r="2" stroke="#000000"/>
<circle cx="355.1" cy="154.5" r="2" stroke="#00ff00"/>
<circle cx="284.5" cy="206.9" r="2" stroke="#ffff00"/>
<circle cx="353.9" cy="139.0" r="2" stroke="#000000"/>
<path d="M262.5 226.1l2 2.4l-2 2.4l-2 -2.4z" stroke="#0000ff"/>
<path d="M334.1 156.5l3 3m0 -3l-3 3" stroke="#00ff00" stroke-width=".7"/>
<circle cx="374.9" cy="149.5" r="2" stroke="#00ff00"/>
<circle cx="244.8" cy="230.6" r="2" stroke="#0000ff"/>
<circle cx="382.2" cy="159.0" r="2" stroke="#ff0000"/>
<path d="M337.0 194.2l2 2.4l-2 2.4l-2 -2.4z" stroke="#000000"/>
<path d="M349.0 179.4l3 3m0 -3l-3 3" stroke="#000000" stroke-width=".7"/>
<path d="M415.6 120.8l3 3m0 -3l-3 3" stroke="#00ff00" stroke-width=".7"/>
<path d="M295.2 189.0l3 3m0 -3l-3 3" stroke="#ffff00" stroke-width=".7"/>
<circle cx="288.9" cy="194.9" r="2" stroke="#ff0000"/>
<circle cx="252.2" cy="226.7" r="2" stroke="#000000"/>
<circle cx="235.5" cy="228.5" r="2" stroke="#ffff00"/>
<path d="M240.1 229.7l3 3m0 -3l-3 3" stroke="#0000ff" stroke-width=".7"/>
<path d="M312.4 203.0l3 3m0 -3l-3 3" stroke="#ff0000" stroke-width=".7"/>
<circle cx="396.7" cy="156.7" r="2" stroke="#ff0000"/>
<circle cx="264.4" cy="229.1" r="2" stroke="#0000ff"/>
<path d="M301.3 187.1l3 3m0 -3l-3 3" stroke="#00ff00" stroke-width=".7"/>
<circle cx="312.9" cy="207.6" r="2" stroke="#ffff00"/>
<circle cx="262.8" cy="218.2" r="2" stroke="#000000"/>
<circle cx="362.7" cy="150.0" r="2" stroke="#00ff00"/>
<path d="M358.9 186.7l3 3m0 -3l-3 3" stroke="#ff0000" stroke-width=".7"/>
<path d="M338.2 142.5l3 3m0 -3l-3 3" stroke="#00ff00" stroke-width=".7"/>
<circle cx="381.5" cy="152.7" r="2" stroke="#00ff00"/>
<circle cx="359.7" cy="144.7" r="2" stroke="#00ff00"/>
<path d="M349.5 176.3l3 3m0 -3l-3 3" stroke="#00ff00" stroke-width=".7"/>
<path d="M280.8 205.5l2 2.4l-2 2.4l-2 -2.4z" stroke="#ffff00"/>
<circle cx="345.1" cy="163.4" r="2" stroke="#00ff00"/>
<circle cx="376.4" cy="149.9" r="2" stroke="#00ff00"/>
<circle cx="378.8" cy="133.3" r="2" stroke="#00ff00"/>
<circle cx="287.8" cy="214.3" r="2" stroke="#ff0000"/>
<circle cx="373.4" cy="146.7" r="2" stroke="#00ff00"/>
<path d="M229.0 226.7l3 3m0 -3l-3 3" stroke="#ffff00" stroke-width=".7"/>
<path d="M369.6 129.0l3 3m0 -3l-3 3" stroke="#00ff00" stroke-width=".7"/>
<path d="M341.5 139.5l3 3m0 -3l-3 3" stroke="#00ff00" stroke-width=".7"/>
<path d="M268.8 210.6l3 3m0 -3l-3 3" stroke="#000000" stroke-width=".7"/>
<circle cx="241.4" cy="227.5" r="2" stroke="#0000ff"/>
<path d="M296.6 210.0l3 3m0 -3l-3 3" stroke="#ffff00" stroke-width=".7"/>
<circle cx="321.8" cy="170.0" r="2" stroke="#00ff00"/>
<circle cx="258.1" cy="224.5" r="2" stroke="#000000"/>
<circle cx="298.2" cy="199.1" r="2" stroke="#ffff00"/>
<circle cx="278.9" cy="206.7" r="2" stroke="#ff0000"/>
<circle cx="239.2" cy="228.3" r="2" stroke="#ffff00"/>
<circle cx="360.9" cy="163.7" r="2" stroke="#00ff00"/>
<circle cx="236.5" cy="229.2" r="2" stroke="#ffff00"/>
<path d="M263.6 226.9l2 2.4l-2 2.4l-2 -2.4z" stroke="#ff0000"/>
<circle cx="286.9" cy="221.1" r="2" stroke="#0000ff"/>
<circle cx="309.1" cy="168.2" r="2" stroke="#ff0000"/>
<circle cx="272.7" cy="207.4" r="2" stroke="#ff0000"/>
<path d="M353.8 186.7l3 3m0 -3l-3 3" stroke="#ffff00" stroke-width=".7"/>
<circle cx="273.3" cy="208.1" r="2" stroke="#000000"/>
<circle cx="265.3" cy="227.2" r="2" stroke="#0000ff"/>
<circle cx="318.4" cy="192.1" r="2" stroke="#000000"/>
<path d="M376.8 137.9l3 3m0 -3l-3 3" stroke="#00ff00" stroke-width=".7"/>
<circle cx="392.4" cy="171.1" r="2" stroke="#ffff00"/>
<path d="M228.3 227.7l3 3m0 -3l-3 3" stroke="#ffff00" stroke-width=".7"/>
<path d="M402.2 153.7l2 2.4l-2 2.4l-2 -2.4z" stroke="#ffff00"/>
<path d="M374.8 144.8l3 3m0 -3l-3 3" stroke="#00ff00" stroke-width=".7"/>
<circle cx="238.3" cy="225.4" r="2" stroke="#ffff00"/>
<circle cx="301.2" cy="216.5" r="2" stroke="#ffff00"/>
<path d="M291.1 192.4l2 2.4l-2 2.4l-2 -2.4z" stroke="#ff0000"/>
<circle cx="384.2" cy="107.9" r="2" stroke="#ffff00"/>
<path d="M247.1 228.0l3 3m0 -3l-3 3" stroke="#0000ff" stroke-width=".7"/>
<circle cx="405.0" cy="106.0" r="2" stroke="#000000"/>
<path d="M250.7 222.9l2 2.4l-2 2.4l-2 -2.4z" stroke="#000000"/>
<path d="M302.7 196.9l2 2.4l-2 2.4l-2 -2.4z" stroke="#000000"/>
<path d="M267.6 217.6l2 2.4l-2 2.4l-2 -2.4z" stroke="#000000"/>
<path d="M268.0 209.0l3 3m0 -3l-3 3" stroke="#ffff00" stroke-width=".7"/>
<path d="M309.7 180.9l3 3m0 -3l-3 3" stroke="#00ff00" stroke-width=".7"/>
<path d="M289.2 192.3l3 3m0 -3l-3 3" stroke="#000000" stroke-width=".7"/>
<path d="M242.1 229.2l3 3m0 -3l-3 3" stroke="#0000ff" stroke-width=".7"/>
<path d="M387.6 116.2l3 3m0 -3l-3 3" stroke="#00ff00" stroke-width=".7"/>
<path d="M385.6 160.9l3 3m0 -3l-3 3" stroke="#00ff00" stroke-width=".7"/>
<circle cx="273.9" cy="227.7" r="2" stroke="#0000ff"/>
<circle cx="373.4" cy="174.3" r="2" stroke="#ff0000"/>
<path d="M300.6 213.3l3 3m0 -3l-3 3" stroke="#0000ff" stroke-width=".7"/>
<circle cx="385.0" cy="110.3" r="2" stroke="#00ff00"/>
<path d="M276.9 218.7l2 2.4l-2 2.4l-2 -2.4z" stroke="#0000ff"/>
<path d="M385.2 115.2l3 3m0 -3l-3 3" stroke="#00ff00" stroke-width=".7"/>
<path d="M393.1 130.4l3 3m0 -3l-3 3" stroke="#00ff00" stroke-width=".7"/>
<circle cx="230.4" cy="231.0" r="2" stroke="#ffff00"/>
<circle cx="243.3" cy="230.3" r="2" stroke="#0000ff"/>
<circle cx="378.9" cy="164.9" r="2" stroke="#ff0000"/>
<path d="M285.7 215.0l3 3m0 -3l-3 3" stroke="#ff0000" stroke-width=".7"/>
<path d="M348.0 141.9l3 3m0 -3l-3 3" stroke="#00ff00" stroke-width=".7"/>
<circle cx="307.6" cy="214.1" r="2" stroke="#ff0000"/>
<circle cx="319.7" cy="180.8" r="2" stroke="#ffff00"/>
<circle cx="304.0" cy="200.7" r="2" stroke="#ff0000"/>
<circle cx="349.8" cy="177.4" r="2" stroke="#ff0000"/>
<circle cx="292.4" cy="202.9" r="2" stroke="#ffff00"/>
<circle cx="355.4" cy="136.6" r="2" stroke="#000000"/>
<path d="M385.0 112.8l3 3m0 -3l-3 3" stroke="#00ff00" stroke-width=".7"/>
<path d="M372.2 117.6l3 3m0 -3l-3 3" stroke="#00ff00" stroke-width=".7"/>
<path d="M329.3 175.0l3 3m0 -3l-3 3" stroke="#00ff00" stroke-width=".7"/>
<circle cx="329.0" cy="150.6" r="2" stroke="#000000"/>
<path d="M357.1 142.3l3 3m0 -3l-3 3" stroke="#00ff00" stroke-width=".7"/>
<path d="M330.2 189.6l3 3m0 -3l-3 3" stroke="#00ff00" stroke-width=".7"/>
<circle cx="283.3" cy="216.1" r="2" stroke="#000000"/>
<circle cx="299.4" cy="185.7" r="2" stroke="#0000ff"/>
<path d="M247.4 229.7l2 2.4l-2 2.4l-2 -2.4z" stroke="#0000ff"/>
<path d="M302.5 212.7l2 2.4l-2 2.4l-2 -2.4z" stroke="#0000ff"/>
<path d="M343.8 147.4l2 2.4l-2 2.4l-2 -2.4z" stroke="#000000"/>
<path d="M256.5 222.0l2 2.4l-2 2.4l-2 -2.4z" stroke="#000000"/>
<path d="M325.3 162.8l3 3m0 -3l-3 3" stroke="#00ff00" stroke-width=".7"/>
<circle cx="354.4" cy="166.0" r="2" stroke="#00ff00"/>
<circle cx="255.9" cy="226.5" r="2" stroke="#0000ff"/>
<circle cx="266.6" cy="222.8" r="2" stroke="#ff0000"/>
<path d="M319.6 163.5l3 3m0 -3l-3 3" stroke="#00ff00" stroke-width=".7"/>
<circle cx="248.0" cy="227.6" r="2" stroke="#0000ff"/>
<circle cx="351.4" cy="157.3" r="2" stroke="#00ff00"/>
<path d="M394.9 108.8l3 3m0 -3l-3 3" stroke="#00ff00" stroke-width=".7"/>
<path d="M365.8 129.5l3 3m0 -3l-3 3" stroke="#00ff00" stroke-width=".7"/>
<path d="M259.7 219.1l3 3m0 -3l-3 3" stroke="#000000" stroke-width=".7"/>
<path d="M311.1 195.4l3 3m0 -3l-3 3" stroke="#000000" stroke-width=".7"/>
<path d="M343.1 135.5l2 2.4l-2 2.4l-2 -2.4z" stroke="#0000ff"/>
<circle cx="372.0" cy="182.5" r="2" stroke="#ff0000"/>
<path d="M322.1 161.3l3 3m0 -3l-3 3" stroke="#00ff00" stroke-width=".7"/>
<path d="M281.1 212.0l2 2.4l-2 2.4l-2 -2.4z" stroke="#ffff00"/>
<circle cx="232.2" cy="229.6" r="2" stroke="#ffff00"/>
<path d="M360.3 179.6l3 3m0 -3l-3 3" stroke="#ff0000" stroke-width=".7"/>
<path d="M291.7 214.4l2 2.4l-2 2.4l-2 -2.4z" stroke="#0000ff"/>
<circle cx="297.5" cy="218.6" r="2" stroke="#0000ff"/>
<path d="M280.3 214.1l2 2.4l-2 2.4l-2 -2.4z" stroke="#ffff00"/>
<path d="M310.0 202.7l3 3m0 -3l-3 3" stroke="#ffff00" stroke-width=".7"/>
<circle cx="277.3" cy="207.8" r="2" stroke="#ff0000"/>
<path d="M331.1 173.4l3 3m0 -3l-3 3" stroke="#00ff00" stroke-width=".7"/>
<circle cx="249.9" cy="232.5" r="2" stroke="#0000ff"/>
<circle cx="311.6" cy="214.4" r="2" stroke="#000000"/>
<circle cx="267.3" cy="222.7" r="2" stroke="#0000ff"/>
<path d="M291.1 191.9l3 3m0 -3l-3 3" stroke="#ffff00" stroke-width=".7"/>
<circle cx="339.4" cy="163.7" r="2" stroke="#00ff00"/>
<circle cx="367.2" cy="184.9" r="2" stroke="#00ff00"/>
<path d="M323.6 155.3l3 3m0 -3l-3 3" stroke="#00ff00" stroke-width=".7"/>
<path d="M336.4 183.6l2 2.4l-2 2.4l-2 -2.4z" stroke="#ffff00"/>
<path d="M311.8 177.0l3 3m0 -3l-3 3" stroke="#ff0000" stroke-width=".7"/>
<circle cx="337.9" cy="182.6" r="2" stroke="#ff0000"/>
<path d="M355.8 150.0l3 3m0 -3l-3 3" stroke="#00ff00" stroke-width=".7"/>
<path d="M365.4 147.1l3 3m0 -3l-3 3" stroke="#00ff00" stroke-width=".7"/>
<path d="M355.4 187.1l2 2.4l-2 2.4l-2 -2.4z" stroke="#000000"/>
<path d="M266.4 217.7l3 3m0 -3l-3 3" stroke="#ff0000" stroke-width=".7"/>
<path d="M283.1 199.5l2 2.4l-2 2.4l-2 -2.4z" stroke="#ff0000"/>
<circle cx="267.0" cy="227.7" r="2" stroke="#0000ff"/>
<circle cx="363.3" cy="182.0" r="2" stroke="#ffff00"/>
<path d="M378.7 152.8l3 3m0 -3l-3 3" stroke="#00ff00" stroke-width=".7"/>
<circle cx="235.3" cy="230.3" r="2" stroke="#0000ff"/>
<path d="M294.5 195.6l2 2.4l-2 2.4l-2 -2.4z" stroke="#ffff00"/>
<circle cx="270.3" cy="218.3" r="2" stroke="#ff0000"/>
<circle cx="282.7" cy="222.9" r="2" stroke="#0000ff"/>
<path d="M335.7 182.7l2 2.4l-2 2.4l-2 -2.4z" stroke="#ffff00"/>
<circle cx="346.3" cy="187.9" r="2" stroke="#ff0000"/>
<circle cx="297.8" cy="194.0" r="2" stroke="#000000"/>
<path d="M324.7 155.0l3 3m0 -3l-3 3" stroke="#00ff00" stroke-width=".7"/>
<path d="M276.1 204.3l2 2.4l-2 2.4l-2 -2.4z" stroke="#000000"/>
<circle cx="307.5" cy="202.9" r="2" stroke="#00ff00"/>
<path d="M315.7 167.8l3 3m0 -3l-3 3" stroke="#00ff00" stroke-width=".7"/>
<circle cx="431.0" cy="117.0" r="2" stroke="#00ff00"/>
<circle cx="283.4" cy="216.6" r="2" stroke="#000000"/>
<circle cx="247.3" cy="229.4" r="2" stroke="#ffff00"/>
<path d="M347.6 151.0l3 3m0 -3l-3 3" stroke="#00ff00" stroke-width=".7"/>
<circle cx="268.4" cy="219.4" r="2" stroke="#000000"/>
<circle cx="392.2" cy="131.4" r="2" stroke="#ff0000"/>
<circle cx="310.8" cy="187.3" r="2" stroke="#ffff00"/>
<path d="M316.9 165.9l2 2.4l-2 2.4l-2 -2.4z" stroke="#000000"/>
<path d="M379.2 144.6l3 3m0 -3l-3 3" stroke="#00ff00" stroke-width=".7"/>
<path d="M362.3 120.7l3 3m0 -3l-3 3" stroke="#00ff00" stroke-width=".7"/>
<circle cx="243.8" cy="226.5" r="2" stroke="#0000ff"/>
<path d="M405.7 99.2l3 3m0 -3l-3 3" stroke="#00ff00" stroke-width=".7"/>
<path d="M295.3 199.3l3 3m0 -3l-3 3" stroke="#00ff00" stroke-width=".7"/>
<path d="M273.7 204.9l3 3m0 -3l-3 3" stroke="#ff0000" stroke-width=".7"/>
<circle cx="275.0" cy="215.8" r="2" stroke="#ff0000"/>
<circle cx="234.6" cy="230.4" r="2" stroke="#ffff00"/>
<circle cx="380.5" cy="107.2" r="2" stroke="#00ff00"/>
<circle cx="386.8" cy="150.5" r="2" stroke="#ff0000"/>
<path d="M235.0 226.7l2 2.4l-2 2.4l-2 -2.4z" stroke="#ffff00"/>
<circle cx="304.7" cy="191.5" r="2" stroke="#ffff00"/>
<circle cx="296.9" cy="202.5" r="2" stroke="#ff0000"/>
<circle cx="296.8" cy="185.1" r="2" stroke="#ff0000"/>
<path d="M319.9 209.2l3 3m0 -3l-3 3" stroke="#ffff00" stroke-width=".7"/>
<circle cx="299.5" cy="200.1" r="2" stroke="#ffff00"/>
<path d="M265.1 228.0l3 3m0 -3l-3 3" stroke="#0000ff" stroke-width=".7"/>
<circle cx="378.6" cy="125.5" r="2" stroke="#00ff00"/>
<path d="M240.9 227.0l3 3m0 -3l-3 3" stroke="#ff0000" stroke-width=".7"/>
<circle cx="296.0" cy="209.4" r="2" stroke="#ff0000"/>
<circle cx="260.4" cy="228.2" r="2" stroke="#0000ff"/>
<path d="M387.2 115.7l3 3m0 -3l-3 3" stroke="#00ff00" stroke-width=".7"/>
<circle cx="237.8" cy="230.2" r="2" stroke="#ffff00"/>
<circle cx="297.1" cy="202.5" r="2" stroke="#000000"/>
<path d="M349.6 173.3l2 2.4l-2 2.4l-2 -2.4z" stroke="#0000ff"/>
<circle cx="291.1" cy="212.3" r="2" stroke="#ffff00"/>
<circle cx="461.0" cy="116.0" r="2" stroke="#00ff00"/>
<path d="M279.7 216.2l3 3m0 -3l-3 3" stroke="#00ff00" stroke-width=".7"/>
<path d="M242.4 228.1l2 2.4l-2 2.4l-2 -2.4z" stroke="#0000ff"/>
<path d="M373.9 172.5l3 3m0 -3l-3 3" stroke="#00ff00" stroke-width=".7"/>
<path d="M377.7 174.3l3 3m0 -3l-3 3" stroke="#000000" stroke-width=".7"/>
<circle cx="285.6" cy="223.1" r="2" stroke="#0000ff"/>
<circle cx="396.9" cy="135.4" r="2" stroke="#000000"/>
<path d="M248.9 226.2l3 3m0 -3l-3 3" stroke="#ffff00" stroke-width=".7"/>
<path d="M241.7 225.0l2 2.4l-2 2.4l-2 -2.4z" stroke="#0000ff"/>
<path d="M374.0 157.3l3 3m0 -3l-3 3" stroke="#00ff00" stroke-width=".7"/>
<circle cx="248.7" cy="228.8" r="2" stroke="#0000ff"/>
<circle cx="235.0" cy="230.9" r="2" stroke="#ffff00"/>
<circle cx="308.8" cy="199.9" r="2" stroke="#000000"/>
<path d="M329.1 152.2l3 3m0 -3l-3 3" stroke="#00ff00" stroke-width=".7"/>
<circle cx="390.4" cy="162.2" r="2" stroke="#ff0000"/>
<path d="M234.5 228.8l3 3m0 -3l-3 3" stroke="#ffff00" stroke-width=".7"/>
<circle cx="339.1" cy="186.9" r="2" stroke="#000000"/>
<path d="M352.8 144.9l3 3m0 -3l-3 3" stroke="#00ff00" stroke-width=".7"/>
<circle cx="398.0" cy="146.0" r="2" stroke="#ff0000"/>
<circle cx="285.0" cy="205.4" r="2" stroke="#ff0000"/>
<circle cx="301.9" cy="202.6" r="2" stroke="#0000ff"/>
<circle cx="251.5" cy="229.2" r="2" stroke="#0000ff"/>
<path d="M342.0 191.6l2 2.4l-2 2.4l-2 -2.4z" stroke="#0000ff"/>
<circle cx="331.1" cy="183.8" r="2" stroke="#ffff00"/>
<path d="M370.0 174.0l3 3m0 -3l-3 3" stroke="#ffff00" stroke-width=".7"/>
<path d="M391.2 125.3l3 3m0 -3l-3 3" stroke="#00ff00" stroke-width=".7"/>
<path d="M256.6 218.6l2 2.4l-2 2.4l-2 -2.4z" stroke="#000000"/>
<circle cx="316.8" cy="212.7" r="2" stroke="#ffff00"/>
<path d="M249.7 226.3l3 3m0 -3l-3 3" stroke="#000000" stroke-width=".7"/>
<path d="M358.7 175.2l3 3m0 -3l-3 3" stroke="#000000" stroke-width=".7"/>
<circle cx="237.7" cy="228.7" r="2" stroke="#0000ff"/>
<path d="M292.0 205.3l2 2.4l-2 2.4l-2 -2.4z" stroke="#000000"/>
<path d="M391.6 131.0l3 3m0 -3l-3 3" stroke="#00ff00" stroke-width=".7"/>
<circle cx="255.1" cy="223.3" r="2" stroke="#000000"/>
<circle cx="317.6" cy="201.8" r="2" stroke="#ff0000"/>
<path d="M288.6 217.5l3 3m0 -3l-3 3" stroke="#0000ff" stroke-width=".7"/>
<circle cx="332.5" cy="204.1" r="2" stroke="#000000"/>
<circle cx="296.9" cy="200.5" r="2" stroke="#000000"/>
<circle cx="252.5" cy="226.1" r="2" stroke="#000000"/>
<circle cx="273.0" cy="210.1" r="2" stroke="#ff0000"/>
<circle cx="417.0" cy="123.0" r="2" stroke="#ff0000"/>
<circle cx="385.9" cy="138.7" r="2" stroke="#0000ff"/>
<circle cx="292.9" cy="213.7" r="2" stroke="#000000"/>
<path d="M345.8 157.7l3 3m0 -3l-3 3" stroke="#00ff00" stroke-width=".7"/>
<path d="M241.9 231.0l2 2.4l-2 2.4l-2 -2.4z" stroke="#0000ff"/>
<circle cx="366.4" cy="189.4" r="2" stroke="#000000"/>
<circle cx="248.7" cy="228.7" r="2" stroke="#ff0000"/>
<path d="M245.1 230.7l3 3m0 -3l-3 3" stroke="#0000ff" stroke-width=".7"/>
<circle cx="290.9" cy="207.6" r="2" stroke="#ff0000"/>
<circle cx="248.3" cy="229.6" r="2" stroke="#0000ff"/>
<path d="M325.7 176.1l2 2.4l-2 2.4l-2 -2.4z" stroke="#000000"/>
<path d="M288.8 201.3l2 2.4l-2 2.4l-2 -2.4z" stroke="#000000"/>
<circle cx="300.2" cy="188.7" r="2" stroke="#ffff00"/>
<path d="M330.9 166.8l3 3m0 -3l-3 3" stroke="#00ff00" stroke-width=".7"/>
<circle cx="308.9" cy="205.4" r="2" stroke="#ff0000"/>
<circle cx="348.9" cy="183.9" r="2" stroke="#ffff00"/>
<circle cx="439.5" cy="129.5" r="2" stroke="#000000"/>
<circle cx="241.3" cy="231.3" r="2" stroke="#0000ff"/>
<path d="M331.3 173.3l3 3m0 -3l-3 3" stroke="#00ff00" stroke-width=".7"/>
<path d="M360.8 190.9l3 3m0 -3l-3 3" stroke="#000000" stroke-width=".7"/>
<circle cx="248.4" cy="226.3" r="2" stroke="#0000ff"/>
<path d="M291.6 193.3l3 3m0 -3l-3 3" stroke="#ffff00" stroke-width=".7"/>
<path d="M249.4 223.7l2 2.4l-2 2.4l-2 -2.4z" stroke="#000000"/>
<circle cx="281.9" cy="205.8" r="2" stroke="#ff0000"/>
<path d="M256.6 228.1l2 2.4l-2 2.4l-2 -2.4z" stroke="#0000ff"/>
<path d="M352.4 152.8l3 3m0 -3l-3 3" stroke="#00ff00" stroke-width=".7"/>
<circle cx="364.2" cy="165.8" r="2" stroke="#000000"/>
<path d="M363.8 154.7l3 3m0 -3l-3 3" stroke="#00ff00" stroke-width=".7"/>
<circle cx="229.8" cy="231.8" r="2" stroke="#ffff00"/>
<path d="M318.8 166.5l3 3m0 -3l-3 3" stroke="#00ff00" stroke-width=".7"/>
<circle cx="244.0" cy="232.7" r="2" stroke="#0000ff"/>
<path d="M382.9 146.9l3 3m0 -3l-3 3" stroke="#00ff00" stroke-width=".7"/>
<circle cx="306.2" cy="177.6" r="2" stroke="#ffff00"/>
<circle cx="388.0" cy="132.9" r="2" stroke="#00ff00"/>
<circle cx="231.4" cy="228.9" r="2" stroke="#ffff00"/>
<circle cx="347.5" cy="170.0" r="2" stroke="#00ff00"/>
<circle cx="297.7" cy="202.6" r="2" stroke="#ffff00"/>
<circle cx="281.3" cy="217.6" r="2" stroke="#ff0000"/>
<circle cx="401.8" cy="163.2" r="2" stroke="#ff0000"/>
<circle cx="253.2" cy="225.0" r="2" stroke="#ff0000"/>
<circle cx="387.0" cy="158.9" r="2" stroke="#000000"/>
<circle cx="268.1" cy="218.5" r="2" stroke="#ff0000"/>
<circle cx="308.2" cy="203.9" r="2" stroke="#ff0000"/>
<circle cx="421.0" cy="160.5" r="2" stroke="#ffff00"/>
<circle cx="258.5" cy="220.6" r="2" stroke="#000000"/>
<path d="M335.8 144.5l2 2.4l-2 2.4l-2 -2.4z" stroke="#000000"/>
<circle cx="350.4" cy="182.9" r="2" stroke="#000000"/>
<circle cx="303.9" cy="210.3" r="2" stroke="#000000"/>
<path d="M273.9 223.3l3 3m0 -3l-3 3" stroke="#ff0000" stroke-width=".7"/>
<path d="M381.8 178.7l2 2.4l-2 2.4l-2 -2.4z" stroke="#ffff00"/>
<path d="M435.0 131.0l3 3m0 -3l-3 3" stroke="#00ff00" stroke-width=".7"/>
<path d="M359.6 141.7l3 3m0 -3l-3 3" stroke="#00ff00" stroke-width=".7"/>
<path d="M392.6 110.8l3 3m0 -3l-3 3" stroke="#00ff00" stroke-width=".7"/>
<circle cx="302.2" cy="200.1" r="2" stroke="#ff0000"/>
<path d="M235.2 225.0l3 3m0 -3l-3 3" stroke="#ffff00" stroke-width=".7"/>
<path d="M268.1 216.1l2 2.4l-2 2.4l-2 -2.4z" stroke="#ffff00"/>
<path d="M261.5 220.1l2 2.4l-2 2.4l-2 -2.4z" stroke="#0000ff"/>
<circle cx="340.3" cy="166.8" r="2" stroke="#00ff00"/>
<circle cx="344.6" cy="201.6" r="2" stroke="#000000"/>
<path d="M230.1 226.8l3 3m0 -3l-3 3" stroke="#ffff00" stroke-width=".7"/>
<path d="M367.7 129.5l3 3m0 -3l-3 3" stroke="#0000ff" stroke-width=".7"/>
<path d="M353.8 153.0l3 3m0 -3l-3 3" stroke="#00ff00" stroke-width=".7"/>
<path d="M352.8 150.8l3 3m0 -3l-3 3" stroke="#00ff00" stroke-width=".7"/>
<path d="M383.7 108.2l3 3m0 -3l-3 3" stroke="#00ff00" stroke-width=".7"/>
<circle cx="319.4" cy="208.9" r="2" stroke="#0000ff"/>
<path d="M276.8 220.8l2 2.4l-2 2.4l-2 -2.4z" stroke="#ffff00"/>
<path d="M348.8 124.9l3 3m0 -3l-3 3" stroke="#00ff00" stroke-width=".7"/>
<circle cx="392.5" cy="135.9" r="2" stroke="#00ff00"/>
<circle cx="391.0" cy="171.6" r="2" stroke="#ffff00"/>
<circle cx="244.7" cy="233.0" r="2" stroke="#0000ff"/>
<circle cx="275.1" cy="224.6" r="2" stroke="#0000ff"/>
<path d="M232.3 227.1l2 2.4l-2 2.4l-2 -2.4z" stroke="#ffff00"/>
<circle cx="231.4" cy="232.0" r="2" stroke="#0000ff"/>
<path d="M290.6 210.3l2 2.4l-2 2.4l-2 -2.4z" stroke="#ffff00"/>
<path d="M312.2 190.3l2 2.4l-2 2.4l-2 -2.4z" stroke="#ffff00"/>
<path d="M260.6 216.4l3 3m0 -3l-3 3" stroke="#ff0000" stroke-width=".7"/>
<circle cx="264.9" cy="222.6" r="2" stroke="#ffff00"/>
<circle cx="339.8" cy="193.5" r="2" stroke="#000000"/>
<circle cx="311.9" cy="212.0" r="2" stroke="#000000"/>
<path d="M329.3 191.8l3 3m0 -3l-3 3" stroke="#00ff00" stroke-width=".7"/>
<path d="M376.4 129.3l2 2.4l-2 2.4l-2 -2.4z" stroke="#000000"/>
<path d="M277.0 203.9l2 2.4l-2 2.4l-2 -2.4z" stroke="#ff0000"/>
<path d="M337.5 195.5l3 3m0 -3l-3 3" stroke="#00ff00" stroke-width=".7"/>
<path d="M247.0 229.5l2 2.4l-2 2.4l-2 -2.4z" stroke="#0000ff"/>
<path d="M230.2 230.0l3 3m0 -3l-3 3" stroke="#0000ff" stroke-width=".7"/>
<circle cx="378.9" cy="181.8" r="2" stroke="#000000"/>
<circle cx="365.2" cy="182.8" r="2" stroke="#ff0000"/>
<path d="M309.3 189.8l3 3m0 -3l-3 3" stroke="#0000ff" stroke-width=".7"/>
<path d="M387.6 109.5l3 3m0 -3l-3 3" stroke="#00ff00" stroke-width=".7"/>
<path d="M376.1 125.6l3 3m0 -3l-3 3" stroke="#00ff00" stroke-width=".7"/>
<circle cx="314.8" cy="210.6" r="2" stroke="#ff0000"/>
<circle cx="303.1" cy="213.7" r="2" stroke="#ff0000"/>
<path d="M292.8 216.6l2 2.4l-2 2.4l-2 -2.4z" stroke="#0000ff"/>
<circle cx="344.0" cy="184.9" r="2" stroke="#ff0000"/>
<circle cx="252.0" cy="225.4" r="2" stroke="#000000"/>
<path d="M398.1 107.4l3 3m0 -3l-3 3" stroke="#00ff00" stroke-width=".7"/>
<circle cx="247.2" cy="229.2" r="2" stroke="#0000ff"/>
<path d="M234.2 227.5l2 2.4l-2 2.4l-2 -2.4z" stroke="#ffff00"/>
<circle cx="318.8" cy="188.8" r="2" stroke="#000000"/>
<path d="M307.1 196.2l3 3m0 -3l-3 3" stroke="#00ff00" stroke-width=".7"/>
<circle cx="359.1" cy="182.9" r="2" stroke="#ffff00"/>
<circle cx="264.8" cy="221.3" r="2" stroke="#ff0000"/>
<path d="M274.5 212.2l3 3m0 -3l-3 3" stroke="#ffff00" stroke-width=".7"/>
<path d="M249.6 229.2l3 3m0 -3l-3 3" stroke="#0000ff" stroke-width=".7"/>
<path d="M353.0 194.3l3 3m0 -3l-3 3" stroke="#ff0000" stroke-width=".7"/>
<path d="M268.6 212.0l3 3m0 -3l-3 3" stroke="#ff0000" stroke-width=".7"/>
<path d="M390.8 108.5l3 3m0 -3l-3 3" stroke="#00ff00" stroke-width=".7"/>
<circle cx="387.0" cy="148.6" r="2" stroke="#00ff00"/>
<circle cx="338.1" cy="197.8" r="2" stroke="#ffff00"/>
<path d="M354.0 162.3l2 2.4l-2 2.4l-2 -2.4z" stroke="#0000ff"/>
<circle cx="243.7" cy="226.9" r="2" stroke="#0000ff"/>
<path d="M306.2 173.5l3 3m0 -3l-3 3" stroke="#000000" stroke-width=".7"/>
<circle cx="324.6" cy="203.0" r="2" stroke="#000000"/>
<circle cx="391.1" cy="105.9" r="2" stroke="#00ff00"/>
<circle cx="391.5" cy="137.0" r="2" stroke="#00ff00"/>
<path d="M252.9 226.5l3 3m0 -3l-3 3" stroke="#0000ff" stroke-width=".7"/>
<circle cx="377.3" cy="166.9" r="2" stroke="#ff0000"/>
<path d="M363.2 121.5l3 3m0 -3l-3 3" stroke="#00ff00" stroke-width=".7"/>
<circle cx="266.0" cy="218.6" r="2" stroke="#000000"/>
<path d="M302.9 194.3l3 3m0 -3l-3 3" stroke="#ffff00" stroke-width=".7"/>
<path d="M326.8 154.5l3 3m0 -3l-3 3" stroke="#00ff00" stroke-width=".7"/>
<path d="M337.2 196.9l3 3m0 -3l-3 3" stroke="#ff0000" stroke-width=".7"/>
<circle cx="302.9" cy="203.9" r="2" stroke="#000000"/>
<circle cx="322.9" cy="211.1" r="2" stroke="#ffff00"/>
<path d="M335.7 147.1l3 3m0 -3l-3 3" stroke="#00ff00" stroke-width=".7"/>
<path d="M291.4 205.6l2 2.4l-2 2.4l-2 -2.4z" stroke="#ffff00"/>
<circle cx="341.2" cy="142.6" r="2" stroke="#00ff00"/>
<circle cx="386.5" cy="174.6" r="2" stroke="#000000"/>
<circle cx="279.8" cy="213.5" r="2" stroke="#ff0000"/>
<circle cx="281.2" cy="207.5" r="2" stroke="#000000"/>
<path d="M298.1 204.7l3 3m0 -3l-3 3" stroke="#ff0000" stroke-width=".7"/>
<path d="M272.2 216.8l2 2.4l-2 2.4l-2 -2.4z" stroke="#ffff00"/>
<path d="M382.0 169.5l3 3m0 -3l-3 3" stroke="#ff0000" stroke-width=".7"/>
<path d="M414.5 116.5l3 3m0 -3l-3 3" stroke="#00ff00" stroke-width=".7"/>
<circle cx="409.0" cy="158.0" r="2" stroke="#ffff00"/>
<circle cx="272.4" cy="211.6" r="2" stroke="#000000"/>
<circle cx="385.3" cy="173.4" r="2" stroke="#ff0000"/>
<circle cx="314.5" cy="179.6" r="2" stroke="#ffff00"/>
<circle cx="298.9" cy="199.6" r="2" stroke="#ffff00"/>
<path d="M292.8 215.5l2 2.4l-2 2.4l-2 -2.4z" stroke="#ff0000"/>
<circle cx="342.4" cy="196.9" r="2" stroke="#000000"/>
<path d="M231.3 227.4l2 2.4l-2 2.4l-2 -2.4z" stroke="#0000ff"/>
<path d="M379.7 139.3l3 3m0 -3l-3 3" stroke="#00ff00" stroke-width=".7"/>
<path d="M336.7 198.2l2 2.4l-2 2.4l-2 -2.4z" stroke="#000000"/>
<circle cx="358.3" cy="145.3" r="2" stroke="#ffff00"/>
<path d="M333.0 198.2l3 3m0 -3l-3 3" stroke="#000000" stroke-width=".7"/>
<circle cx="339.2" cy="199.9" r="2" stroke="#000000"/>
<path d="M322.7 184.6l2 2.4l-2 2.4l-2 -2.4z" stroke="#ffff00"/>
<circle cx="389.0" cy="93.0" r="2" stroke="#000000"/>
<circle cx="329.5" cy="154.5" r="2" stroke="#00ff00"/>
<circle cx="291.6" cy="204.4" r="2" stroke="#ffff00"/>
<path d="M307.9 184.1l3 3m0 -3l-3 3" stroke="#ff0000" stroke-width=".7"/>
<circle cx="319.9" cy="174.8" r="2" stroke="#ffff00"/>
<circle cx="309.9" cy="214.4" r="2" stroke="#ff0000"/>
<path d="M365.3 163.0l3 3m0 -3l-3 3" stroke="#00ff00" stroke-width=".7"/>
<circle cx="347.4" cy="156.7" r="2" stroke="#000000"/>
<circle cx="387.0" cy="121.9" r="2" stroke="#ffff00"/>
<circle cx="256.9" cy="224.8" r="2" stroke="#ffff00"/>
<path d="M237.6 227.9l3 3m0 -3l-3 3" stroke="#ffff00" stroke-width=".7"/>
<circle cx="295.1" cy="200.8" r="2" stroke="#ffff00"/>
<circle cx="377.0" cy="185.9" r="2" stroke="#000000"/>
<path d="M359.6 127.9l3 3m0 -3l-3 3" stroke="#00ff00" stroke-width=".7"/>
<circle cx="374.2" cy="179.8" r="2" stroke="#ff0000"/>
<circle cx="395.0" cy="118.8" r="2" stroke="#00ff00"/>
<circle cx="234.4" cy="231.7" r="2" stroke="#ffff00"/>
<path d="M301.6 202.4l3 3m0 -3l-3 3" stroke="#ffff00" stroke-width=".7"/>
<circle cx="262.3" cy="227.1" r="2" stroke="#0000ff"/>
<path d="M334.0 185.3l3 3m0 -3l-3 3" stroke="#00ff00" stroke-width=".7"/>
<circle cx="330.2" cy="155.5" r="2" stroke="#000000"/>
<circle cx="361.5" cy="175.9" r="2" stroke="#000000"/>
<path d="M351.8 121.9l3 3m0 -3l-3 3" stroke="#00ff00" stroke-width=".7"/>
<circle cx="352.9" cy="186.2" r="2" stroke="#ff0000"/>
<circle cx="329.7" cy="171.5" r="2" stroke="#00ff00"/>
<path d="M352.8 122.6l3 3m0 -3l-3 3" stroke="#00ff00" stroke-width=".7"/>
<path d="M313.9 176.8l2 2.4l-2 2.4l-2 -2.4z" stroke="#ff0000"/>
<circle cx="352.6" cy="153.2" r="2" stroke="#00ff00"/>
<circle cx="328.8" cy="153.4" r="2" stroke="#00ff00"/>
<path d="M240.0 229.1l2 2.4l-2 2.4l-2 -2.4z" stroke="#0000ff"/>
<circle cx="343.9" cy="170.5" r="2" stroke="#00ff00"/>
<circle cx="241.4" cy="228.7" r="2" stroke="#0000ff"/>
<path d="M352.3 126.6l3 3m0 -3l-3 3" stroke="#00ff00" stroke-width=".7"/>
<circle cx="328.3" cy="152.9" r="2" stroke="#00ff00"/>
<path d="M386.3 166.0l2 2.4l-2 2.4l-2 -2.4z" stroke="#000000"/>
<circle cx="377.7" cy="107.5" r="2" stroke="#ffff00"/>
<path d="M240.9 226.1l2 2.4l-2 2.4l-2 -2.4z" stroke="#0000ff"/>
<path d="M373.5 152.1l2 2.4l-2 2.4l-2 -2.4z" stroke="#ff0000"/>
<circle cx="241.4" cy="228.3" r="2" stroke="#ff0000"/>
<path d="M324.2 164.0l3 3m0 -3l-3 3" stroke="#00ff00" stroke-width=".7"/>
<circle cx="257.8" cy="227.1" r="2" stroke="#0000ff"/>
<circle cx="256.3" cy="224.3" r="2" stroke="#000000"/>
<path d="M318.0 172.8l2 2.4l-2 2.4l-2 -2.4z" stroke="#0000ff"/>
<circle cx="335.3" cy="153.6" r="2" stroke="#00ff00"/>
<circle cx="270.9" cy="208.8" r="2" stroke="#000000"/>
<path d="M270.2 216.7l3 3m0 -3l-3 3" stroke="#ff0000" stroke-width=".7"/>
<circle cx="350.8" cy="152.8" r="2" stroke="#00ff00"/>
<circle cx="437.5" cy="136.5" r="2" stroke="#ff0000"/>
<circle cx="354.9" cy="186.5" r="2" stroke="#ff0000"/>
<circle cx="387.5" cy="137.7" r="2" stroke="#00ff00"/>
<path d="M388.7 148.4l3 3m0 -3l-3 3" stroke="#00ff00" stroke-width=".7"/>
<circle cx="242.1" cy="229.1" r="2" stroke="#0000ff"/>
<path d="M374.8 153.1l3 3m0 -3l-3 3" stroke="#00ff00" stroke-width=".7"/>
<circle cx="242.3" cy="224.8" r="2" stroke="#0000ff"/>
<circle cx="397.0" cy="98.1" r="2" stroke="#ff0000"/>
<circle cx="390.2" cy="165.0" r="2" stroke="#ff0000"/>
<circle cx="310.6" cy="211.9" r="2" stroke="#ffff00"/>
<circle cx="312.4" cy="190.0" r="2" stroke="#000000"/>
</g>
</g>
<g>
<line x1="36" y1="188.3" x2="28.8" y2="186.21" class="a"/>
<line x1="36" y1="168.9" x2="28.8" y2="166.81" class="a"/>
<line x1="36" y1="149.5" x2="28.8" y2="147.41" class="a"/>
<line x1="36" y1="130.1" x2="28.8" y2="128.01" class="a"/>
<line x1="36" y1="110.7" x2="28.8" y2="108.61" class="a"/>
<line x1="36" y1="91.3" x2="28.8" y2="89.21" class="a"/>
<line x1="36" y1="71.9" x2="28.8" y2="69.81" class="a"/>
<line x1="36" y1="52.5" x2="28.8" y2="50.41" class="a"/>
<line x1="248.9" y1="250.2" x2="241.51" y2="251.48" class="a"/>
<line x1="213.42" y1="239.88" x2="206.03" y2="241.16" class="a"/>
<line x1="177.93" y1="229.57" x2="170.54" y2="230.85" class="a"/>
<line x1="142.45" y1="219.25" x2="135.06" y2="220.53" class="a"/>
<line x1="106.97" y1="208.93" x2="99.58" y2="210.21" class="a"/>
<line x1="71.48" y1="198.62" x2="64.09" y2="199.9" class="a"/>
<line x1="36" y1="188.3" x2="28.61" y2="189.58" class="a"/>
<line x1="248.9" y1="250.2" x2="256.1" y2="252.29" class="a"/>
<line x1="304.4" y1="240.58" x2="311.6" y2="242.67" class="a"/>
<line x1="359.9" y1="230.96" x2="367.1" y2="233.05" class="a"/>
<line x1="415.4" y1="221.34" x2="422.6" y2="223.43" class="a"/>
<line x1="470.9" y1="211.72" x2="478.1" y2="213.81" class="a"/>
<line x1="526.4" y1="202.1" x2="533.6" y2="204.19" class="a"/>
</g>
<g>
<text x="26" y="189.4" text-anchor="end" class="t">0.5</text>
<text x="26" y="170" text-anchor="end" class="t">1</text>
<text x="26" y="150.6" text-anchor="end" class="t">1.5</text>
<text x="26" y="131.2" text-anchor="end" class="t">2</text>
<text x="26" y="111.8" text-anchor="end" class="t">2.5</text>
<text x="26" y="92.4" text-anchor="end" class="t">3</text>
<text x="26" y="73" text-anchor="end" class="t">3.5</text>
<text x="26" y="53.6" text-anchor="end" class="t">4</text>
<text x="238.8" y="260.5" text-anchor="end" class="t">-0.05</text>
<text x="203.32" y="250.18" text-anchor="end" class="t">0</text>
<text x="167.83" y="239.87" text-anchor="end" class="t">0.05</text>
<text x="132.35" y="229.55" text-anchor="end" class="t">0.1</text>
<text x="96.87" y="219.23" text-anchor="end" class="t">0.15</text>
<text x="61.38" y="208.92" text-anchor="end" class="t">0.2</text>
<text x="25.9" y="198.6" text-anchor="end" class="t">0.25</text>
<text x="258.5" y="261.9" class="t">0</text>
<text x="314" y="252.28" class="t">0.5</text>
<text x="369.5" y="242.66" class="t">1</text>
<text x="425" y="233.04" class="t">1.5</text>
<text x="480.5" y="223.42" class="t">2</text>
<text x="536" y="213.8" class="t">2.5</text>
</g>
<text x="309.1" y="276" class="al">First PCA Value of Range Profiles Image</text>
<text x="139" y="261.2" class="al">Mean</text>
<text transform="translate(11.3,201.6) rotate(-90)" class="al">First PCA Value of Time-Frequency Image</text>
<text x="15.4" y="35.6" class="e">&#215;</text><text x="21.5" y="35.8" class="e">10</text><text x="30.3" y="32.3" class="s">4</text>
<text x="485.4" y="242.6" class="e">&#215;</text><text x="491.2" y="242.8" class="e">10</text><text x="500.2" y="239.6" class="s">4</text>
<g>
<rect x="68.3" y="60.5" width="78.1" height="130.7" fill="#fff" class="a"/>
<path d="M78.82 65.37L81.78 68.33M78.82 68.33L81.78 65.37" stroke="#0000ff" stroke-width="0.5" fill="none"/>
<text x="92" y="69.5" class="l">Bend and Bend</text>
<circle cx="80.3" cy="76.02" r="1.85" stroke="#0000ff" stroke-width="0.5" fill="none"/>
<text x="92" y="78.67" class="l">Squat and Bend</text>
<path d="M80.3 82.98L81.97 85.2L80.3 87.42L78.63 85.2Z" stroke="#0000ff" stroke-width="0.5" fill="none"/>
<text x="92" y="87.85" class="l">Stand and Bend</text>
<path d="M78.82 92.89L81.78 95.86M78.82 95.86L81.78 92.89" stroke="#ff0000" stroke-width="0.5" fill="none"/>
<text x="92" y="97.03" class="l">Walk and Bend</text>
<circle cx="80.3" cy="103.55" r="1.85" stroke="#ff0000" stroke-width="0.5" fill="none"/>
<text x="92" y="106.2" class="l">Fall and Bend</text>
<path d="M80.3 110.5L81.97 112.72L80.3 114.94L78.63 112.72Z" stroke="#ff0000" stroke-width="0.5" fill="none"/>
<text x="92" y="115.38" class="l">Squat and Squat</text>
<path d="M78.82 120.42L81.78 123.38M78.82 123.38L81.78 120.42" stroke="#000000" stroke-width="0.5" fill="none"/>
<text x="92" y="124.55" class="l">Stand and Squat</text>
<circle cx="80.3" cy="131.07" r="1.85" stroke="#000000" stroke-width="0.5" fill="none"/>
<text x="92" y="133.72" class="l">Fall and Squat</text>
<path d="M80.3 138.03L81.97 140.25L80.3 142.47L78.63 140.25Z" stroke="#000000" stroke-width="0.5" fill="none"/>
<text x="92" y="142.9" class="l">Walk and Squat</text>
<path d="M78.82 147.95L81.78 150.91M78.82 150.91L81.78 147.95" stroke="#ffff00" stroke-width="0.5" fill="none"/>
<text x="92" y="152.08" class="l">Stand and Stand</text>
<circle cx="80.3" cy="158.6" r="1.85" stroke="#ffff00" stroke-width="0.5" fill="none"/>
<text x="92" y="161.25" class="l">Walk and Stand</text>
<path d="M80.3 165.56L81.97 167.78L80.3 170L78.63 167.78Z" stroke="#ffff00" stroke-width="0.5" fill="none"/>
<text x="92" y="170.43" class="l">Fall and Stand</text>
<path d="M78.82 175.47L81.78 178.43M78.82 178.43L81.78 175.47" stroke="#00ff00" stroke-width="0.5" fill="none"/>
<text x="92" y="179.6" class="l">Walk and Walk</text>
<circle cx="80.3" cy="186.12" r="1.85" stroke="#00ff00" stroke-width="0.5" fill="none"/>
<text x="92" y="188.78" class="l">Fall and Walk</text>
</g>
</svg>
</body></html>
